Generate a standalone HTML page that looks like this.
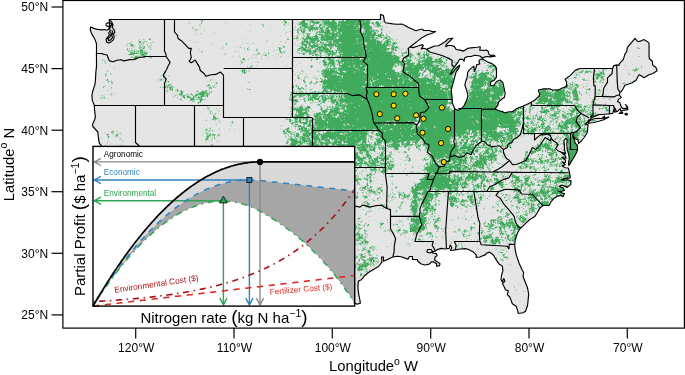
<!DOCTYPE html><html><head><meta charset="utf-8"><style>html,body{margin:0;padding:0;background:#fff}svg{display:block}text{font-family:"Liberation Sans",sans-serif}</style></head><body><svg width="685" height="375" viewBox="0 0 685 375">
<defs><clipPath id="us"><path d="M90.5 27.0 L93.9 28.4 L97.4 29.4 L102.0 29.9 L104.7 29.5 L106.7 30.2 L108.7 29.2 L109.6 25.5 L109.2 19.5 L380.5 19.5 L380.5 14.6 L382.0 14.9 L383.5 15.6 L384.4 21.2 L385.4 22.8 L392.8 23.9 L397.2 24.2 L401.7 24.0 L405.1 25.5 L408.0 27.3 L411.5 28.8 L415.9 30.8 L420.8 29.2 L422.8 29.2 L423.3 30.5 L429.7 30.5 L431.6 31.5 L435.6 31.5 L431.6 33.5 L427.4 34.7 L421.8 37.8 L417.9 40.9 L414.2 43.7 L410.0 47.0 L413.0 47.6 L418.9 45.8 L422.3 44.6 L423.3 45.4 L421.3 48.9 L423.8 48.3 L426.5 49.2 L430.7 47.6 L434.6 46.0 L438.5 45.8 L441.5 43.9 L445.4 41.5 L448.4 38.8 L452.8 38.2 L450.3 40.5 L447.4 43.3 L445.9 45.2 L445.9 46.7 L447.9 45.5 L451.3 45.5 L454.3 46.4 L456.2 49.5 L460.2 50.1 L463.6 51.1 L468.0 48.3 L471.0 47.9 L476.9 47.3 L480.3 46.8 L479.8 50.1 L483.8 50.5 L486.2 50.1 L488.2 51.3 L488.7 53.8 L490.6 55.6 L493.6 55.0 L495.1 56.3 L490.6 56.9 L486.2 56.5 L482.6 57.9 L479.8 56.0 L474.9 55.3 L471.0 56.5 L467.5 56.5 L464.6 58.1 L464.1 61.2 L462.6 59.3 L459.7 59.3 L458.2 61.8 L454.3 67.3 L452.8 69.2 L450.3 74.1 L452.3 72.9 L456.2 68.0 L459.7 65.1 L458.7 68.6 L456.2 71.7 L454.7 77.2 L453.3 82.1 L451.3 89.5 L451.5 92.7 L452.3 99.4 L452.3 103.1 L454.3 107.4 L455.2 109.2 L458.2 110.2 L461.1 109.0 L464.1 105.5 L466.5 100.6 L468.0 95.9 L466.7 90.4 L464.9 85.2 L465.6 81.5 L467.2 77.2 L467.7 72.3 L469.5 69.6 L473.9 66.1 L474.4 71.3 L475.9 68.0 L476.9 64.6 L479.8 64.0 L478.8 60.9 L480.3 59.3 L482.5 59.0 L485.0 60.6 L488.7 62.4 L492.1 63.7 L495.3 66.1 L496.5 68.6 L496.5 72.3 L496.5 77.2 L494.1 80.3 L490.6 82.1 L490.6 85.2 L493.6 85.8 L496.5 81.5 L500.0 80.0 L502.9 82.7 L504.4 89.5 L505.2 93.5 L504.4 97.5 L502.4 98.8 L500.8 100.0 L498.5 102.1 L498.0 104.9 L495.1 108.9 L498.5 110.5 L501.9 111.7 L502.2 111.2 L504.4 112.9 L509.3 111.7 L512.3 111.7 L516.2 108.9 L521.1 106.8 L523.9 105.8 L528.2 103.7 L531.3 102.2 L535.6 99.5 L538.3 96.9 L540.0 94.7 L538.3 90.1 L543.7 88.7 L549.6 88.9 L552.6 90.0 L558.5 89.9 L562.4 88.0 L566.5 86.4 L566.5 82.1 L565.1 79.3 L570.3 75.4 L575.2 70.4 L579.1 68.8 L581.1 68.5 L594.4 68.5 L612.6 68.5 L613.5 65.9 L616.7 64.9 L618.9 65.5 L619.4 63.7 L623.4 59.3 L624.8 54.4 L626.8 51.3 L627.3 47.6 L635.0 38.3 L636.6 40.3 L638.1 41.7 L641.1 40.9 L643.7 39.6 L647.5 41.7 L649.0 43.1 L649.1 57.0 L649.4 58.7 L652.4 61.2 L652.6 64.9 L654.0 66.2 L655.8 67.3 L656.8 69.8 L657.1 70.8 L652.9 73.5 L648.9 74.7 L646.5 76.2 L644.0 77.8 L641.6 76.0 L639.1 74.7 L637.6 77.2 L636.1 80.3 L632.2 82.7 L628.8 84.0 L624.8 85.2 L623.4 88.3 L621.4 91.4 L620.2 92.3 L619.2 95.1 L621.4 97.4 L618.5 99.4 L617.5 101.5 L619.9 102.8 L620.9 106.1 L622.4 108.4 L627.3 108.2 L626.3 105.2 L625.3 104.7 L627.6 106.8 L627.8 109.6 L624.4 110.1 L620.9 111.3 L620.2 108.6 L617.5 111.4 L616.3 111.7 L614.5 112.1 L614.0 108.6 L613.3 111.7 L612.6 113.4 L609.0 114.0 L606.7 114.0 L602.7 114.5 L598.8 114.6 L595.8 115.9 L591.4 117.8 L589.9 119.7 L588.5 120.3 L588.0 121.5 L585.5 124.2 L588.0 124.6 L587.5 130.2 L587.0 133.2 L583.8 138.0 L581.1 141.2 L578.6 143.3 L578.1 140.0 L575.2 138.8 L572.7 135.1 L573.2 133.6 L572.7 136.9 L574.2 139.4 L575.2 143.1 L577.2 144.9 L577.6 149.2 L576.7 152.3 L574.7 156.0 L571.7 160.9 L568.8 165.6 L568.5 162.8 L569.3 159.1 L568.8 154.8 L567.3 149.9 L566.8 144.9 L567.1 140.0 L565.9 138.2 L563.9 140.6 L564.4 144.9 L564.6 149.9 L565.6 153.6 L560.9 152.1 L565.2 155.4 L566.1 158.2 L561.9 157.5 L565.7 160.3 L565.2 162.7 L561.9 161.9 L565.2 164.6 L562.2 165.9 L565.4 167.7 L568.3 168.0 L568.6 169.0 L569.6 172.7 L570.3 177.9 L563.9 178.6 L561.4 180.0 L567.8 179.8 L571.1 180.7 L570.8 184.4 L567.3 187.4 L562.4 185.3 L559.0 186.2 L563.4 188.0 L564.4 190.5 L560.4 191.7 L558.3 191.1 L562.4 193.0 L564.4 193.6 L563.1 196.7 L561.4 195.4 L557.5 196.1 L554.5 197.9 L551.1 201.6 L549.1 205.5 L543.2 205.5 L540.0 207.9 L537.3 212.7 L534.9 216.4 L529.7 219.5 L524.6 224.4 L522.1 226.8 L520.4 228.3 L517.7 232.4 L516.2 236.7 L515.2 239.8 L514.7 244.5 L515.2 249.6 L516.2 254.6 L519.1 263.2 L521.6 268.7 L523.6 272.4 L523.1 276.7 L525.3 282.3 L527.5 287.8 L528.7 294.0 L528.0 301.4 L527.5 305.7 L525.5 311.2 L523.1 312.7 L520.1 313.2 L518.2 313.3 L517.7 310.6 L516.2 306.3 L512.3 303.8 L511.3 300.9 L509.8 297.0 L507.3 294.6 L508.3 290.9 L505.4 289.7 L503.9 286.2 L502.4 283.5 L504.9 281.0 L503.9 278.6 L502.2 281.6 L501.0 279.8 L501.5 275.5 L502.9 270.6 L502.4 266.3 L499.0 264.0 L495.6 258.9 L493.6 255.2 L489.7 252.1 L486.2 253.3 L485.7 254.6 L479.8 257.0 L476.1 257.4 L476.4 255.2 L472.9 251.7 L468.0 249.3 L465.1 248.6 L458.2 249.3 L455.2 249.9 L452.8 250.2 L450.3 250.5 L451.8 247.8 L450.3 244.9 L449.3 248.4 L446.4 248.8 L444.9 249.0 L441.5 248.4 L437.1 249.6 L435.4 251.1 L433.6 251.5 L432.1 252.7 L434.1 253.3 L436.6 253.9 L437.1 255.8 L435.1 257.0 L434.6 260.1 L437.5 261.9 L440.0 263.8 L439.5 265.6 L436.6 266.3 L436.6 263.8 L433.6 261.9 L431.2 261.9 L430.2 263.2 L428.7 264.4 L424.3 265.0 L420.8 263.8 L417.9 261.3 L417.4 259.5 L412.5 259.5 L412.5 256.5 L409.5 256.5 L408.0 259.1 L401.2 256.8 L397.7 256.2 L392.8 257.0 L387.4 259.5 L383.5 261.3 L383.5 257.0 L381.5 257.0 L382.0 261.9 L378.6 266.5 L371.7 270.6 L367.7 273.0 L363.8 276.7 L361.3 279.8 L358.4 281.0 L357.9 286.6 L358.4 292.7 L359.9 300.1 L360.4 303.1 L356.9 304.2 L353.5 302.0 L350.0 301.7 L345.1 299.5 L341.2 297.4 L340.2 294.0 L337.7 289.7 L337.3 284.1 L333.8 280.7 L331.4 276.1 L328.9 273.0 L325.9 264.4 L323.0 261.2 L318.6 256.2 L313.2 255.8 L309.7 254.8 L306.3 256.5 L304.3 261.3 L301.4 265.9 L297.9 264.2 L295.3 262.4 L291.0 260.1 L287.6 256.4 L286.1 250.9 L283.7 245.9 L279.2 242.5 L273.8 236.7 L268.4 231.8 L268.1 231.5 L251.5 231.5 L251.5 236.5 L223.5 236.5 L186.7 222.7 L187.6 219.8 L164.0 222.2 L162.7 220.1 L162.4 218.2 L161.3 213.9 L158.3 210.7 L154.4 207.5 L151.4 207.3 L150.4 204.1 L147.5 204.1 L143.1 202.2 L138.6 199.1 L131.1 198.5 L129.3 196.9 L129.5 191.7 L127.1 187.2 L122.9 183.5 L120.0 179.4 L117.0 175.7 L116.5 172.0 L118.0 169.6 L115.7 167.6 L112.1 164.6 L111.1 160.9 L110.9 157.5 L112.6 157.3 L115.1 160.9 L113.1 156.0 L111.1 156.6 L106.7 154.8 L105.7 151.1 L99.3 143.1 L98.3 136.9 L97.8 132.0 L92.9 126.5 L92.4 124.7 L94.4 120.3 L95.4 117.1 L94.4 108.6 L94.4 105.5 L92.4 100.6 L91.9 95.2 L92.9 90.7 L94.9 84.6 L95.4 80.9 L95.8 73.1 L96.5 66.1 L96.5 60.0 L96.4 53.2 L96.5 50.1 L96.5 43.9 L95.1 39.8 L91.5 33.4 L90.3 29.8Z M587.7 122.5 L590.4 120.3 L593.9 118.8 L598.8 118.2 L601.7 118.5 L604.7 116.0 L603.7 118.5 L606.7 117.6 L609.0 117.0 L603.7 119.7 L598.8 121.3 L593.9 122.5 L588.5 123.3Z M619.1 113.5 L621.4 112.1 L622.9 112.9 L622.4 113.5Z M624.8 114.1 L626.8 113.2 L627.6 114.8 L625.8 114.9Z"/></clipPath></defs>
<rect width="685" height="375" fill="#fff"/>
<path d="M90.5 27.0 L93.9 28.4 L97.4 29.4 L102.0 29.9 L104.7 29.5 L106.7 30.2 L108.7 29.2 L109.6 25.5 L109.2 19.5 L380.5 19.5 L380.5 14.6 L382.0 14.9 L383.5 15.6 L384.4 21.2 L385.4 22.8 L392.8 23.9 L397.2 24.2 L401.7 24.0 L405.1 25.5 L408.0 27.3 L411.5 28.8 L415.9 30.8 L420.8 29.2 L422.8 29.2 L423.3 30.5 L429.7 30.5 L431.6 31.5 L435.6 31.5 L431.6 33.5 L427.4 34.7 L421.8 37.8 L417.9 40.9 L414.2 43.7 L410.0 47.0 L413.0 47.6 L418.9 45.8 L422.3 44.6 L423.3 45.4 L421.3 48.9 L423.8 48.3 L426.5 49.2 L430.7 47.6 L434.6 46.0 L438.5 45.8 L441.5 43.9 L445.4 41.5 L448.4 38.8 L452.8 38.2 L450.3 40.5 L447.4 43.3 L445.9 45.2 L445.9 46.7 L447.9 45.5 L451.3 45.5 L454.3 46.4 L456.2 49.5 L460.2 50.1 L463.6 51.1 L468.0 48.3 L471.0 47.9 L476.9 47.3 L480.3 46.8 L479.8 50.1 L483.8 50.5 L486.2 50.1 L488.2 51.3 L488.7 53.8 L490.6 55.6 L493.6 55.0 L495.1 56.3 L490.6 56.9 L486.2 56.5 L482.6 57.9 L479.8 56.0 L474.9 55.3 L471.0 56.5 L467.5 56.5 L464.6 58.1 L464.1 61.2 L462.6 59.3 L459.7 59.3 L458.2 61.8 L454.3 67.3 L452.8 69.2 L450.3 74.1 L452.3 72.9 L456.2 68.0 L459.7 65.1 L458.7 68.6 L456.2 71.7 L454.7 77.2 L453.3 82.1 L451.3 89.5 L451.5 92.7 L452.3 99.4 L452.3 103.1 L454.3 107.4 L455.2 109.2 L458.2 110.2 L461.1 109.0 L464.1 105.5 L466.5 100.6 L468.0 95.9 L466.7 90.4 L464.9 85.2 L465.6 81.5 L467.2 77.2 L467.7 72.3 L469.5 69.6 L473.9 66.1 L474.4 71.3 L475.9 68.0 L476.9 64.6 L479.8 64.0 L478.8 60.9 L480.3 59.3 L482.5 59.0 L485.0 60.6 L488.7 62.4 L492.1 63.7 L495.3 66.1 L496.5 68.6 L496.5 72.3 L496.5 77.2 L494.1 80.3 L490.6 82.1 L490.6 85.2 L493.6 85.8 L496.5 81.5 L500.0 80.0 L502.9 82.7 L504.4 89.5 L505.2 93.5 L504.4 97.5 L502.4 98.8 L500.8 100.0 L498.5 102.1 L498.0 104.9 L495.1 108.9 L498.5 110.5 L501.9 111.7 L502.2 111.2 L504.4 112.9 L509.3 111.7 L512.3 111.7 L516.2 108.9 L521.1 106.8 L523.9 105.8 L528.2 103.7 L531.3 102.2 L535.6 99.5 L538.3 96.9 L540.0 94.7 L538.3 90.1 L543.7 88.7 L549.6 88.9 L552.6 90.0 L558.5 89.9 L562.4 88.0 L566.5 86.4 L566.5 82.1 L565.1 79.3 L570.3 75.4 L575.2 70.4 L579.1 68.8 L581.1 68.5 L594.4 68.5 L612.6 68.5 L613.5 65.9 L616.7 64.9 L618.9 65.5 L619.4 63.7 L623.4 59.3 L624.8 54.4 L626.8 51.3 L627.3 47.6 L635.0 38.3 L636.6 40.3 L638.1 41.7 L641.1 40.9 L643.7 39.6 L647.5 41.7 L649.0 43.1 L649.1 57.0 L649.4 58.7 L652.4 61.2 L652.6 64.9 L654.0 66.2 L655.8 67.3 L656.8 69.8 L657.1 70.8 L652.9 73.5 L648.9 74.7 L646.5 76.2 L644.0 77.8 L641.6 76.0 L639.1 74.7 L637.6 77.2 L636.1 80.3 L632.2 82.7 L628.8 84.0 L624.8 85.2 L623.4 88.3 L621.4 91.4 L620.2 92.3 L619.2 95.1 L621.4 97.4 L618.5 99.4 L617.5 101.5 L619.9 102.8 L620.9 106.1 L622.4 108.4 L627.3 108.2 L626.3 105.2 L625.3 104.7 L627.6 106.8 L627.8 109.6 L624.4 110.1 L620.9 111.3 L620.2 108.6 L617.5 111.4 L616.3 111.7 L614.5 112.1 L614.0 108.6 L613.3 111.7 L612.6 113.4 L609.0 114.0 L606.7 114.0 L602.7 114.5 L598.8 114.6 L595.8 115.9 L591.4 117.8 L589.9 119.7 L588.5 120.3 L588.0 121.5 L585.5 124.2 L588.0 124.6 L587.5 130.2 L587.0 133.2 L583.8 138.0 L581.1 141.2 L578.6 143.3 L578.1 140.0 L575.2 138.8 L572.7 135.1 L573.2 133.6 L572.7 136.9 L574.2 139.4 L575.2 143.1 L577.2 144.9 L577.6 149.2 L576.7 152.3 L574.7 156.0 L571.7 160.9 L568.8 165.6 L568.5 162.8 L569.3 159.1 L568.8 154.8 L567.3 149.9 L566.8 144.9 L567.1 140.0 L565.9 138.2 L563.9 140.6 L564.4 144.9 L564.6 149.9 L565.6 153.6 L560.9 152.1 L565.2 155.4 L566.1 158.2 L561.9 157.5 L565.7 160.3 L565.2 162.7 L561.9 161.9 L565.2 164.6 L562.2 165.9 L565.4 167.7 L568.3 168.0 L568.6 169.0 L569.6 172.7 L570.3 177.9 L563.9 178.6 L561.4 180.0 L567.8 179.8 L571.1 180.7 L570.8 184.4 L567.3 187.4 L562.4 185.3 L559.0 186.2 L563.4 188.0 L564.4 190.5 L560.4 191.7 L558.3 191.1 L562.4 193.0 L564.4 193.6 L563.1 196.7 L561.4 195.4 L557.5 196.1 L554.5 197.9 L551.1 201.6 L549.1 205.5 L543.2 205.5 L540.0 207.9 L537.3 212.7 L534.9 216.4 L529.7 219.5 L524.6 224.4 L522.1 226.8 L520.4 228.3 L517.7 232.4 L516.2 236.7 L515.2 239.8 L514.7 244.5 L515.2 249.6 L516.2 254.6 L519.1 263.2 L521.6 268.7 L523.6 272.4 L523.1 276.7 L525.3 282.3 L527.5 287.8 L528.7 294.0 L528.0 301.4 L527.5 305.7 L525.5 311.2 L523.1 312.7 L520.1 313.2 L518.2 313.3 L517.7 310.6 L516.2 306.3 L512.3 303.8 L511.3 300.9 L509.8 297.0 L507.3 294.6 L508.3 290.9 L505.4 289.7 L503.9 286.2 L502.4 283.5 L504.9 281.0 L503.9 278.6 L502.2 281.6 L501.0 279.8 L501.5 275.5 L502.9 270.6 L502.4 266.3 L499.0 264.0 L495.6 258.9 L493.6 255.2 L489.7 252.1 L486.2 253.3 L485.7 254.6 L479.8 257.0 L476.1 257.4 L476.4 255.2 L472.9 251.7 L468.0 249.3 L465.1 248.6 L458.2 249.3 L455.2 249.9 L452.8 250.2 L450.3 250.5 L451.8 247.8 L450.3 244.9 L449.3 248.4 L446.4 248.8 L444.9 249.0 L441.5 248.4 L437.1 249.6 L435.4 251.1 L433.6 251.5 L432.1 252.7 L434.1 253.3 L436.6 253.9 L437.1 255.8 L435.1 257.0 L434.6 260.1 L437.5 261.9 L440.0 263.8 L439.5 265.6 L436.6 266.3 L436.6 263.8 L433.6 261.9 L431.2 261.9 L430.2 263.2 L428.7 264.4 L424.3 265.0 L420.8 263.8 L417.9 261.3 L417.4 259.5 L412.5 259.5 L412.5 256.5 L409.5 256.5 L408.0 259.1 L401.2 256.8 L397.7 256.2 L392.8 257.0 L387.4 259.5 L383.5 261.3 L383.5 257.0 L381.5 257.0 L382.0 261.9 L378.6 266.5 L371.7 270.6 L367.7 273.0 L363.8 276.7 L361.3 279.8 L358.4 281.0 L357.9 286.6 L358.4 292.7 L359.9 300.1 L360.4 303.1 L356.9 304.2 L353.5 302.0 L350.0 301.7 L345.1 299.5 L341.2 297.4 L340.2 294.0 L337.7 289.7 L337.3 284.1 L333.8 280.7 L331.4 276.1 L328.9 273.0 L325.9 264.4 L323.0 261.2 L318.6 256.2 L313.2 255.8 L309.7 254.8 L306.3 256.5 L304.3 261.3 L301.4 265.9 L297.9 264.2 L295.3 262.4 L291.0 260.1 L287.6 256.4 L286.1 250.9 L283.7 245.9 L279.2 242.5 L273.8 236.7 L268.4 231.8 L268.1 231.5 L251.5 231.5 L251.5 236.5 L223.5 236.5 L186.7 222.7 L187.6 219.8 L164.0 222.2 L162.7 220.1 L162.4 218.2 L161.3 213.9 L158.3 210.7 L154.4 207.5 L151.4 207.3 L150.4 204.1 L147.5 204.1 L143.1 202.2 L138.6 199.1 L131.1 198.5 L129.3 196.9 L129.5 191.7 L127.1 187.2 L122.9 183.5 L120.0 179.4 L117.0 175.7 L116.5 172.0 L118.0 169.6 L115.7 167.6 L112.1 164.6 L111.1 160.9 L110.9 157.5 L112.6 157.3 L115.1 160.9 L113.1 156.0 L111.1 156.6 L106.7 154.8 L105.7 151.1 L99.3 143.1 L98.3 136.9 L97.8 132.0 L92.9 126.5 L92.4 124.7 L94.4 120.3 L95.4 117.1 L94.4 108.6 L94.4 105.5 L92.4 100.6 L91.9 95.2 L92.9 90.7 L94.9 84.6 L95.4 80.9 L95.8 73.1 L96.5 66.1 L96.5 60.0 L96.4 53.2 L96.5 50.1 L96.5 43.9 L95.1 39.8 L91.5 33.4 L90.3 29.8Z M587.7 122.5 L590.4 120.3 L593.9 118.8 L598.8 118.2 L601.7 118.5 L604.7 116.0 L603.7 118.5 L606.7 117.6 L609.0 117.0 L603.7 119.7 L598.8 121.3 L593.9 122.5 L588.5 123.3Z M619.1 113.5 L621.4 112.1 L622.9 112.9 L622.4 113.5Z M624.8 114.1 L626.8 113.2 L627.6 114.8 L625.8 114.9Z" fill="#e5e5e5"/>
<g clip-path="url(#us)" fill="none" stroke="#41ab5d" stroke-width="1" shape-rendering="crispEdges"><path stroke-opacity="0.25" d="M379 18.5h1M191 19.5h1m12 0h1m82 0h2m17 0h1m3 0h3m1 0h2m4 0h2m4 0h1m6 0h1m2 0h1m1 0h1m24 0h1m14 0h1M201 20.5h1m81 0h1m22 0h1m7 0h1m1 0h2m11 0h1m7 0h1m1 0h3M282 21.5h1m3 0h1m23 0h1m4 0h1m4 0h1m9 0h1m5 0h1m33 0h1m6 0h2m3 0h2M190 22.5h1m10 0h1m70 0h1m9 0h1m10 0h1m3 0h1m8 0h1m13 0h1m2 0h1m12 0h1m25 0h1m16 0h2m1 0h1M189 23.5h1m71 0h1m22 0h1m1 0h1m1 0h1m10 0h1m8 0h1m3 0h1m7 0h2m48 0h2M111 24.5h2m75 0h1m10 0h1m1 0h1m38 0h1m9 0h1m10 0h1m1 0h1m19 0h1m3 0h2m3 0h1m17 0h1m1 0h1m3 0h1m5 0h2m45 0h1m4 0h2M111 25.5h1m88 0h1m61 0h1m21 0h2m14 0h2m6 0h2m4 0h1m6 0h1m3 0h1m28 0h1m3 0h1m12 0h1m4 0h1M110 26.5h1m83 0h1m90 0h1m9 0h1m17 0h1m2 0h2m4 0h1m2 0h1m1 0h1m31 0h1m14 0h1m6 0h1M114 27.5h2m84 0h1m98 0h1m1 0h3m13 0h1m5 0h1m1 0h1m13 0h1m19 0h2m12 0h1m7 0h2M270 28.5h1m28 0h1m5 0h1m13 0h1m3 0h1m1 0h1m4 0h1m31 0h1M116 29.5h1m76 0h1m3 0h1m6 0h1m79 0h1m14 0h1m19 0h1m3 0h2m12 0h1m25 0h1m6 0h1m2 0h2M194 30.5h2m35 0h2m16 0h2m19 0h1m11 0h1m10 0h2m1 0h1m1 0h2m2 0h1m10 0h2m2 0h1m12 0h1m6 0h1m40 0h1M196 31.5h1m92 0h1m15 0h1m2 0h1m3 0h1m3 0h1m1 0h1m18 0h1m24 0h1m12 0h1m1 0h1m3 0h1m7 0h1M118 32.5h1m77 0h1m17 0h1m59 0h1m26 0h1m29 0h1m2 0h1m27 0h1m19 0h1m3 0h1m2 0h1M113 33.5h1m83 0h1m2 0h2m12 0h1m76 0h1m5 0h1m1 0h1m2 0h1m1 0h2m4 0h1m6 0h1m23 0h1m19 0h1m15 0h1m2 0h1M116 34.5h1m77 0h1m3 0h1m2 0h1m52 0h1m43 0h3m1 0h2m9 0h1m1 0h1m7 0h2m13 0h1m44 0h1M115 35.5h1m11 0h1m67 0h2m94 0h1m7 0h1m6 0h1m2 0h1m10 0h1m9 0h1m55 0h3M224 36.5h1m69 0h2m8 0h1m13 0h1m1 0h1m56 0h1m5 0h2m4 0h1M129 37.5h1m110 0h1m46 0h1m13 0h2m15 0h3m54 0h1m2 0h3m2 0h1m3 0h1m2 0h1M150 38.5h1m93 0h1m42 0h2m9 0h1m2 0h1m2 0h1m75 0h1m2 0h1m6 0h3M139 39.5h1m4 0h1m149 0h1m7 0h1m73 0h2m6 0h1m1 0h1m4 0h3m2 0h2M138 40.5h2m4 0h1m44 0h2m111 0h2m5 0h1m10 0h1m11 0h1m45 0h2m1 0h1m3 0h1m3 0h2m3 0h1M132 41.5h1m8 0h3m1 0h1m48 0h1m38 0h1m31 0h2m20 0h1m13 0h1m19 0h2m1 0h1m55 0h1m3 0h1m8 0h1m1 0h2m2 0h1M130 42.5h2m6 0h1m3 0h1m1 0h1m6 0h3m88 0h1m62 0h1m9 0h1m11 0h1m12 0h1m23 0h1m18 0h1m5 0h1m1 0h1M127 43.5h3m9 0h4m82 0h1m17 0h1m2 0h3m3 0h3m17 0h1m22 0h1m4 0h1m3 0h1m13 0h1m5 0h1m1 0h1m13 0h1m24 0h2m22 0h1m7 0h1M127 44.5h1m2 0h1m2 0h1m5 0h2m132 0h1m5 0h1m15 0h1m1 0h1m3 0h1m5 0h2m6 0h1m2 0h1m1 0h1m43 0h2m26 0h1M127 45.5h1m6 0h1m4 0h2m1 0h1m4 0h1m78 0h1m13 0h1m56 0h2m1 0h1m2 0h1m3 0h2m11 0h1M130 46.5h3m2 0h1m6 0h2m4 0h1m52 0h1m34 0h2m24 0h1m35 0h1m4 0h1m24 0h1m58 0h3m5 0h1m1 0h2M132 47.5h2m4 0h1m3 0h1m5 0h2m71 0h1m17 0h1m1 0h1m2 0h1m59 0h1m10 0h2m10 0h1m8 0h1m61 0h1m239 0h1M131 48.5h2m17 0h1m70 0h2m25 0h1m7 0h2m20 0h1m27 0h2m13 0h1m10 0h1m32 0h1m28 0h1m3 0h2m2 0h2M128 49.5h1m5 0h3m14 0h1m47 0h1m50 0h1m6 0h1m6 0h1m9 0h1m2 0h1m2 0h1m17 0h1m1 0h1m10 0h1m1 0h1m4 0h1m10 0h1m5 0h1m29 0h1m33 0h3m1 0h1m2 0h1m1 0h1M127 50.5h3m2 0h2m2 0h1m1 0h2m3 0h2m54 0h1m45 0h1m1 0h2m5 0h1m19 0h1m3 0h1m21 0h2m9 0h2m20 0h1m53 0h1m3 0h1m5 0h1m8 0h1M129 51.5h3m1 0h1m1 0h2m2 0h1m62 0h1m35 0h1m43 0h4m11 0h1m4 0h1m1 0h1m7 0h1m4 0h2m19 0h1m25 0h1m22 0h1m1 0h2m2 0h1m13 0h1m2 0h1m7 0h1m9 0h1M129 52.5h1m3 0h1m1 0h1m2 0h2m3 0h1m57 0h1m57 0h1m8 0h1m10 0h1m3 0h1m18 0h1m1 0h1m12 0h2m4 0h1m4 0h1m8 0h1m56 0h1m3 0h1m4 0h1m6 0h1m8 0h1m3 0h1m3 0h2M139 53.5h1m7 0h1m5 0h1m109 0h1m1 0h1m9 0h1m8 0h1m2 0h1m10 0h1m1 0h2m3 0h1m1 0h1m6 0h1m1 0h2m1 0h1m1 0h1m2 0h1m1 0h1m14 0h2m49 0h1m2 0h1m20 0h1m7 0h1M224 54.5h2m27 0h4m2 0h1m1 0h2m1 0h1m1 0h1m1 0h1m7 0h1m35 0h1m8 0h1m2 0h1m11 0h1m2 0h1m54 0h1m6 0h1m14 0h1m5 0h1m7 0h2m1 0h1M130 55.5h1m2 0h1m2 0h3m7 0h1m3 0h1m74 0h1m13 0h1m12 0h1m3 0h1m6 0h1m8 0h1m31 0h1m14 0h1m2 0h1m1 0h3m7 0h3m4 0h1m59 0h1m1 0h2m1 0h1m15 0h1m6 0h1m21 0h1M132 56.5h1m1 0h1m3 0h1m92 0h2m5 0h1m22 0h1m14 0h1m12 0h1m19 0h1m1 0h1m4 0h1m2 0h1m1 0h1m5 0h1m2 0h1m69 0h3m17 0h3m7 0h1m2 0h1m3 0h1m5 0h2m5 0h1m187 0h1M112 57.5h1m17 0h1m1 0h1m16 0h1m88 0h1m1 0h1m11 0h1m2 0h2m16 0h1m36 0h1m7 0h1m5 0h1m1 0h1m7 0h1m2 0h1m2 0h2m10 0h1m58 0h3m1 0h1m2 0h1m13 0h1m1 0h1m9 0h1m2 0h1M242 58.5h1m5 0h1m3 0h1m8 0h1m5 0h1m43 0h2m5 0h1m8 0h1m3 0h1m5 0h3m21 0h2m39 0h1m1 0h1m2 0h2m7 0h4m2 0h1m25 0h1M103 59.5h1m12 0h1m11 0h1m7 0h1m55 0h1m1 0h2m52 0h1m61 0h1m1 0h1m27 0h1m19 0h1m38 0h1m3 0h1m10 0h1m1 0h1m3 0h1m11 0h1m1 0h1m12 0h2m32 0h1M104 60.5h1m10 0h2m18 0h1m3 0h1m48 0h1m6 0h1m73 0h1m5 0h1m17 0h1m31 0h1m8 0h2m3 0h1m61 0h1m3 0h1m13 0h2m13 0h1m12 0h1m4 0h1m26 0h1m1 0h1M105 61.5h1m39 0h1m49 0h1m46 0h1m11 0h1m39 0h1m15 0h1m9 0h1m1 0h1m3 0h1m1 0h1m8 0h1m79 0h1m26 0h3m4 0h1m3 0h1m23 0h2m1 0h1M104 62.5h2m89 0h2m95 0h1m6 0h1m16 0h1m2 0h2m1 0h1m5 0h1m14 0h1m21 0h1m37 0h3m4 0h1m2 0h1m3 0h1m5 0h1m22 0h1m4 0h1m1 0h1m3 0h1m31 0h1M102 63.5h1m2 0h1m87 0h1m57 0h1m47 0h1m19 0h1m7 0h1m7 0h1m1 0h1m2 0h1m75 0h1m3 0h1m13 0h1m6 0h1m1 0h1m2 0h1m7 0h1m1 0h1m28 0h1m3 0h2M237 64.5h1m2 0h1m32 0h1m22 0h1m23 0h1m14 0h1m2 0h1m1 0h1m54 0h1m3 0h1m14 0h1m18 0h2m1 0h2m4 0h1m9 0h1m35 0h1m1 0h1m141 0h1M109 65.5h1m87 0h1m58 0h2m29 0h1m24 0h1m10 0h1m13 0h2m15 0h1m5 0h1m35 0h1m2 0h2m4 0h1m29 0h1m4 0h1m3 0h1m9 0h1m33 0h1m136 0h1m8 0h1M247 66.5h1m4 0h1m30 0h1m26 0h1m14 0h1m2 0h2m1 0h3m5 0h1m26 0h1m27 0h1m18 0h1m9 0h1m2 0h1m11 0h1m2 0h1m6 0h1m9 0h1m27 0h1m8 0h1m129 0h1M248 67.5h2m1 0h1m2 0h1m34 0h1m5 0h1m14 0h1m1 0h1m7 0h1m4 0h1m2 0h1m6 0h2m28 0h2m26 0h2m1 0h1m3 0h1m38 0h1m2 0h2m1 0h3m4 0h1m20 0h4m12 0h1m2 0h2M247 68.5h1m28 0h1m79 0h1m8 0h1m26 0h1m8 0h1m29 0h1m13 0h1m4 0h1m1 0h1m34 0h2m90 0h1m2 0h1m2 0h1m15 0h2m32 0h1M321 69.5h2m6 0h1m64 0h1m47 0h1m9 0h1m20 0h1m4 0h1m8 0h1m101 0h1m11 0h1m2 0h3m16 0h1m8 0h1M107 70.5h2m131 0h2m6 0h2m41 0h1m9 0h1m33 0h1m1 0h1m27 0h1m57 0h1m2 0h1m13 0h1m35 0h2m3 0h1m6 0h1m6 0h1m79 0h4m1 0h2m6 0h1m2 0h1m5 0h1m1 0h1m2 0h1m25 0h1m5 0h1m2 0h1M106 71.5h1m56 0h1m77 0h1m4 0h1m1 0h2m42 0h1m8 0h1m1 0h1m15 0h1m17 0h1m57 0h1m1 0h1m8 0h1m46 0h1m24 0h1m3 0h2m3 0h1m1 0h1m1 0h1m88 0h1m2 0h1m10 0h1m5 0h2m33 0h1M246 72.5h1m52 0h1m2 0h1m15 0h1m2 0h1m17 0h1m5 0h1m20 0h1m33 0h2m17 0h2m1 0h1m1 0h1m4 0h1m20 0h2m3 0h1m22 0h1m4 0h2m5 0h1m81 0h1m2 0h4m9 0h1m5 0h1m4 0h1m27 0h1M111 73.5h1m52 0h2m76 0h1m2 0h1m57 0h1m2 0h1m2 0h1m111 0h1m1 0h1m5 0h1m2 0h1m18 0h1m20 0h1m1 0h1m14 0h1m5 0h1m79 0h1m2 0h1m2 0h1m2 0h2m9 0h1m3 0h1m28 0h2M106 74.5h1m3 0h2m188 0h1m5 0h1m14 0h1m15 0h2m84 0h1m5 0h1m25 0h1m30 0h1m2 0h1m2 0h1m3 0h1m78 0h1m2 0h2m4 0h1m9 0h1m6 0h2m25 0h1M160 75.5h1m5 0h1m1 0h1m72 0h1m55 0h1m6 0h1m8 0h1m5 0h1m2 0h1m85 0h1m2 0h1m11 0h1m1 0h1m3 0h1m24 0h1m13 0h1m4 0h1m13 0h1m7 0h1m78 0h1m2 0h1m17 0h1m6 0h3M105 76.5h2m61 0h2m128 0h1m7 0h1m7 0h1m26 0h1m68 0h1m11 0h1m3 0h2m3 0h1m13 0h1m8 0h1m13 0h1m8 0h2m12 0h1m83 0h1m19 0h1m4 0h1M164 77.5h1m47 0h1m86 0h1m5 0h2m6 0h2m83 0h1m24 0h1m2 0h1m1 0h1m24 0h1m24 0h1m11 0h1m1 0h1m110 0h1M159 78.5h1m1 0h1m135 0h1m7 0h1m2 0h1m5 0h4m3 0h1m66 0h1m1 0h1m62 0h1m14 0h3m1 0h1m19 0h1m1 0h1m72 0h2m2 0h1m1 0h1m8 0h1m1 0h1m3 0h1m6 0h1M157 79.5h1m1 0h1m3 0h2m45 0h1m3 0h1m84 0h1m1 0h1m1 0h1m12 0h1m6 0h1m2 0h1m63 0h1m21 0h1m24 0h1m29 0h1m25 0h1m74 0h1m24 0h1m2 0h1m3 0h3m1 0h1m30 0h1M105 80.5h2m1 0h1m2 0h1m45 0h1m1 0h1m7 0h1m43 0h1m2 0h1m32 0h1m47 0h1m189 0h1m100 0h1m2 0h1m4 0h1m7 0h1m30 0h2M107 81.5h1m49 0h2m3 0h1m4 0h1m39 0h2m86 0h1m9 0h1m60 0h1m3 0h1m32 0h1m31 0h1m1 0h1m48 0h2m3 0h2m3 0h2m1 0h3m73 0h1m17 0h1m36 0h1M108 82.5h1m102 0h1m3 0h1m1 0h1m31 0h1m55 0h1m6 0h1m52 0h2m3 0h2m26 0h1m28 0h1m68 0h1m72 0h1m3 0h1m20 0h1m1 0h1M108 83.5h1m56 0h1m49 0h1m88 0h1m6 0h1m1 0h1m2 0h1m5 0h1m112 0h1m4 0h1m11 0h1m50 0h1m70 0h2m46 0h1m7 0h1M169 84.5h1m1 0h1m44 0h1m88 0h1m3 0h2m4 0h1m5 0h2m48 0h1m46 0h1m16 0h1m34 0h1m15 0h1m9 0h1m1 0h1m4 0h1m64 0h1M164 85.5h1m2 0h1m2 0h1m35 0h1m3 0h1m85 0h3m20 0h1m5 0h1m45 0h1m20 0h1m24 0h1m24 0h1m1 0h1m41 0h1m10 0h1m71 0h1m5 0h1m10 0h1m4 0h1m9 0h1M109 86.5h1m50 0h1m3 0h1m3 0h3m34 0h1m2 0h5m101 0h1m64 0h1m3 0h1m58 0h1m1 0h1m22 0h1m18 0h2m9 0h1m71 0h1m1 0h1m2 0h3m4 0h1m3 0h1m15 0h1m18 0h1M163 87.5h2m1 0h1m1 0h1m4 0h2m33 0h1m5 0h2m75 0h1m4 0h1m13 0h1m131 0h1m4 0h1m33 0h1m4 0h1m76 0h1m4 0h1m3 0h1m5 0h1m41 0h1M111 88.5h1m59 0h1m5 0h1m30 0h1m88 0h1m8 0h1m4 0h2m52 0h1m104 0h2m9 0h1m1 0h2m1 0h1m75 0h1m3 0h2m13 0h1m3 0h1m2 0h1m17 0h1M110 89.5h1m55 0h1m9 0h1m4 0h1m65 0h2m1 0h1m43 0h1m2 0h1m8 0h1m4 0h1m16 0h1m13 0h1m98 0h1m6 0h1m21 0h1m91 0h1m7 0h1m15 0h1M109 90.5h1m60 0h2m8 0h1m16 0h1m4 0h2m3 0h1m1 0h1m90 0h1m9 0h1m10 0h1m149 0h1m11 0h1m56 0h1m7 0h1m4 0h2m12 0h1m2 0h1m6 0h1m10 0h1m12 0h1m5 0h1M165 91.5h1m1 0h2m3 0h1m6 0h2m2 0h1m14 0h1m2 0h1m5 0h2m1 0h1m82 0h2m2 0h2m2 0h1m3 0h2m2 0h1m2 0h2m2 0h1m2 0h1m1 0h1m147 0h1m78 0h4m17 0h2m6 0h2m11 0h1m5 0h2m3 0h1M111 92.5h2m54 0h1m11 0h1m17 0h1m9 0h2m2 0h1m38 0h1m56 0h1m1 0h1m6 0h1m8 0h1m4 0h1m1 0h2m2 0h1m2 0h1m37 0h1m90 0h1m21 0h1m61 0h2m11 0h2m10 0h1m2 0h1m17 0h2M111 93.5h1m2 0h1m57 0h1m5 0h1m8 0h1m9 0h1m10 0h1m84 0h1m1 0h1m1 0h1m10 0h2m2 0h1m7 0h2m2 0h1m11 0h1m131 0h1m23 0h1m75 0h1m2 0h1m8 0h1m13 0h1m1 0h1m1 0h2M104 94.5h1m9 0h1m60 0h4m7 0h1m1 0h1m3 0h1m12 0h1m104 0h2m10 0h1m8 0h1m3 0h1m2 0h1m128 0h1m98 0h1m2 0h1m2 0h1m6 0h1m7 0h1m7 0h2m7 0h1M101 95.5h1m9 0h1m59 0h1m2 0h1m1 0h1m5 0h1m3 0h1m3 0h1m3 0h1m3 0h2m5 0h1m2 0h1m82 0h1m6 0h1m6 0h1m12 0h3m19 0h1m127 0h1m101 0h1m7 0h1m16 0h2m1 0h1m7 0h1m1 0h1M102 96.5h1m1 0h1m70 0h1m5 0h1m4 0h1m9 0h1m2 0h1m4 0h1m86 0h1m6 0h1m4 0h1m14 0h1m7 0h2m1 0h1m12 0h1m126 0h1m31 0h1m63 0h1m3 0h1m31 0h1m3 0h1M101 97.5h1m71 0h1m7 0h1m3 0h1m6 0h1m4 0h1m9 0h1m83 0h1m3 0h1m1 0h1m1 0h1m3 0h2m16 0h1m4 0h1m8 0h1m1 0h2m113 0h1m37 0h1m9 0h1m36 0h1m11 0h1m16 0h2m1 0h1m1 0h1m1 0h1m4 0h1m7 0h1m7 0h1m8 0h1m2 0h1m5 0h1M101 98.5h1m75 0h1m2 0h2m7 0h1m6 0h1m92 0h1m13 0h1m1 0h1m1 0h1m12 0h1m14 0h2m7 0h1m123 0h1m67 0h1m1 0h1m13 0h1m13 0h2m1 0h1m9 0h1m10 0h1m13 0h1m5 0h1M102 99.5h1m92 0h1m2 0h1m4 0h2m92 0h1m1 0h3m3 0h1m1 0h1m12 0h1m6 0h1m34 0h1m85 0h1m42 0h1m45 0h1m31 0h1m23 0h1m2 0h3m9 0h1M179 100.5h1m1 0h2m9 0h1m11 0h1m101 0h1m2 0h1m1 0h1m5 0h2m17 0h2m152 0h1m5 0h1m1 0h1m36 0h2m17 0h1m18 0h2m3 0h2m17 0h1m11 0h1M189 101.5h1m4 0h1m6 0h1m89 0h1m18 0h1m2 0h1m1 0h1m2 0h1m2 0h1m3 0h1m3 0h1m8 0h1m111 0h1m47 0h1m35 0h1m29 0h1m11 0h2m8 0h1m4 0h1M197 102.5h1m3 0h1m89 0h2m3 0h2m13 0h1m1 0h1m5 0h1m1 0h1m3 0h1m4 0h1m4 0h1m8 0h1m190 0h1m7 0h1m31 0h1m18 0h2m9 0h1M296 103.5h1m8 0h1m5 0h2m5 0h1m2 0h1m20 0h1m202 0h1m20 0h4m2 0h3m3 0h1m15 0h1m10 0h1M204 104.5h1m88 0h1m7 0h1m1 0h1m17 0h1m12 0h1m93 0h1m18 0h1m1 0h1m75 0h1m3 0h1m1 0h2m1 0h1m2 0h1m5 0h1m2 0h1m6 0h1m21 0h1m5 0h1m8 0h5m1 0h1m6 0h1M207 105.5h1m84 0h1m1 0h1m1 0h1m6 0h1m3 0h1m12 0h1m6 0h1m2 0h1m196 0h1m2 0h1m1 0h1m2 0h1m6 0h2m9 0h1m7 0h2m11 0h2m8 0h1m1 0h2m3 0h2m13 0h1M192 106.5h1m96 0h1m4 0h1m2 0h1m4 0h1m1 0h1m11 0h1m4 0h1m6 0h1m2 0h1m2 0h1m2 0h1m109 0h1m5 0h1m70 0h1m20 0h1m24 0h1m2 0h1m1 0h1m11 0h1m2 0h1m1 0h1m5 0h1m1 0h1m3 0h2M206 107.5h1m1 0h2m79 0h3m4 0h2m5 0h1m1 0h1m18 0h1m3 0h1m4 0h1m5 0h2m113 0h1m41 0h1m35 0h1m10 0h2m5 0h1m4 0h1m10 0h1m5 0h1m1 0h1m12 0h1m2 0h1m8 0h1m4 0h1M219 108.5h1m78 0h1m4 0h1m16 0h1m1 0h1m3 0h1m2 0h2m187 0h2m8 0h1m4 0h1m3 0h1m5 0h1m5 0h1m5 0h1m7 0h1m5 0h1m11 0h2m2 0h1m1 0h1m1 0h1m8 0h1m2 0h1m5 0h2M204 109.5h1m3 0h1m8 0h1m72 0h1m20 0h1m12 0h1m127 0h1m67 0h1m3 0h3m4 0h2m12 0h1m1 0h2m6 0h1m3 0h1m3 0h1m6 0h1m8 0h1m5 0h1m1 0h1m1 0h2m2 0h1m10 0h2M208 110.5h3m7 0h1m72 0h1m1 0h1m1 0h1m46 0h1m107 0h1m67 0h1m3 0h2m1 0h2m13 0h1m1 0h2m6 0h1m7 0h1m3 0h1m6 0h1m16 0h2m4 0h2m15 0h1M292 111.5h1m9 0h2m3 0h1m1 0h1m2 0h2m7 0h1m197 0h1m4 0h1m13 0h2m13 0h1m10 0h1m3 0h1m1 0h1m4 0h1m8 0h1m20 0h4M297 112.5h1m13 0h1m4 0h3m9 0h1m195 0h1m5 0h1m9 0h1m6 0h3m8 0h1m1 0h1m4 0h1m2 0h1m5 0h1m6 0h1m1 0h1m2 0h2m6 0h1m6 0h1M209 113.5h1m1 0h1m4 0h1m1 0h1m71 0h1m1 0h1m2 0h2m16 0h1m7 0h1m203 0h1m3 0h1m6 0h1m10 0h2m4 0h1m5 0h1m2 0h5m14 0h1m4 0h2m6 0h1m1 0h2M213 114.5h2m73 0h1m5 0h1m10 0h1m3 0h2m2 0h1m17 0h1m5 0h2m185 0h2m11 0h1m11 0h1m9 0h1m4 0h2m8 0h1m3 0h2m3 0h2m1 0h1m6 0h1m14 0h1M213 115.5h1m76 0h1m15 0h1m1 0h1m4 0h1m7 0h2m15 0h1m178 0h1m3 0h2m1 0h1m2 0h3m4 0h1m4 0h1m9 0h1m9 0h1m8 0h2m2 0h1m2 0h1m4 0h1m2 0h1m1 0h1m2 0h1m6 0h1M215 116.5h1m74 0h1m22 0h1m21 0h1m1 0h1m143 0h1m33 0h1m2 0h1m5 0h1m1 0h1m1 0h1m3 0h1m2 0h1m2 0h1m4 0h1m6 0h2m5 0h1m1 0h1m6 0h1m7 0h1m5 0h1m1 0h1m7 0h1M217 117.5h2m72 0h2m6 0h1m8 0h1m5 0h1m200 0h1m1 0h1m3 0h1m21 0h1m1 0h1m5 0h1m1 0h1m1 0h1m3 0h1m1 0h3m4 0h2m10 0h1m2 0h3m3 0h2m17 0h1M210 118.5h1m7 0h1m67 0h2m1 0h1m8 0h1m9 0h1m2 0h2m1 0h1m7 0h1m93 0h1m1 0h1m1 0h1m93 0h1m5 0h1m25 0h1m4 0h1m1 0h1m9 0h1m1 0h1m2 0h1m8 0h1m5 0h1m4 0h1M207 119.5h1m8 0h3m75 0h1m6 0h1m2 0h1m5 0h1m1 0h1m106 0h1m104 0h1m1 0h1m4 0h2m2 0h1m8 0h1m1 0h1m10 0h1m7 0h1m11 0h1m5 0h1m1 0h1m3 0h1m2 0h2m2 0h1M205 120.5h1m8 0h2m2 0h1m1 0h1m62 0h1m10 0h1m2 0h2m4 0h1m10 0h1m105 0h1m55 0h1m42 0h2m8 0h1m2 0h1m2 0h1m10 0h1m4 0h1m3 0h3m20 0h2m1 0h3m2 0h1m2 0h3M212 121.5h1m5 0h2m11 0h1m51 0h1m8 0h3m7 0h1m11 0h1m72 0h1m89 0h1m43 0h1m5 0h1m1 0h1m7 0h1m5 0h1m8 0h2m9 0h2m21 0h2m1 0h2m2 0h2M231 122.5h1m57 0h1m1 0h1m5 0h2m12 0h1m1 0h1m90 0h1m13 0h1m58 0h1m42 0h1m1 0h1m3 0h1m3 0h1m2 0h1m8 0h1m4 0h1m3 0h1m2 0h1m4 0h1m31 0h1m3 0h1M215 123.5h1m16 0h1m57 0h1m5 0h1m5 0h1m9 0h1m1 0h1m70 0h2m6 0h1m1 0h1m24 0h1m114 0h3m11 0h1m3 0h1m4 0h1m1 0h1m27 0h1m1 0h1M231 124.5h1m59 0h1m6 0h1m8 0h1m4 0h1m1 0h1m29 0h1m2 0h1m37 0h1m21 0h1m7 0h1m83 0h1m17 0h1m8 0h3m1 0h2m1 0h3m2 0h1m1 0h1m3 0h1m3 0h3m5 0h1m3 0h3m6 0h2m10 0h1M279 125.5h1m1 0h2m5 0h1m5 0h2m1 0h1m5 0h2m44 0h1m65 0h3m102 0h1m8 0h1m10 0h1m3 0h1m2 0h1m1 0h1m20 0h1m15 0h2M280 126.5h1m12 0h1m22 0h1m117 0h1m13 0h1m68 0h1m1 0h1m3 0h1m4 0h2m15 0h2m10 0h1m10 0h1m1 0h1m1 0h1m8 0h2M210 127.5h1m80 0h1m3 0h1m2 0h1m1 0h1m11 0h1m100 0h1m3 0h1m16 0h1m62 0h1m2 0h1m20 0h2m5 0h3m7 0h1m1 0h2m12 0h1m1 0h1m2 0h1m14 0h1m5 0h1m4 0h1M206 128.5h1m2 0h1m8 0h2m9 0h1m50 0h1m4 0h2m4 0h1m3 0h1m2 0h1m10 0h2m16 0h1m63 0h1m20 0h1m84 0h1m3 0h1m5 0h1m17 0h1m5 0h1m5 0h1m12 0h2m2 0h1m4 0h1m11 0h2m2 0h3m5 0h1m3 0h1M210 129.5h1m8 0h1m9 0h1m4 0h1m45 0h1m2 0h1m11 0h1m1 0h1m62 0h1m13 0h1m36 0h1m94 0h1m1 0h1m17 0h1m2 0h1m6 0h1m7 0h1m7 0h2m3 0h1m1 0h1m7 0h1m2 0h1m6 0h1m4 0h1m2 0h2M112 130.5h2m3 0h1m86 0h6m4 0h1m4 0h1m14 0h1m50 0h2m2 0h1m7 0h1m2 0h1m20 0h1m9 0h1m10 0h1m3 0h1m2 0h2m9 0h1m13 0h1m92 0h1m10 0h1m21 0h2m5 0h1m8 0h1m3 0h1m8 0h1m8 0h1m1 0h1m18 0h1m4 0h1m3 0h1m1 0h2m5 0h1m2 0h1M116 131.5h2m90 0h1m3 0h2m68 0h1m2 0h2m4 0h1m2 0h2m13 0h1m12 0h1m3 0h1m4 0h3m15 0h1m19 0h1m97 0h2m7 0h1m22 0h1m2 0h1m5 0h1m11 0h2m17 0h1m3 0h1m2 0h1m1 0h1m2 0h1m2 0h1m4 0h1m22 0h1M105 132.5h1m7 0h2m4 0h2m84 0h1m79 0h1m1 0h1m3 0h1m2 0h2m2 0h1m1 0h1m2 0h2m14 0h1m50 0h1m2 0h2m129 0h1m17 0h1m24 0h1m34 0h1m3 0h1M105 133.5h1m5 0h1m5 0h3m82 0h1m17 0h1m62 0h1m10 0h2m6 0h1m17 0h1m1 0h1m17 0h2m26 0h1m4 0h1m1 0h1m94 0h1m1 0h1m11 0h1m32 0h2m6 0h1m1 0h1m8 0h1m13 0h1m2 0h2m14 0h1m10 0h2m1 0h3M106 134.5h1m6 0h1m88 0h1m3 0h1m1 0h1m6 0h1m1 0h1m66 0h1m3 0h1m1 0h1m1 0h1m47 0h2m31 0h1m82 0h1m20 0h1m25 0h1m5 0h1m3 0h1m7 0h1m1 0h1m1 0h3m2 0h1m2 0h1m7 0h2m1 0h1m13 0h1M121 135.5h1m84 0h1m8 0h1m74 0h1m2 0h1m1 0h1m3 0h1m2 0h1m17 0h1m46 0h1m2 0h1m4 0h1m95 0h1m12 0h1m4 0h1m14 0h3m6 0h2m1 0h1m1 0h1m24 0h1m3 0h1m2 0h4m15 0h1m11 0h1m2 0h1M109 136.5h1m3 0h1m2 0h1m93 0h1m5 0h1m2 0h1m66 0h1m1 0h1m1 0h1m2 0h1m1 0h1m3 0h1m9 0h2m9 0h1m47 0h1m3 0h2m37 0h1m45 0h1m4 0h1m17 0h1m22 0h1m10 0h1m1 0h1m4 0h2m18 0h1m11 0h1m3 0h2m3 0h2m6 0h1m7 0h1m4 0h1M116 137.5h1m2 0h1m97 0h1m67 0h2m7 0h1m1 0h1m13 0h1m8 0h1m46 0h1m2 0h1m2 0h2m2 0h1m74 0h1m2 0h2m5 0h2m5 0h1m6 0h1m1 0h1m4 0h1m5 0h1m25 0h1m24 0h1m7 0h1m11 0h2m1 0h2m5 0h1M108 138.5h1m10 0h3m86 0h1m6 0h1m71 0h1m1 0h1m7 0h1m13 0h1m8 0h1m34 0h1m10 0h1m1 0h1m1 0h1m1 0h1m1 0h1m1 0h2m3 0h1m74 0h1m1 0h1m1 0h1m1 0h2m3 0h1m16 0h1m5 0h1m9 0h1m1 0h1m3 0h1m7 0h1m26 0h1m15 0h1M120 139.5h2m86 0h1m2 0h1m2 0h1m86 0h1m9 0h1m18 0h1m15 0h1m23 0h1m4 0h1m5 0h1m17 0h1m54 0h1m1 0h2m41 0h1m13 0h1m1 0h1m2 0h1m25 0h1m2 0h2m2 0h1m4 0h1m2 0h1M108 140.5h1m10 0h1m2 0h1m82 0h2m5 0h1m5 0h2m78 0h1m2 0h1m15 0h1m6 0h1m8 0h1m4 0h1m27 0h1m16 0h1m66 0h1m3 0h1m5 0h1m8 0h2m41 0h1m27 0h2m7 0h1m1 0h1m2 0h2m3 0h4M208 141.5h1m7 0h1m1 0h1m69 0h1m1 0h1m10 0h1m19 0h2m7 0h1m1 0h2m33 0h1m6 0h2m15 0h1m13 0h2m4 0h1m8 0h4m31 0h1m3 0h1m1 0h2m17 0h1m1 0h1m1 0h1m2 0h2m4 0h1m2 0h1m48 0h1m12 0h1M205 142.5h2m2 0h1m95 0h4m9 0h1m24 0h1m14 0h1m7 0h1m4 0h1m4 0h1m6 0h1m5 0h1m2 0h1m7 0h1m5 0h1m51 0h1m3 0h2m3 0h1m4 0h1m2 0h1m2 0h1m12 0h1m1 0h1m4 0h1m4 0h2m2 0h1m5 0h1m1 0h2m28 0h2m12 0h1M107 143.5h1m2 0h1m174 0h1m18 0h2m10 0h1m20 0h1m5 0h1m2 0h1m19 0h1m2 0h2m5 0h1m6 0h1m3 0h5m7 0h1m17 0h2m1 0h1m30 0h1m2 0h1m3 0h1m9 0h3m8 0h3m6 0h2m1 0h1m1 0h1m2 0h1m7 0h1m1 0h1m30 0h2m3 0h2m3 0h1m6 0h1m1 0h3m1 0h2m5 0h1m10 0h1M109 144.5h1m9 0h1m1 0h1m90 0h1m72 0h1m11 0h1m9 0h1m11 0h1m3 0h1m21 0h1m38 0h1m2 0h2m25 0h1m3 0h1m2 0h1m35 0h1m18 0h1m2 0h1m2 0h1m2 0h2m1 0h1m9 0h1m4 0h1m2 0h2m3 0h1m27 0h1m11 0h1m2 0h1m2 0h1m2 0h1m1 0h1M104 145.5h1m105 0h1m76 0h1m2 0h1m15 0h2m12 0h1m2 0h1m5 0h2m15 0h1m24 0h1m1 0h1m3 0h1m8 0h1m3 0h1m12 0h1m5 0h1m4 0h1m10 0h1m34 0h2m5 0h1m8 0h1m2 0h1m2 0h1m2 0h2m6 0h2m5 0h1m2 0h2m26 0h2m17 0h1m4 0h1m7 0h2M104 146.5h2m12 0h1m2 0h1m84 0h1m6 0h1m94 0h1m14 0h1m3 0h1m8 0h1m1 0h1m8 0h1m3 0h1m4 0h1m1 0h1m14 0h1m1 0h2m1 0h2m1 0h1m1 0h3m2 0h1m13 0h2m3 0h1m2 0h2m7 0h2m2 0h1m36 0h1m15 0h1m4 0h1m3 0h2m1 0h1m7 0h1m9 0h1m27 0h1m2 0h1m1 0h1m9 0h1m1 0h2m10 0h1M115 147.5h1m90 0h1m5 0h1m78 0h1m7 0h1m7 0h3m8 0h1m8 0h1m23 0h1m37 0h2m1 0h1m11 0h1m1 0h1m1 0h1m9 0h1m6 0h1m48 0h1m6 0h1m11 0h2m2 0h1m2 0h1m2 0h1m5 0h1m27 0h1m4 0h1m9 0h2M291 148.5h1m4 0h1m2 0h1m7 0h1m5 0h2m7 0h1m10 0h1m2 0h1m16 0h2m12 0h1m3 0h2m4 0h2m2 0h1m8 0h1m2 0h1m4 0h1m17 0h2m1 0h1m5 0h1m2 0h1m29 0h1m14 0h1m2 0h1m8 0h2m6 0h1m3 0h1m1 0h1m10 0h2m19 0h1m4 0h1m6 0h1m20 0h1M303 149.5h1m2 0h1m3 0h1m5 0h1m4 0h2m6 0h1m2 0h2m14 0h1m7 0h1m10 0h2m6 0h1m5 0h1m11 0h2m12 0h1m18 0h1m46 0h1m1 0h1m3 0h1m13 0h2m2 0h2m33 0h1m3 0h2m3 0h1m3 0h1m9 0h1m1 0h1m12 0h1M293 150.5h1m41 0h1m1 0h1m18 0h3m23 0h1m4 0h1m7 0h1m1 0h2m10 0h1m14 0h2m45 0h1m2 0h1m3 0h1m11 0h1m2 0h1m7 0h1m39 0h1m1 0h1m2 0h1m1 0h1m1 0h1m13 0h1M353 151.5h1m4 0h1m3 0h1m12 0h1m5 0h1m2 0h2m1 0h1m1 0h1m5 0h1m2 0h1m61 0h1m29 0h1m3 0h1m2 0h1m27 0h1m10 0h1m1 0h1m4 0h1m2 0h2m1 0h1m1 0h1m13 0h1M351 152.5h1m2 0h2m2 0h1m10 0h1m4 0h1m4 0h1m19 0h1m2 0h1m24 0h2m31 0h1m18 0h1m1 0h2m8 0h1m4 0h1m2 0h1m3 0h1m25 0h1m12 0h1m22 0h1M358 153.5h1m6 0h1m12 0h2m12 0h1m10 0h1m78 0h1m11 0h2m2 0h1m6 0h1m21 0h1m2 0h1m16 0h1m7 0h1m1 0h1m4 0h2M353 154.5h1m11 0h1m4 0h1m4 0h1m2 0h1m4 0h1m7 0h1m2 0h1m50 0h1m11 0h2m3 0h2m6 0h1m13 0h1m2 0h1m8 0h1m35 0h1m4 0h1m2 0h2m1 0h1m13 0h1m4 0h1M353 155.5h1m9 0h3m8 0h1m3 0h2m7 0h1m21 0h1m11 0h1m35 0h1m6 0h1m2 0h1m16 0h1m2 0h1m10 0h1m9 0h1m19 0h1m12 0h1M355 156.5h1m8 0h1m7 0h1m3 0h1m1 0h1m6 0h1m5 0h1m13 0h1m21 0h1m1 0h1m20 0h1m45 0h1m7 0h1m32 0h1m7 0h1m9 0h1m5 0h1M352 157.5h3m7 0h1m3 0h1m15 0h1m8 0h1m13 0h1m3 0h1m14 0h1m4 0h1m14 0h1m23 0h1m9 0h1m7 0h1m15 0h1m1 0h1m19 0h1m5 0h1m8 0h2m8 0h2m5 0h2m5 0h1M366 158.5h1m5 0h2m4 0h1m12 0h1m1 0h1m4 0h1m9 0h1m1 0h1m11 0h1m2 0h1m2 0h1m1 0h1m9 0h1m1 0h1m1 0h1m17 0h2m3 0h1m6 0h1m2 0h2m17 0h1m6 0h2m1 0h1m16 0h1m7 0h1m2 0h2m2 0h1m4 0h2m5 0h1m1 0h1m1 0h1M356 159.5h1m6 0h3m2 0h1m1 0h1m9 0h1m11 0h2m6 0h1m4 0h1m1 0h1m15 0h1m6 0h1m5 0h1m7 0h2m1 0h1m29 0h2m10 0h1m3 0h1m29 0h1m12 0h1m8 0h1m11 0h1m6 0h1M364 160.5h2m2 0h1m1 0h1m7 0h1m1 0h1m3 0h1m1 0h1m1 0h1m1 0h2m1 0h1m1 0h1m8 0h1m2 0h1m18 0h1m9 0h1m6 0h1m13 0h1m15 0h1m14 0h1m4 0h1m29 0h1m10 0h1m1 0h2m5 0h1m8 0h1m4 0h1M355 161.5h1m2 0h1m4 0h1m16 0h3m3 0h1m2 0h1m14 0h1m4 0h1m17 0h1m3 0h1m2 0h1m16 0h1m20 0h1m1 0h1m17 0h1m1 0h1m42 0h1m5 0h1m5 0h1m15 0h1M351 162.5h1m2 0h2m11 0h1m11 0h1m1 0h1m1 0h1m2 0h1m2 0h1m1 0h3m39 0h2m2 0h2m1 0h1m2 0h2m2 0h1m1 0h1m1 0h1m15 0h1m19 0h1m5 0h1m3 0h1m18 0h1m3 0h1m1 0h1m4 0h1m3 0h1m7 0h1m3 0h1m4 0h1m5 0h1m9 0h1M368 163.5h1m7 0h3m11 0h2m1 0h1m12 0h1m31 0h3m3 0h2m4 0h1m4 0h1m13 0h2m1 0h1m17 0h1m6 0h2m15 0h1m5 0h1m4 0h1m2 0h1m4 0h1m4 0h1m7 0h1m1 0h1m1 0h1m1 0h1m3 0h1m5 0h2M351 164.5h1m10 0h2m1 0h1m4 0h1m6 0h1m16 0h1m11 0h1m18 0h1m14 0h1m24 0h1m4 0h1m16 0h1m1 0h1m1 0h1m6 0h1m24 0h1m4 0h1m4 0h1m4 0h1m1 0h1m3 0h1m3 0h1m3 0h1m5 0h1m1 0h2M358 165.5h1m5 0h1m15 0h1m1 0h2m9 0h1m4 0h1m25 0h1m17 0h2m27 0h1m13 0h1m1 0h2m1 0h1m29 0h1m1 0h1m5 0h1m14 0h2m8 0h3m5 0h2M356 166.5h1m1 0h1m6 0h1m11 0h2m1 0h1m9 0h1m27 0h1m4 0h1m2 0h1m31 0h1m4 0h1m20 0h1m3 0h1m3 0h1m29 0h2m16 0h1m5 0h1m1 0h1m2 0h4m3 0h1m2 0h1M356 167.5h2m1 0h1m2 0h1m3 0h2m11 0h2m32 0h1m10 0h1m49 0h1m2 0h1m7 0h2m6 0h1m24 0h1m5 0h1m2 0h1m4 0h1m5 0h1m1 0h1m5 0h1m9 0h1M353 168.5h1m2 0h1m1 0h1m7 0h1m4 0h1m8 0h1m4 0h1m7 0h1m25 0h1m33 0h1m7 0h1m5 0h1m12 0h1m6 0h1m30 0h2m2 0h1m1 0h1m1 0h1m5 0h1m2 0h3m7 0h1m10 0h1m1 0h1m4 0h1M353 169.5h1m2 0h1m9 0h1m2 0h1m8 0h1m7 0h1m10 0h1m7 0h1m16 0h2m30 0h1m6 0h1m4 0h1m4 0h1m2 0h1m7 0h1m3 0h1m2 0h1m31 0h1m7 0h1m3 0h1m11 0h2m7 0h1m2 0h1m4 0h1m5 0h1M363 170.5h1m2 0h1m10 0h2m12 0h1m1 0h1m28 0h1m2 0h1m44 0h3m4 0h1m4 0h1m5 0h1m1 0h1m6 0h1m17 0h1m18 0h1m8 0h1m10 0h1m2 0h1M356 171.5h1m4 0h2m15 0h1m7 0h2m5 0h1m5 0h1m10 0h1m1 0h1m8 0h1m2 0h1m23 0h1m9 0h2m2 0h1m2 0h1m1 0h2m9 0h2m2 0h1m11 0h2m20 0h1m13 0h1m3 0h1m8 0h2m1 0h2m1 0h1m7 0h1m1 0h1M359 172.5h1m5 0h1m3 0h2m1 0h1m5 0h1m1 0h1m4 0h1m7 0h1m13 0h1m3 0h2m2 0h1m4 0h1m5 0h1m26 0h1m5 0h2m5 0h2m5 0h1m6 0h1m2 0h1m10 0h1m17 0h1m18 0h2m25 0h1m2 0h1m2 0h1M369 173.5h1m1 0h1m1 0h1m10 0h1m30 0h2m6 0h2m22 0h1m5 0h1m4 0h1m1 0h1m3 0h1m3 0h1m5 0h1m3 0h1m8 0h2m2 0h1m3 0h1m1 0h2m8 0h1m1 0h1m3 0h1m7 0h1m2 0h1m19 0h1m1 0h1m3 0h1m10 0h1m2 0h2m3 0h1M362 174.5h1m3 0h1m1 0h1m14 0h1m6 0h1m10 0h1m4 0h1m16 0h1m1 0h1m4 0h1m3 0h1m12 0h2m4 0h1m1 0h1m1 0h2m5 0h1m6 0h1m6 0h1m1 0h1m4 0h2m8 0h3m4 0h1m4 0h1m3 0h1m21 0h1m2 0h1m23 0h2m2 0h1m2 0h1M358 175.5h1m3 0h1m6 0h1m2 0h1m33 0h1m37 0h1m11 0h1m5 0h3m2 0h1m3 0h1m10 0h1m8 0h1m14 0h1m1 0h1m12 0h1m5 0h4m2 0h1m1 0h1m12 0h1m5 0h1m2 0h1m1 0h1m1 0h1m8 0h1M356 176.5h3m3 0h1m3 0h1m4 0h1m11 0h1m5 0h1m3 0h1m15 0h1m14 0h1m22 0h1m2 0h4m6 0h1m5 0h1m17 0h1m7 0h1m2 0h1m8 0h1m1 0h1m15 0h2m6 0h1m19 0h1m6 0h2m11 0h1M353 177.5h1m3 0h1m8 0h3m4 0h1m18 0h1m24 0h1m37 0h1m8 0h1m14 0h1m6 0h1m1 0h2m4 0h1m2 0h1m2 0h2m17 0h1m2 0h1m1 0h1m4 0h2m6 0h2m5 0h2m1 0h1m2 0h1m1 0h1m9 0h1m5 0h2M359 178.5h1m1 0h1m6 0h2m1 0h1m79 0h1m4 0h1m23 0h1m4 0h3m2 0h1m2 0h1m4 0h1m15 0h1m4 0h1m10 0h1m3 0h1m11 0h1m2 0h2m14 0h1M361 179.5h1m2 0h1m4 0h1m3 0h1m3 0h1m86 0h1m6 0h1m8 0h2m3 0h2m13 0h1m11 0h1m7 0h2m2 0h1m11 0h1m2 0h1m1 0h2M352 180.5h2m4 0h1m1 0h2m6 0h2m4 0h1m7 0h1m80 0h2m11 0h1m8 0h1m2 0h2m2 0h1m2 0h1m15 0h1m1 0h2m7 0h1m12 0h1m1 0h1m4 0h1m9 0h1m1 0h1m12 0h1M358 181.5h1m10 0h1m2 0h1m19 0h1m27 0h1m39 0h4m2 0h1m6 0h1m6 0h1m2 0h1m10 0h1m6 0h2m2 0h1m14 0h3m5 0h1m4 0h1m6 0h1m8 0h1m1 0h1m2 0h1m12 0h1M359 182.5h1m3 0h1m50 0h1m44 0h1m9 0h1m1 0h1m1 0h1m6 0h1m5 0h2m1 0h1m3 0h1m9 0h1m5 0h1m2 0h1m3 0h1m5 0h2m3 0h1m4 0h1m4 0h1m2 0h1m5 0h1m2 0h1m15 0h1m1 0h1M359 183.5h1m6 0h1m2 0h2m2 0h1m17 0h1m24 0h1m32 0h3m16 0h2m1 0h2m4 0h2m4 0h2m3 0h1m4 0h1m9 0h1m5 0h1m1 0h1m4 0h3m2 0h1m8 0h1m12 0h2m1 0h1m3 0h1m6 0h1m1 0h1m4 0h2m1 0h1M356 184.5h1m23 0h3m97 0h1m8 0h1m8 0h1m5 0h2m7 0h1m2 0h1m3 0h1m2 0h2m6 0h1m5 0h1m2 0h1m1 0h1m6 0h3m1 0h1m3 0h1m3 0h3m5 0h1M361 185.5h1m4 0h1m15 0h1m25 0h1m7 0h1m41 0h1m3 0h2m2 0h1m1 0h2m4 0h1m14 0h1m1 0h3m9 0h1m8 0h1m6 0h1m4 0h3m4 0h2m3 0h1m3 0h1m8 0h1m9 0h1m9 0h1M364 186.5h1m7 0h1m14 0h1m8 0h1m78 0h1m10 0h2m8 0h1m2 0h2m3 0h1m9 0h2m4 0h1m1 0h4m4 0h1m10 0h1m2 0h1m7 0h2m2 0h3M361 187.5h1m5 0h2m28 0h1m33 0h1m2 0h1m32 0h3m2 0h1m1 0h1m9 0h1m18 0h2m7 0h1m5 0h1m5 0h1m4 0h1m2 0h1M360 188.5h2m8 0h2m4 0h2m17 0h2m12 0h1m36 0h1m24 0h1m1 0h1m2 0h2m7 0h1m16 0h2m16 0h1m3 0h1m4 0h2m16 0h1m2 0h1M359 189.5h1m6 0h1m1 0h1m3 0h1m8 0h2m8 0h1m19 0h1m16 0h1m4 0h1m11 0h1m1 0h2m2 0h1m6 0h1m3 0h2m5 0h1m5 0h1m5 0h1m18 0h1m3 0h1m26 0h4m10 0h1m1 0h1m1 0h1M361 190.5h1m1 0h2m7 0h3m1 0h3m12 0h1m18 0h2m10 0h1m4 0h3m1 0h2m15 0h1m9 0h1m3 0h1m4 0h2m11 0h1m1 0h1m9 0h1m5 0h6m10 0h1m1 0h1m5 0h1m2 0h1m5 0h1m6 0h2m5 0h1m3 0h2M367 191.5h2m6 0h1m1 0h1m4 0h1m14 0h1m1 0h1m10 0h1m11 0h1m9 0h3m4 0h1m6 0h2m23 0h2m10 0h2m12 0h1m2 0h2m11 0h1m1 0h1m4 0h1m7 0h1m9 0h1M363 192.5h1m1 0h2m5 0h1m13 0h1m13 0h1m1 0h1m8 0h1m9 0h1m8 0h1m1 0h1m1 0h1m7 0h1m1 0h2m1 0h2m4 0h2m1 0h1m3 0h1m7 0h1m1 0h1m1 0h1m2 0h1m2 0h1m3 0h2m29 0h2m1 0h1m3 0h1m1 0h1m3 0h1m1 0h1m6 0h1m15 0h1M355 193.5h1m6 0h2m7 0h3m1 0h1m2 0h1m3 0h2m6 0h1m1 0h1m1 0h1m3 0h1m2 0h2m5 0h3m1 0h1m32 0h1m12 0h2m2 0h1m3 0h2m2 0h1m5 0h1m3 0h2m8 0h1m7 0h1m1 0h1m1 0h1m15 0h1m1 0h1m10 0h1m6 0h1m9 0h1M366 194.5h1m3 0h1m6 0h1m1 0h1m13 0h1m1 0h1m2 0h1m7 0h1m1 0h1m9 0h2m18 0h3m4 0h1m2 0h1m5 0h2m4 0h1m3 0h1m2 0h1m1 0h1m10 0h3m15 0h1m10 0h1m5 0h1m3 0h1m2 0h1m1 0h1m24 0h1m4 0h1M357 195.5h1m6 0h4m1 0h1m7 0h1m5 0h1m6 0h1m2 0h1m7 0h1m1 0h1m13 0h1m3 0h1m16 0h1m5 0h1m3 0h1m11 0h4m3 0h1m14 0h1m5 0h3m15 0h1m2 0h2m7 0h1m5 0h1m15 0h1m6 0h1m9 0h2M356 196.5h1m6 0h1m3 0h1m1 0h1m9 0h2m7 0h1m4 0h1m8 0h1m16 0h1m1 0h1m13 0h1m18 0h1m1 0h1m5 0h1m15 0h1m6 0h1m4 0h1m11 0h1m5 0h3m9 0h2m6 0h1m34 0h1M380 197.5h1m7 0h2m3 0h1m1 0h1m2 0h1m3 0h2m8 0h1m9 0h1m10 0h1m14 0h1m24 0h1m4 0h1m29 0h1m15 0h1m2 0h1m8 0h1m17 0h1M355 198.5h1m1 0h1m7 0h2m14 0h1m13 0h1m8 0h1m2 0h2m8 0h1m17 0h1m31 0h1m4 0h1m1 0h1m7 0h1m2 0h2m17 0h1m3 0h2m9 0h2m2 0h1m12 0h1m12 0h1M368 199.5h1m4 0h1m12 0h1m4 0h1m10 0h1m4 0h2m2 0h1m4 0h1m19 0h1m20 0h1m1 0h1m1 0h1m3 0h2m1 0h1m5 0h1m2 0h1m11 0h1m9 0h2m5 0h1m2 0h1m2 0h1m3 0h2m10 0h1m17 0h1m3 0h1M367 200.5h1m4 0h1m1 0h2m1 0h3m5 0h1m2 0h1m1 0h3m24 0h1m2 0h2m13 0h2m11 0h1m10 0h1m7 0h2m7 0h1m3 0h1m19 0h1m6 0h1m7 0h2m7 0h1m4 0h1m9 0h1m1 0h2m1 0h2m1 0h2M364 201.5h1m9 0h1m35 0h2m6 0h1m1 0h1m12 0h1m1 0h1m2 0h2m19 0h1m17 0h2m17 0h2m1 0h1m1 0h1m4 0h1m21 0h1m6 0h2m4 0h1M353 202.5h1m8 0h1m37 0h1m9 0h1m8 0h2m14 0h1m2 0h1m8 0h1m5 0h1m3 0h1m4 0h1m1 0h1m12 0h2m1 0h1m14 0h2m3 0h1m16 0h1m4 0h2m1 0h1m7 0h1m5 0h2M353 203.5h1m7 0h1m3 0h2m13 0h2m30 0h1m6 0h1m16 0h1m1 0h1m9 0h2m9 0h1m2 0h1m5 0h1m1 0h1m2 0h3m4 0h1m15 0h1m9 0h2m9 0h1m4 0h1m1 0h3m3 0h1m5 0h1M364 204.5h3m6 0h1m6 0h1m20 0h1m8 0h1m2 0h2m4 0h1m14 0h1m19 0h1m5 0h1m17 0h1m17 0h1m1 0h1m11 0h1m19 0h1m4 0h1m12 0h1M366 205.5h1m2 0h1m10 0h1m3 0h2m15 0h1m8 0h1m10 0h1m3 0h1m5 0h1m22 0h1m3 0h1m9 0h1m1 0h1m2 0h1m3 0h1m17 0h1m1 0h1m9 0h1m9 0h1m2 0h1m2 0h1m6 0h1m1 0h1m6 0h2m5 0h2m1 0h1M366 206.5h1m5 0h1m2 0h2m2 0h1m1 0h1m3 0h3m11 0h1m1 0h1m7 0h1m20 0h1m4 0h1m14 0h1m2 0h1m1 0h1m2 0h1m4 0h2m2 0h1m1 0h1m1 0h2m11 0h1m8 0h2m9 0h1m6 0h2m2 0h1m1 0h2m3 0h1m7 0h1m2 0h3M368 207.5h1m1 0h1m11 0h1m2 0h1m4 0h1m9 0h1m18 0h2m2 0h1m6 0h1m21 0h1m5 0h1m6 0h1m1 0h1m2 0h1m4 0h1m19 0h1m1 0h1m6 0h1m6 0h1m6 0h1m3 0h1m2 0h1m2 0h3M369 208.5h1m9 0h1m3 0h1m50 0h2m10 0h1m7 0h1m1 0h1m4 0h1m9 0h1m4 0h2m5 0h1m18 0h3m6 0h1m4 0h2m10 0h1M363 209.5h1m5 0h2m7 0h1m38 0h1m49 0h1m1 0h1m5 0h1m1 0h1m6 0h1m12 0h1m5 0h3m6 0h2m3 0h2m4 0h1m3 0h1m10 0h1M364 210.5h1m5 0h2m25 0h1m12 0h1m6 0h1m3 0h2m5 0h1m14 0h1m22 0h1m61 0h1M354 211.5h1m11 0h1m44 0h1m5 0h1m7 0h1m3 0h1m1 0h1m33 0h3m3 0h1m31 0h1m12 0h1m1 0h1m3 0h1m1 0h1m3 0h1m2 0h1m2 0h2M369 212.5h1m26 0h1m15 0h1m4 0h1m6 0h1m5 0h1m1 0h1m1 0h1m30 0h1m27 0h1m5 0h1m1 0h1m3 0h1m3 0h1m4 0h1m4 0h1m7 0h1m6 0h1M375 213.5h1m40 0h1m1 0h1m9 0h1m2 0h1m2 0h1m57 0h1m9 0h1m2 0h1m3 0h2m4 0h3m5 0h1m4 0h1m2 0h1M365 214.5h2m35 0h1m6 0h1m2 0h1m5 0h1m1 0h1m6 0h1m5 0h1m69 0h1m23 0h1M360 215.5h1m4 0h2m52 0h1m10 0h1m1 0h1m1 0h1m3 0h2m6 0h1m17 0h1m40 0h1m11 0h1m4 0h1m1 0h2M409 216.5h1m4 0h1m4 0h1m12 0h1m2 0h1m21 0h1m6 0h1m6 0h1m10 0h1m20 0h2m11 0h1m2 0h1m7 0h1M358 217.5h2m48 0h3m1 0h1m13 0h1m1 0h1m1 0h3m1 0h1m5 0h1m18 0h1m3 0h1m2 0h1m30 0h1m2 0h1m2 0h1m1 0h1m11 0h1m8 0h1M354 218.5h1m11 0h1m41 0h1m1 0h1m19 0h1m2 0h1m2 0h1m20 0h2m2 0h2m2 0h2m33 0h1m8 0h2m16 0h1M354 219.5h1m3 0h2m14 0h1m12 0h1m11 0h1m7 0h1m2 0h1m25 0h1m15 0h1m13 0h1m2 0h1m8 0h1m17 0h3m8 0h2m4 0h1m4 0h1m2 0h2M358 220.5h1m3 0h2m4 0h1m13 0h1m5 0h1m10 0h1m1 0h2m7 0h1m18 0h1m9 0h2m27 0h1m8 0h1m22 0h2m5 0h2m5 0h1m4 0h1m1 0h1m4 0h1M352 221.5h1m7 0h1m35 0h1m2 0h1m1 0h1m8 0h1m15 0h2m10 0h2m37 0h1m6 0h2m4 0h1m1 0h1m2 0h1m10 0h1m6 0h4m1 0h2m5 0h1M357 222.5h1m2 0h2m16 0h1m1 0h2m1 0h1m3 0h2m10 0h1m2 0h1m6 0h1m1 0h1m14 0h1m6 0h1m40 0h1m9 0h1m7 0h1m12 0h1m9 0h1m9 0h1M354 223.5h1m4 0h1m6 0h1m27 0h1m1 0h1m28 0h1m2 0h2m5 0h1m2 0h1m48 0h1m1 0h2m1 0h1m1 0h1m9 0h1m17 0h1M355 224.5h2m6 0h2m2 0h1m26 0h2m5 0h1m7 0h1m9 0h1m4 0h1m1 0h1m2 0h1m5 0h1m48 0h1m2 0h1m2 0h1m3 0h1m14 0h1m7 0h2M353 225.5h2m3 0h2m2 0h1m18 0h1m20 0h2m5 0h1m16 0h1m6 0h1m54 0h1m5 0h2m2 0h1m1 0h1M354 226.5h1m3 0h1m4 0h1m3 0h1m29 0h1m20 0h1m19 0h1m16 0h1m14 0h1m13 0h1m10 0h1m1 0h2m1 0h1M357 227.5h1m22 0h2m1 0h1m14 0h2m9 0h1m16 0h1m7 0h1m4 0h1m5 0h1m1 0h1m25 0h1m7 0h1m5 0h2m2 0h1m2 0h1m2 0h2m6 0h2m1 0h1m1 0h1m9 0h1M353 228.5h2m2 0h1m4 0h1m17 0h2m11 0h1m6 0h1m8 0h1m26 0h1m5 0h1m5 0h1m21 0h1m1 0h3m7 0h1m5 0h1m5 0h1m2 0h1m21 0h1M352 229.5h1m1 0h1m2 0h1m6 0h2m19 0h1m2 0h3m5 0h1m44 0h2m21 0h2m15 0h1m1 0h1m7 0h1m1 0h3m13 0h1m1 0h2M358 230.5h2m6 0h1m17 0h1m2 0h1m8 0h1m25 0h1m3 0h1m10 0h1m25 0h1m3 0h1m2 0h1m9 0h1m2 0h1m5 0h1m8 0h1m5 0h1m5 0h1m1 0h1m2 0h1M359 231.5h1m4 0h2m17 0h2m2 0h1m1 0h1m6 0h2m1 0h1m27 0h1m8 0h1m5 0h1m2 0h1m7 0h1m3 0h2m1 0h1m1 0h2m2 0h1m2 0h1m11 0h1m8 0h1m11 0h3m5 0h1m4 0h1M364 232.5h2m31 0h3m13 0h1m3 0h1m8 0h2m25 0h4m8 0h1m3 0h1m5 0h1m3 0h2m3 0h2m7 0h1m5 0h2m1 0h2m7 0h1m3 0h1M353 233.5h1m1 0h1m4 0h1m5 0h1m24 0h1m8 0h2m4 0h1m6 0h1m3 0h1m1 0h1m12 0h1m29 0h2m5 0h2m9 0h1m1 0h1m2 0h1m1 0h2m1 0h1m2 0h1m10 0h1m1 0h1m4 0h1M353 234.5h1m1 0h1m4 0h2m2 0h1m18 0h1m16 0h1m2 0h2m9 0h4m13 0h1m3 0h1m8 0h1m23 0h1m8 0h1m10 0h1m2 0h1m9 0h1m3 0h1m2 0h1m1 0h1m2 0h1m2 0h1M357 235.5h1m5 0h1m1 0h2m34 0h1m14 0h1m9 0h1m4 0h1m10 0h1m23 0h2m3 0h1m10 0h1m2 0h1m2 0h1m10 0h3m4 0h1m2 0h1m3 0h1M354 236.5h2m7 0h1m3 0h1m37 0h1m8 0h1m5 0h3m8 0h1m3 0h2m5 0h1m14 0h1m4 0h1m2 0h1m15 0h2m14 0h2m3 0h1m3 0h1m5 0h1M357 237.5h1m5 0h2m1 0h1m38 0h1m22 0h1m1 0h1m1 0h1m4 0h1m3 0h2m23 0h1m9 0h1m5 0h1m28 0h1M363 238.5h2m43 0h1m4 0h1m4 0h1m1 0h1m23 0h2m6 0h1m13 0h3m10 0h1m2 0h1m6 0h3m1 0h2m2 0h1m6 0h1m4 0h1m3 0h1M355 239.5h1m4 0h1m1 0h2m52 0h2m3 0h3m8 0h1m12 0h1m6 0h1m21 0h1m2 0h2m2 0h1m4 0h4m4 0h1m11 0h2m3 0h1M359 240.5h1m6 0h2m44 0h1m6 0h1m1 0h2m10 0h1m40 0h1m2 0h1m1 0h1m3 0h1m3 0h1m23 0h1M351 241.5h1m5 0h1m10 0h1m24 0h1m38 0h1m16 0h3m6 0h2m46 0h2m4 0h3M355 242.5h1m3 0h2m2 0h2m62 0h1m1 0h1m28 0h2m22 0h2m2 0h2m1 0h2m9 0h1m2 0h1m10 0h1M356 243.5h1m4 0h1m4 0h1m24 0h1m18 0h1m16 0h1m31 0h1m2 0h1m22 0h1m3 0h1m8 0h1m1 0h1m5 0h2M357 244.5h1m1 0h1m1 0h1m1 0h5m40 0h1m1 0h1m47 0h1m24 0h3m8 0h1m4 0h1m8 0h1M356 245.5h1m3 0h2m4 0h1m5 0h1m36 0h1m45 0h1m1 0h1m6 0h1m21 0h1m1 0h1m1 0h1m1 0h1m14 0h1M354 246.5h1m7 0h1m10 0h3m33 0h1m52 0h1m23 0h1m19 0h3M353 247.5h1m8 0h3m8 0h1m2 0h1m79 0h1m4 0h1m43 0h1M357 248.5h1m8 0h1m5 0h4m118 0h1m3 0h1m1 0h1M369 249.5h1m1 0h2m1 0h1m1 0h1m101 0h1m16 0h1m5 0h2m1 0h1M361 250.5h1m1 0h1m1 0h1m4 0h1m1 0h1m122 0h1m4 0h1m1 0h2M356 251.5h1m5 0h1m4 0h1m129 0h1m2 0h1m6 0h1M492 252.5h1m5 0h1M360 253.5h1m130 0h1m8 0h1m3 0h1M363 254.5h1m4 0h1m1 0h1m1 0h1m125 0h1M357 255.5h1m5 0h1m4 0h1m8 0h1m124 0h1m1 0h1M371 256.5h2m132 0h1m1 0h1M353 257.5h1m6 0h1m4 0h1m4 0h1m3 0h1m1 0h2m117 0h1m7 0h1m3 0h1M353 258.5h1m2 0h1m2 0h1m7 0h1m127 0h1m4 0h1m2 0h1m4 0h1M358 259.5h1m1 0h2m4 0h1m7 0h2m1 0h1m129 0h1M358 260.5h1m3 0h1m3 0h2m4 0h1m3 0h3m122 0h1M363 261.5h1m2 0h1m2 0h1M358 262.5h1m12 0h1m4 0h3m120 0h1M359 263.5h1m1 0h1m7 0h1m1 0h1m3 0h2M354 264.5h1m1 0h1m152 0h2M353 265.5h1m2 0h1m1 0h1m9 0h2m3 0h2M356 267.5h1m6 0h2m1 0h1M353 268.5h1m12 0h1M353 269.5h1m11 0h1m1 0h1m4 0h2M353 270.5h1m8 0h1m1 0h1m1 0h2M357 271.5h1m1 0h1m4 0h2m2 0h2M358 272.5h1m2 0h1m4 0h2M362 273.5h1M363 274.5h3M363 275.5h1M360 276.5h1M356 277.5h1m2 0h1M358 282.5h1M356 283.5h2M356 284.5h1m161 0h1M355 285.5h1M514 286.5h1M527 287.5h1M514 288.5h1m11 0h2M516 290.5h1m6 0h1M517 293.5h1M514 294.5h1M511 302.5h1M523 304.5h1M525 305.5h1M526 306.5h1"/><path stroke-opacity="0.50" d="M303 19.5h1m18 0h1m1 0h2m23 0h1m5 0h1m10 0h1m1 0h2m9 0h1M189 20.5h1m112 0h1m4 0h1m5 0h1m1 0h1m4 0h3m1 0h2m1 0h1m37 0h1m4 0h1M201 21.5h2m81 0h1m24 0h1m4 0h1m1 0h1m1 0h2m2 0h1m12 0h1M225 22.5h1m58 0h1m20 0h1m3 0h1m1 0h1m44 0h1m14 0h2M188 23.5h1m96 0h1m11 0h1m9 0h1m2 0h1m2 0h1m8 0h2m51 0h1m3 0h2M113 24.5h1m184 0h1m10 0h1m4 0h1m4 0h1m17 0h1m9 0h1m28 0h1M199 25.5h1m63 0h1m42 0h1m8 0h1m6 0h3m12 0h1m36 0h1M301 26.5h1m7 0h2m9 0h1m39 0h1m14 0h2m2 0h2m1 0h1M295 27.5h1m11 0h1m10 0h1m5 0h1m13 0h1m18 0h1m5 0h1m14 0h1m7 0h1M193 28.5h1m104 0h1m1 0h3m3 0h1m1 0h1m9 0h1m5 0h1m3 0h1m32 0h1m19 0h1M195 29.5h2m97 0h1m8 0h1m1 0h1m7 0h1m15 0h1m3 0h1m22 0h1m15 0h1M197 30.5h1m6 0h1m100 0h1m2 0h1m6 0h1m3 0h2m43 0h1m6 0h1m2 0h2M290 31.5h1m7 0h1m10 0h2m6 0h1m2 0h1m3 0h2m4 0h1m4 0h2m24 0h1m1 0h2m11 0h1M286 32.5h1m31 0h1m11 0h1m9 0h2m22 0h1m12 0h1M112 33.5h1m1 0h1m170 0h1m12 0h1m9 0h1m6 0h1m6 0h1m34 0h1m18 0h1M308 34.5h2m27 0h1m44 0h1M116 35.5h1m163 0h1m22 0h2m12 0h1m1 0h1m62 0h1M296 36.5h2m12 0h1m1 0h1m24 0h1m32 0h1m3 0h1m6 0h1m3 0h3M296 37.5h1m1 0h1m14 0h2m21 0h1m1 0h1m37 0h2m6 0h1m3 0h1M295 38.5h1m1 0h1m4 0h1m17 0h1m13 0h1m1 0h1m33 0h1m3 0h2m2 0h1m8 0h1m1 0h1M143 39.5h1m6 0h1m146 0h1m2 0h1m2 0h1m4 0h2m10 0h1m35 0h1M267 40.5h1m29 0h1m8 0h1m9 0h1m4 0h1m1 0h1m5 0h1m46 0h1m5 0h1m9 0h1M144 41.5h1m1 0h1m6 0h1m126 0h1m27 0h2m5 0h1m3 0h2m5 0h1m5 0h1M143 42.5h1m2 0h1m50 0h1m103 0h1m1 0h2m3 0h1m8 0h1m4 0h1m5 0h1m2 0h1m7 0h1m21 0h1m28 0h1m4 0h2M211 43.5h1m94 0h1m3 0h1m1 0h1m3 0h2m2 0h2m10 0h1m1 0h1m23 0h1m4 0h1m12 0h1m4 0h1m1 0h1m1 0h1m4 0h1m4 0h1M138 44.5h1m171 0h1m5 0h1m4 0h2m14 0h1m28 0h1m19 0h1m2 0h2m3 0h2M126 45.5h1m3 0h1m2 0h1m9 0h1m6 0h2m130 0h1m35 0h1m15 0h1m1 0h1m51 0h3M133 46.5h1m5 0h2m8 0h1m73 0h1m59 0h1m16 0h1m1 0h1m5 0h2m13 0h1m8 0h2m28 0h1m31 0h1M139 47.5h1m1 0h1m1 0h1m6 0h1m89 0h1m7 0h1m30 0h2m3 0h1m15 0h1m6 0h1m1 0h1m7 0h1m8 0h1m2 0h1m2 0h1m4 0h1m26 0h1M127 48.5h1m1 0h1m10 0h1m1 0h1m1 0h1m99 0h1m36 0h1m26 0h2m1 0h1m4 0h1m11 0h1m61 0h1m246 0h2M142 49.5h1m7 0h1m96 0h2m7 0h1m40 0h1m1 0h1m66 0h1m15 0h1m24 0h1m1 0h1M130 50.5h1m6 0h1m130 0h1m10 0h1m22 0h1m14 0h1m6 0h1m5 0h2m3 0h1m1 0h1m31 0h1m22 0h1M132 51.5h1m4 0h1m5 0h3m89 0h1m37 0h1m5 0h1m25 0h1m14 0h1m2 0h2m8 0h1m5 0h1m52 0h1m8 0h1m4 0h1m2 0h1m14 0h1M130 52.5h1m14 0h3m110 0h1m6 0h1m16 0h1m20 0h1m1 0h2m1 0h1m2 0h2m6 0h1m1 0h1m2 0h1m13 0h1m53 0h2m8 0h1m6 0h1m8 0h1m1 0h1M140 53.5h2m83 0h1m32 0h2m21 0h1m20 0h1m10 0h1m17 0h1m4 0h1m29 0h1m26 0h1m7 0h1m2 0h1m1 0h1m2 0h1m10 0h1m2 0h1M128 54.5h1m5 0h1m9 0h2m112 0h1m6 0h1m12 0h1m23 0h1m6 0h1m3 0h1m5 0h2m5 0h2m7 0h1m20 0h1m34 0h1m1 0h1m8 0h1m4 0h1m4 0h1m7 0h1m8 0h1M140 55.5h1m4 0h1m118 0h1m52 0h1m2 0h2m9 0h1m5 0h3m56 0h1m11 0h1m4 0h1m7 0h1m1 0h1m1 0h1M131 56.5h1m7 0h1m2 0h2m6 0h2m128 0h1m36 0h1m8 0h1m1 0h2m1 0h1m3 0h2m4 0h1m10 0h1m61 0h1m3 0h2m3 0h1m2 0h2m1 0h1m1 0h1m207 0h1M131 57.5h1m19 0h1m115 0h1m41 0h1m1 0h1m8 0h1m6 0h1m8 0h1m2 0h1m2 0h1m10 0h1m8 0h2m1 0h1m38 0h1m2 0h1m11 0h1m20 0h1m1 0h2m4 0h2M136 58.5h1m14 0h1m92 0h1m63 0h1m7 0h2m1 0h1m4 0h2m6 0h1m66 0h1m10 0h1m3 0h1m21 0h1m1 0h1m2 0h1m1 0h1m3 0h1M242 59.5h1m18 0h1m49 0h1m14 0h2m6 0h1m3 0h2m71 0h1m5 0h2m3 0h3m16 0h1m40 0h1M241 60.5h1m2 0h1m77 0h1m5 0h1m4 0h1m6 0h1m61 0h1m8 0h1m4 0h1m4 0h1m10 0h1m4 0h2m3 0h1m39 0h1M104 61.5h1m135 0h1m16 0h1m71 0h1m6 0h1m3 0h1m23 0h1m42 0h1m13 0h1m32 0h1M241 62.5h1m16 0h1m93 0h1m11 0h1m49 0h1m3 0h1m1 0h1m13 0h1m2 0h2m3 0h2m10 0h2m28 0h1M106 63.5h1m134 0h1m81 0h1m2 0h1m16 0h1m20 0h2m29 0h2m2 0h1m2 0h1m19 0h1m12 0h1m19 0h1m28 0h1m6 0h1M198 64.5h1m128 0h1m2 0h2m2 0h1m59 0h1m2 0h1m8 0h1m9 0h1m18 0h1m2 0h1m2 0h1m1 0h2m47 0h1M251 65.5h2m32 0h1m137 0h1m10 0h1m4 0h1m6 0h1m4 0h1m1 0h1m4 0h1m30 0h1M250 66.5h2m72 0h1m2 0h1m7 0h1m13 0h1m51 0h1m3 0h2m33 0h1m1 0h4m1 0h1m3 0h3m22 0h1M247 67.5h1m2 0h1m76 0h1m2 0h1m7 0h1m1 0h1m26 0h1m34 0h1m2 0h1m20 0h1m2 0h1m1 0h1m6 0h1m1 0h1m3 0h1m8 0h1m34 0h1m1 0h2m4 0h1m139 0h1m4 0h1M114 68.5h1m133 0h1m82 0h2m4 0h1m64 0h1m26 0h1m17 0h2m41 0h1m2 0h2m86 0h1m54 0h1m1 0h1M242 69.5h1m1 0h1m78 0h2m2 0h1m6 0h3m28 0h1m27 0h1m25 0h1m2 0h2m25 0h3m6 0h1m13 0h1m2 0h1m16 0h1m83 0h1m1 0h1m23 0h1m30 0h2m2 0h2M243 70.5h1m2 0h1m55 0h1m14 0h1m11 0h1m36 0h1m34 0h1m26 0h1m23 0h1m2 0h2m25 0h1m2 0h2m7 0h1m88 0h1m11 0h1m9 0h1m26 0h2M107 71.5h1m185 0h1m8 0h1m15 0h1m2 0h1m17 0h1m5 0h1m17 0h1m1 0h1m34 0h2m5 0h1m15 0h1m14 0h1m6 0h1m5 0h1m41 0h1m85 0h1m1 0h1m3 0h1m9 0h1m3 0h1M165 72.5h1m76 0h2m78 0h1m31 0h1m41 0h1m9 0h1m74 0h1m100 0h1m7 0h2m1 0h1M106 73.5h1m3 0h1m189 0h1m34 0h1m30 0h2m17 0h1m14 0h1m5 0h1m11 0h1m27 0h1m6 0h1m19 0h1m5 0h1m10 0h1m5 0h1m97 0h1m2 0h1M295 74.5h1m28 0h1m7 0h3m1 0h1m40 0h1m8 0h1m13 0h1m8 0h1m10 0h1m6 0h1m5 0h1m39 0h2m3 0h1m9 0h1m88 0h1m26 0h1m24 0h1M323 75.5h1m15 0h1m2 0h1m56 0h1m9 0h1m17 0h1m2 0h1m1 0h1m19 0h1m18 0h1m4 0h2m12 0h3m83 0h1m17 0h1m1 0h1M163 76.5h3m126 0h1m4 0h1m9 0h1m14 0h2m40 0h1m54 0h1m1 0h1m2 0h1m16 0h2m26 0h2m1 0h1m14 0h1m6 0h1m84 0h1m18 0h1m4 0h2m28 0h1M163 77.5h1m152 0h1m6 0h1m18 0h1m75 0h1m3 0h1m9 0h1m2 0h1m5 0h2m26 0h1m6 0h1m12 0h1m1 0h1m1 0h1m82 0h1m22 0h1M299 78.5h1m24 0h1m47 0h1m26 0h1m9 0h2m18 0h1m5 0h2m34 0h1m19 0h1m74 0h1m8 0h1m27 0h1M211 79.5h1m92 0h1m12 0h1m3 0h1m2 0h1m47 0h1m4 0h1m25 0h1m28 0h2m2 0h1m1 0h2m154 0h1M160 80.5h2m48 0h1m93 0h1m17 0h1m44 0h1m5 0h3m34 0h2m23 0h1m3 0h1m143 0h3m1 0h1m13 0h1m1 0h1M109 81.5h1m1 0h1m191 0h1m13 0h1m1 0h1m20 0h1m24 0h1m44 0h1m21 0h2m5 0h1m31 0h1m18 0h1m76 0h1m26 0h1m4 0h2m33 0h1M111 82.5h2m53 0h1m1 0h1m79 0h1m153 0h2m22 0h1m2 0h1m9 0h1m13 0h1m30 0h1m2 0h1m2 0h1m6 0h1m97 0h1m3 0h2m2 0h1m20 0h1M111 83.5h2m103 0h2m91 0h2m60 0h1m25 0h1m36 0h1m18 0h1m17 0h1m14 0h1m9 0h3m2 0h2m67 0h1m1 0h1m14 0h1m36 0h1M166 84.5h1m41 0h2m86 0h1m143 0h1m4 0h1m25 0h1m5 0h1m6 0h1m10 0h1m6 0h1m67 0h1m3 0h1m7 0h1M105 85.5h1m60 0h1m4 0h1m35 0h1m85 0h1m1 0h1m9 0h2m13 0h1m1 0h2m46 0h1m3 0h1m18 0h1m4 0h1m19 0h1m21 0h1m4 0h1m1 0h1m26 0h1m10 0h1m1 0h1m8 0h1m1 0h1m3 0h1m65 0h1m1 0h1m3 0h1M103 86.5h2m67 0h1m34 0h1m5 0h1m83 0h2m6 0h2m28 0h1m26 0h1m1 0h1m7 0h1m7 0h1m36 0h1m22 0h1m2 0h1m2 0h2m4 0h1m17 0h1m13 0h1m87 0h1m5 0h1m4 0h1m2 0h1M160 87.5h1m1 0h1m8 0h1m37 0h1m1 0h1m90 0h1m96 0h1m52 0h1m37 0h2m77 0h2m3 0h1m2 0h1m5 0h1M167 88.5h1m1 0h1m39 0h2m36 0h1m53 0h2m20 0h1m76 0h1m39 0h2m40 0h1m61 0h1m15 0h1m2 0h1m1 0h1m4 0h2m1 0h2M169 89.5h1m7 0h1m31 0h1m88 0h1m1 0h1m2 0h2m21 0h2m64 0h1m36 0h1m39 0h1m3 0h1m9 0h2m76 0h1m2 0h1m11 0h1m10 0h1m2 0h1m5 0h1m1 0h2M107 90.5h1m58 0h2m7 0h2m1 0h1m2 0h1m23 0h2m87 0h1m6 0h1m28 0h1m1 0h1m110 0h1m1 0h1m22 0h1m23 0h1m54 0h1m1 0h1m5 0h1m30 0h1m6 0h1m4 0h1m1 0h1M166 91.5h1m29 0h1m9 0h1m89 0h1m2 0h2m1 0h1m15 0h1m9 0h1m13 0h1m103 0h2m3 0h1m16 0h1m1 0h2m32 0h1m41 0h1m6 0h1m10 0h2m2 0h1m10 0h1M180 92.5h1m18 0h1m5 0h1m3 0h2m79 0h1m4 0h1m5 0h1m1 0h1m1 0h2m3 0h1m3 0h2m1 0h1m6 0h1m4 0h1m1 0h1m6 0h1m5 0h1m148 0h1m9 0h1m47 0h1m2 0h1m9 0h1m2 0h1m2 0h1m24 0h2m3 0h1M180 93.5h1m110 0h2m6 0h1m1 0h1m2 0h1m5 0h2m5 0h1m13 0h2m4 0h1m1 0h1m1 0h1m105 0h1m38 0h1m4 0h1m1 0h1m9 0h1m40 0h1m6 0h1m13 0h1m1 0h1m2 0h1m8 0h1m6 0h1M110 94.5h2m78 0h1m15 0h1m1 0h2m85 0h1m1 0h1m6 0h2m6 0h1m11 0h1m7 0h1m1 0h1m8 0h1m125 0h1m32 0h1m50 0h1m11 0h1M102 95.5h1m72 0h1m4 0h1m7 0h1m8 0h1m2 0h1m3 0h1m85 0h1m10 0h1m5 0h1m15 0h2m1 0h1m4 0h1m1 0h4m1 0h1m3 0h1m83 0h1m9 0h1m10 0h1m92 0h1m12 0h1m14 0h1m12 0h1m7 0h1m13 0h1m1 0h1M173 96.5h1m8 0h1m17 0h1m4 0h2m83 0h1m5 0h1m9 0h1m2 0h3m8 0h1m13 0h1m3 0h1m4 0h1m78 0h1m25 0h1m3 0h1m15 0h1m8 0h1m21 0h1m48 0h1m17 0h1m3 0h1m7 0h1m16 0h2m5 0h2M100 97.5h1m76 0h1m16 0h1m1 0h1m92 0h2m9 0h1m6 0h2m7 0h1m2 0h1m3 0h1m3 0h1m2 0h1m2 0h2m7 0h2m124 0h1m22 0h1m58 0h1m19 0h1m3 0h2M100 98.5h1m3 0h1m85 0h1m8 0h2m107 0h1m4 0h1m5 0h1m1 0h1m2 0h1m8 0h1m4 0h2m3 0h1m104 0h1m40 0h1m10 0h1m47 0h2m20 0h1m2 0h1m20 0h2m7 0h1m5 0h1M179 99.5h3m14 0h2m7 0h1m87 0h1m10 0h1m10 0h1m12 0h1m4 0h1m3 0h1m1 0h1m194 0h1m20 0h1m12 0h1m10 0h1m12 0h1m17 0h1M190 100.5h1m3 0h1m95 0h1m1 0h1m12 0h1m7 0h1m8 0h1m3 0h1m11 0h1m155 0h2m3 0h2m36 0h1m14 0h2m10 0h1m3 0h2m5 0h1m16 0h1M192 101.5h2m5 0h1m92 0h1m1 0h1m3 0h1m6 0h1m6 0h1m7 0h1m1 0h1m5 0h1m1 0h1m8 0h1m41 0h1m104 0h1m10 0h1m1 0h1m68 0h1m2 0h2M199 102.5h1m93 0h1m1 0h1m18 0h1m2 0h1m6 0h1m6 0h1m7 0h1m3 0h1m104 0h1m87 0h1m9 0h1m8 0h1m5 0h2m2 0h1m3 0h1m2 0h1m18 0h2M293 103.5h1m1 0h1m14 0h1m13 0h1m9 0h1m4 0h1m4 0h2m189 0h1m3 0h1m7 0h1m13 0h2m12 0h1m1 0h1M292 104.5h1m2 0h1m21 0h1m14 0h1m2 0h1m3 0h1m1 0h1m2 0h1m1 0h2m102 0h1m45 0h1m31 0h1m7 0h1m7 0h1m7 0h1m20 0h2m4 0h1m8 0h1M300 105.5h2m16 0h2m4 0h1m10 0h1m10 0h1m12 0h1m42 0h1m43 0h1m97 0h1m6 0h1m2 0h1m5 0h1m12 0h1m5 0h3m3 0h1m4 0h1m9 0h1m6 0h1M207 106.5h1m85 0h1m26 0h1m6 0h1m1 0h2m2 0h1m5 0h1m108 0h2m4 0h1m66 0h1m1 0h1m7 0h1m9 0h1m6 0h1m1 0h1m2 0h1m12 0h1m4 0h1m9 0h1m7 0h1m1 0h1m15 0h1M293 107.5h1m1 0h1m2 0h1m11 0h1m9 0h1m6 0h1m1 0h2m3 0h1m6 0h1m3 0h1m8 0h1m55 0h1m111 0h1m1 0h1m5 0h2m1 0h2m35 0h2m5 0h1m3 0h1m1 0h2m4 0h1m2 0h1m10 0h1M207 108.5h1m8 0h1m75 0h1m3 0h1m7 0h1m3 0h3m22 0h1m13 0h1m101 0h2m78 0h2m1 0h1m11 0h1m9 0h1m3 0h1m31 0h1m9 0h1M291 109.5h1m12 0h1m3 0h1m11 0h1m1 0h1m2 0h1m1 0h1m1 0h1m2 0h1m8 0h2m107 0h2m23 0h1m38 0h2m1 0h1m11 0h1m11 0h1m2 0h1m5 0h1m17 0h1m11 0h2m24 0h1m1 0h1M294 110.5h1m8 0h1m1 0h1m1 0h1m19 0h1m15 0h1m185 0h1m22 0h2m3 0h1m1 0h1m15 0h1m2 0h1m6 0h1m2 0h1m1 0h1M210 111.5h2m6 0h1m71 0h2m35 0h1m1 0h1m9 0h2m1 0h1m92 0h1m80 0h2m2 0h1m2 0h1m6 0h1m24 0h3m4 0h1m4 0h1m8 0h1m3 0h1m4 0h1m1 0h1m1 0h1m1 0h1M307 112.5h1m18 0h1m14 0h1m2 0h1m192 0h1m16 0h2m1 0h1m1 0h1m16 0h1m1 0h2m2 0h1m6 0h1m5 0h1M210 113.5h1m1 0h1m2 0h1m98 0h1m7 0h2m7 0h3m13 0h1m134 0h1m32 0h1m6 0h1m17 0h2m3 0h1m4 0h1m21 0h1m5 0h1m10 0h2m17 0h1M215 114.5h1m75 0h1m5 0h2m5 0h1m9 0h1m8 0h1m188 0h1m1 0h1m8 0h1m6 0h1m5 0h1m8 0h2m3 0h2m4 0h1m6 0h1m2 0h1m1 0h2m7 0h1m16 0h1m12 0h1M214 115.5h1m76 0h2m11 0h1m4 0h1m10 0h1m3 0h1m188 0h1m9 0h1m6 0h1m2 0h1m3 0h1m6 0h1m2 0h1m8 0h1m17 0h1m7 0h1m4 0h1M291 116.5h1m3 0h1m22 0h1m2 0h1m16 0h1m5 0h1m127 0h1m43 0h1m2 0h1m10 0h1m5 0h2m1 0h1m8 0h1m3 0h3m3 0h1m9 0h1m1 0h3m6 0h1m3 0h1m10 0h1M293 117.5h1m4 0h1m1 0h1m2 0h1m5 0h1m8 0h1m3 0h1m12 0h1m3 0h1m78 0h1m62 0h1m32 0h1m5 0h1m3 0h1m7 0h2m1 0h1m1 0h1m14 0h1m14 0h1m4 0h1m4 0h1m14 0h1M217 118.5h1m67 0h1m4 0h1m19 0h1m12 0h2m157 0h2m1 0h1m27 0h1m4 0h1m14 0h1m1 0h1m5 0h1m2 0h1m5 0h1m1 0h1m1 0h1m21 0h1m1 0h1m11 0h1M214 119.5h1m71 0h1m1 0h1m19 0h1m2 0h1m10 0h1m34 0h1m58 0h1m1 0h1m79 0h1m15 0h2m6 0h2m4 0h3m2 0h1m9 0h1m8 0h1m1 0h2m2 0h1m7 0h1m11 0h1m5 0h1m3 0h1m1 0h2M206 120.5h1m84 0h2m8 0h1m3 0h1m7 0h1m27 0h1m75 0h1m104 0h1m8 0h1m1 0h1m4 0h3m9 0h1m1 0h2m7 0h1m3 0h1m11 0h1m16 0h1M308 121.5h1m18 0h1m58 0h1m1 0h1m3 0h1m1 0h1m13 0h2m6 0h1m59 0h1m43 0h1m10 0h2m1 0h1m6 0h1m4 0h1m3 0h1m6 0h1m15 0h1m6 0h1m1 0h1M219 122.5h1m12 0h1m57 0h1m2 0h1m5 0h1m14 0h1m72 0h1m5 0h1m8 0h2m9 0h1m5 0h1m108 0h1m15 0h1m4 0h2m4 0h3m2 0h1m2 0h1m16 0h1m2 0h1m1 0h4m3 0h1M233 123.5h1m59 0h1m1 0h1m1 0h1m2 0h2m5 0h1m96 0h1m113 0h1m3 0h1m2 0h1m2 0h1m1 0h1m1 0h1m8 0h1m14 0h1m4 0h3M216 124.5h1m88 0h2m6 0h1m29 0h1m49 0h1m104 0h1m9 0h1m7 0h1m1 0h2m5 0h1m6 0h1m4 0h1m14 0h2m4 0h1m4 0h1m3 0h2m13 0h2M230 125.5h1m62 0h1m2 0h1m1 0h1m8 0h1m3 0h2m1 0h1m30 0h1m7 0h1m40 0h1m24 0h1m79 0h2m16 0h1m1 0h1m3 0h1m12 0h1m1 0h1m2 0h1m1 0h1m13 0h1m13 0h1m1 0h1m7 0h1m1 0h2M294 126.5h1m1 0h2m4 0h1m7 0h3m1 0h2m29 0h1m70 0h1m1 0h2m98 0h1m12 0h1m4 0h1m4 0h1m1 0h1m20 0h1m10 0h1m4 0h1m3 0h1M299 127.5h1m10 0h2m3 0h1m8 0h1m190 0h1m7 0h1m2 0h1m5 0h1m1 0h2m7 0h1m6 0h1m21 0h1m2 0h1m1 0h1m6 0h1M289 128.5h1m13 0h1m4 0h1m19 0h1m14 0h1m6 0h1m6 0h1m7 0h1m15 0h1m18 0h1m10 0h1m1 0h1m12 0h1m75 0h1m2 0h1m16 0h1m5 0h1m1 0h1m2 0h1m2 0h1m5 0h1m5 0h1m4 0h1m3 0h1m2 0h1m21 0h1M205 129.5h1m1 0h1m77 0h1m2 0h1m11 0h1m8 0h2m16 0h1m5 0h1m15 0h1m25 0h1m15 0h1m75 0h1m49 0h1m5 0h1m15 0h2m1 0h1m7 0h1m4 0h1m9 0h1m12 0h1m2 0h1m5 0h1M210 130.5h1m73 0h1m14 0h1m10 0h1m16 0h1m2 0h1m1 0h1m1 0h1m26 0h1m15 0h1m7 0h1m80 0h1m3 0h2m10 0h1m12 0h2m6 0h1m1 0h1m2 0h1m15 0h3m3 0h1m5 0h2m1 0h1m8 0h2m16 0h2m7 0h1m2 0h1m2 0h1m3 0h2M111 131.5h2m93 0h1m94 0h1m1 0h1m13 0h2m4 0h1m18 0h1m22 0h1m2 0h1m5 0h1m9 0h1m93 0h1m1 0h2m18 0h1m17 0h1m28 0h1m22 0h1m1 0h1m2 0h1m1 0h1M111 132.5h2m93 0h1m79 0h1m3 0h1m2 0h1m7 0h1m21 0h1m1 0h1m20 0h1m20 0h2m3 0h1m98 0h1m9 0h1m1 0h2m12 0h2m13 0h1m16 0h1m4 0h1m7 0h1m7 0h1m4 0h1m1 0h2m1 0h1m5 0h1m2 0h2m2 0h1M120 133.5h1m86 0h2m1 0h1m96 0h1m16 0h1m17 0h1m1 0h2m54 0h1m64 0h1m2 0h1m2 0h1m1 0h1m3 0h4m1 0h1m22 0h1m5 0h1m9 0h1m4 0h1m21 0h1m2 0h1m3 0h1m12 0h1m1 0h1m3 0h1M116 134.5h1m90 0h1m1 0h1m1 0h2m5 0h2m67 0h1m14 0h1m16 0h1m2 0h1m19 0h1m24 0h2m6 0h1m38 0h1m50 0h2m18 0h1m28 0h1m1 0h2m25 0h1m6 0h1m30 0h4M115 135.5h1m91 0h2m3 0h1m4 0h3m65 0h1m2 0h1m5 0h1m15 0h1m7 0h1m47 0h1m1 0h2m1 0h1m30 0h1m7 0h1m50 0h1m5 0h1m9 0h3m32 0h1m4 0h1m5 0h1m17 0h1m23 0h1m5 0h1m7 0h1m2 0h1M115 136.5h1m1 0h1m91 0h1m4 0h1m70 0h1m3 0h1m1 0h1m2 0h1m5 0h2m1 0h1m62 0h1m3 0h1m6 0h1m80 0h1m2 0h1m7 0h1m6 0h1m1 0h1m9 0h1m17 0h1m35 0h1m6 0h1m6 0h1m8 0h1m5 0h1M107 137.5h1m98 0h1m5 0h1m1 0h1m75 0h1m7 0h1m1 0h1m5 0h1m1 0h1m11 0h1m56 0h2m79 0h1m11 0h1m7 0h1m1 0h1m8 0h3m9 0h1m3 0h2m2 0h1m32 0h1m8 0h1m5 0h1m8 0h1m3 0h1m7 0h1M206 138.5h1m5 0h1m75 0h1m5 0h2m10 0h1m20 0h1m2 0h1m44 0h1m2 0h1m1 0h1m70 0h2m6 0h1m5 0h2m2 0h1m4 0h1m2 0h2m9 0h2m2 0h1m19 0h1m3 0h1m30 0h2m1 0h1m14 0h1m12 0h1M288 139.5h2m7 0h1m1 0h1m6 0h1m1 0h2m2 0h1m7 0h1m8 0h1m1 0h1m1 0h1m32 0h1m1 0h1m2 0h2m27 0h1m19 0h1m2 0h2m25 0h1m10 0h1m1 0h3m10 0h1m5 0h3m16 0h1m8 0h1m3 0h1m39 0h1m5 0h1M211 140.5h1m76 0h1m8 0h1m9 0h1m3 0h1m6 0h1m1 0h2m10 0h1m1 0h1m2 0h1m7 0h1m15 0h1m6 0h1m7 0h1m36 0h1m60 0h1m2 0h2m1 0h2m11 0h2m11 0h1m1 0h1m68 0h1M122 141.5h1m163 0h2m15 0h1m9 0h1m3 0h2m4 0h1m17 0h1m24 0h1m16 0h1m28 0h1m1 0h1m3 0h1m41 0h1m4 0h1m19 0h2m2 0h1m1 0h1m3 0h1m9 0h1m1 0h1m1 0h1m30 0h1m5 0h1m1 0h1m10 0h1m4 0h1M107 142.5h1m178 0h1m1 0h1m2 0h1m32 0h1m6 0h2m26 0h2m29 0h2m18 0h1m1 0h1m1 0h1m5 0h1m29 0h2m3 0h1m1 0h1m16 0h1m4 0h1m6 0h1m9 0h2m1 0h1m2 0h1m2 0h1m2 0h1m3 0h1m36 0h1m1 0h1m6 0h1M286 143.5h1m3 0h1m8 0h1m6 0h1m10 0h1m5 0h1m6 0h1m10 0h1m2 0h1m2 0h1m8 0h1m1 0h1m1 0h2m2 0h1m6 0h1m9 0h1m4 0h1m17 0h1m7 0h1m11 0h1m25 0h1m21 0h1m1 0h1m1 0h3m3 0h1m2 0h1m4 0h1m10 0h1m38 0h1m10 0h1m10 0h1m3 0h1M211 144.5h1m77 0h1m6 0h1m1 0h1m1 0h1m1 0h1m5 0h1m11 0h1m3 0h1m10 0h1m21 0h1m1 0h1m4 0h1m3 0h1m2 0h1m1 0h1m5 0h2m9 0h1m10 0h1m11 0h1m1 0h3m2 0h1m38 0h2m6 0h1m1 0h1m5 0h1m2 0h1m18 0h1m3 0h1m2 0h1m33 0h1m2 0h1m1 0h1m5 0h1m14 0h1M213 145.5h1m86 0h1m2 0h1m1 0h1m2 0h1m1 0h1m7 0h2m5 0h2m6 0h1m3 0h1m17 0h1m20 0h1m3 0h1m2 0h1m18 0h1m13 0h2m8 0h1m32 0h1m6 0h1m1 0h1m6 0h1m5 0h1m7 0h1m2 0h1m5 0h1m6 0h1m4 0h1m28 0h1m1 0h1m12 0h1m1 0h1m11 0h1M205 146.5h1m90 0h1m9 0h1m6 0h1m1 0h1m2 0h1m2 0h2m8 0h1m5 0h1m4 0h1m9 0h1m2 0h1m1 0h1m8 0h1m1 0h1m3 0h1m35 0h1m8 0h1m10 0h1m42 0h1m3 0h1m3 0h2m1 0h3m6 0h1m1 0h2m6 0h1m2 0h1m2 0h1m1 0h1m26 0h1m31 0h1M293 147.5h1m7 0h2m8 0h5m4 0h1m2 0h1m2 0h1m1 0h1m1 0h1m2 0h1m18 0h1m13 0h1m1 0h1m1 0h1m4 0h1m2 0h1m1 0h1m3 0h1m6 0h1m17 0h1m9 0h1m7 0h2m28 0h1m2 0h1m22 0h2m3 0h2m5 0h2m8 0h1m5 0h1m26 0h1m2 0h1m1 0h2m6 0h1m12 0h1m2 0h1M297 148.5h1m5 0h1m1 0h1m4 0h2m5 0h1m1 0h3m4 0h1m7 0h1m26 0h1m7 0h1m5 0h1m8 0h1m1 0h1m7 0h1m13 0h2m8 0h1m38 0h1m17 0h1m4 0h1m13 0h1m46 0h2m8 0h2m1 0h2m5 0h1M317 149.5h1m16 0h1m44 0h2m17 0h1m10 0h1m8 0h1m1 0h1m3 0h1m3 0h1m30 0h1m2 0h4m19 0h1m3 0h2m40 0h1m21 0h1m2 0h1m7 0h1M309 150.5h1m59 0h1m13 0h1m1 0h1m22 0h1m19 0h1m32 0h1m3 0h2m18 0h1m5 0h1m5 0h1m1 0h1M359 151.5h1m3 0h1m1 0h1m2 0h2m12 0h2m7 0h1m36 0h1m29 0h2m2 0h1m2 0h1m1 0h1m6 0h1m3 0h1m19 0h2m30 0h1m23 0h1M356 152.5h1m2 0h1m4 0h1m3 0h1m1 0h1m12 0h1m5 0h3m6 0h1m5 0h1m1 0h1m23 0h1m28 0h1m1 0h1m5 0h1m7 0h3m11 0h1m5 0h1m4 0h2m2 0h1m20 0h1m24 0h1m1 0h1m11 0h1M351 153.5h4m4 0h1m2 0h1m8 0h1m5 0h1m12 0h2m64 0h1m1 0h1m3 0h1m6 0h2m8 0h1m46 0h1m6 0h1M351 154.5h1m2 0h1m35 0h1m16 0h1m18 0h2m18 0h1m9 0h1m7 0h2m12 0h1m1 0h1m4 0h1m2 0h2m2 0h1m4 0h1m6 0h1m21 0h1m4 0h1m16 0h1m3 0h1m10 0h2M366 155.5h1m16 0h1m1 0h2m21 0h1m19 0h3m15 0h1m11 0h1m26 0h2m15 0h1m24 0h1m10 0h1m3 0h1m9 0h1m4 0h1m5 0h1M363 156.5h1m7 0h1m10 0h2m3 0h2m17 0h2m55 0h4m4 0h2m29 0h2m22 0h3m1 0h1m8 0h1m14 0h1m9 0h1M360 157.5h2m5 0h1m8 0h1m3 0h1m2 0h1m2 0h1m19 0h2m18 0h1m9 0h1m8 0h1m5 0h1m6 0h1m10 0h1m5 0h1m3 0h1m2 0h1m12 0h2m28 0h1m15 0h2m3 0h1m11 0h2M354 158.5h1m13 0h1m23 0h1m50 0h1m3 0h1m16 0h1m4 0h2m15 0h3m4 0h1m39 0h1m22 0h2m1 0h1m2 0h1M354 159.5h1m2 0h1m13 0h1m13 0h1m24 0h1m11 0h1m3 0h1m1 0h1m6 0h1m2 0h3m7 0h1m17 0h1m3 0h1m1 0h4m55 0h3m4 0h1m2 0h1m6 0h3m3 0h1m1 0h1M363 160.5h1m9 0h1m31 0h1m2 0h1m14 0h1m6 0h2m15 0h1m3 0h1m24 0h1m19 0h1m32 0h1m14 0h1m11 0h1M356 161.5h1m2 0h2m4 0h1m2 0h1m1 0h1m5 0h1m6 0h1m4 0h1m19 0h1m27 0h1m4 0h1m4 0h2m9 0h2m11 0h1m11 0h1m8 0h1m1 0h1m35 0h1m1 0h1m2 0h1m3 0h2m11 0h1m3 0h1m1 0h1M352 162.5h1m27 0h1m4 0h1m4 0h1m38 0h1m1 0h1m7 0h1m5 0h1m20 0h1m2 0h2m1 0h3m7 0h1m3 0h1m5 0h1m3 0h1m26 0h1m20 0h1m1 0h2m12 0h1M351 163.5h2m10 0h1m5 0h1m61 0h1m2 0h1m2 0h1m8 0h1m2 0h1m1 0h2m4 0h1m6 0h1m2 0h1m6 0h1m11 0h1m1 0h2m1 0h2m6 0h1m26 0h1m13 0h5m2 0h1m3 0h1m5 0h2M358 164.5h2m4 0h1m4 0h1m6 0h1m3 0h1m9 0h1m9 0h1m4 0h1m23 0h1m6 0h1m1 0h1m6 0h1m6 0h3m7 0h2m2 0h3m3 0h1m11 0h1m17 0h1m22 0h1m3 0h2m1 0h1m16 0h1m7 0h1m1 0h1m2 0h1m1 0h1M352 165.5h1m4 0h1m2 0h1m4 0h1m8 0h1m1 0h1m4 0h1m3 0h1m42 0h2m15 0h2m1 0h1m3 0h2m8 0h1m2 0h1m3 0h1m9 0h1m1 0h1m4 0h1m34 0h1m2 0h1m5 0h1m19 0h1m6 0h1m2 0h1m2 0h1M352 166.5h1m2 0h1m11 0h1m3 0h2m3 0h1m8 0h1m1 0h2m23 0h1m14 0h1m12 0h1m1 0h1m4 0h1m19 0h1m5 0h1m4 0h1m2 0h1m5 0h1m30 0h1m2 0h1m7 0h1m2 0h3m8 0h2m4 0h2m9 0h1M358 167.5h1m1 0h2m6 0h1m2 0h1m1 0h1m7 0h1m1 0h1m2 0h2m5 0h1m18 0h1m28 0h1m28 0h2m16 0h1m3 0h1m26 0h1m13 0h2m7 0h1M365 168.5h1m7 0h1m5 0h1m2 0h1m1 0h1m1 0h2m17 0h1m18 0h1m20 0h1m1 0h1m4 0h1m9 0h1m16 0h1m1 0h1m6 0h1m36 0h1m3 0h1m1 0h1m1 0h2m7 0h1m5 0h1m19 0h1M376 169.5h1m64 0h2m8 0h1m4 0h1m8 0h1m1 0h1m7 0h2m4 0h1m1 0h1m4 0h1m1 0h1m39 0h1m5 0h1m18 0h1M362 170.5h1m7 0h1m4 0h1m3 0h1m1 0h1m5 0h1m35 0h2m24 0h1m16 0h1m9 0h1m12 0h1m26 0h1m3 0h1m18 0h1m6 0h1m13 0h1M371 171.5h1m2 0h1m5 0h1m22 0h1m7 0h1m15 0h1m19 0h1m12 0h2m1 0h1m2 0h1m3 0h1m1 0h1m1 0h4m5 0h1m13 0h1m34 0h1M361 172.5h1m48 0h1m5 0h1m1 0h1m5 0h2m6 0h1m14 0h1m1 0h2m10 0h4m3 0h2m1 0h1m4 0h1m1 0h1m2 0h1m8 0h1m4 0h1m2 0h1M357 173.5h1m1 0h1m15 0h1m30 0h1m4 0h1m32 0h2m2 0h2m13 0h1m8 0h2m8 0h1m9 0h1m8 0h1m6 0h1m54 0h1M361 174.5h1m11 0h2m16 0h2m12 0h1m1 0h1m23 0h1m17 0h1m11 0h3m17 0h1m1 0h1m17 0h1m2 0h1m5 0h1m2 0h1m51 0h2m1 0h1M356 175.5h2m8 0h1m3 0h2m20 0h1m14 0h1m17 0h1m4 0h1m3 0h1m12 0h1m3 0h1m1 0h1m29 0h1m9 0h1m8 0h2m7 0h1m13 0h2m5 0h1m1 0h1m9 0h1m2 0h1m2 0h1M369 176.5h1m20 0h1m55 0h1m11 0h1m4 0h2m9 0h1m16 0h1m19 0h1m5 0h1m1 0h1m5 0h1m1 0h2m20 0h1m13 0h1m2 0h1M355 177.5h1m2 0h1m5 0h1m9 0h1m48 0h1m23 0h1m2 0h1m2 0h1m2 0h2m7 0h1m12 0h1m3 0h1m22 0h1m7 0h1m12 0h1m6 0h1m17 0h1m3 0h1m9 0h1M353 178.5h2m2 0h1m2 0h1m2 0h1m1 0h1m1 0h1m2 0h1m50 0h2m30 0h1m1 0h1m6 0h1m15 0h1m22 0h1m10 0h1m2 0h1m13 0h1m3 0h1m1 0h1m1 0h1m6 0h2m10 0h1m3 0h1M365 179.5h1m53 0h1m31 0h1m1 0h1m8 0h2m1 0h1m16 0h1m5 0h2m1 0h1m14 0h1m8 0h1m18 0h2m14 0h1m4 0h1M366 180.5h1m53 0h1m2 0h1m32 0h2m2 0h1m1 0h1m3 0h2m1 0h1m2 0h2m7 0h1m8 0h2m7 0h1m5 0h1m18 0h1m3 0h1m11 0h2m7 0h1m6 0h1m8 0h1M455 181.5h2m7 0h1m3 0h1m2 0h1m3 0h1m10 0h1m16 0h1m9 0h1m1 0h1m15 0h2m6 0h1m7 0h1m16 0h1m1 0h1m2 0h1M357 182.5h2m60 0h1m29 0h1m24 0h1m7 0h1m11 0h1m2 0h1m12 0h1m2 0h1m6 0h1m5 0h1m2 0h2m10 0h1m3 0h1m14 0h2m2 0h1M358 183.5h1m33 0h1m21 0h1m2 0h1m25 0h1m17 0h1m5 0h1m11 0h1m9 0h1m4 0h1m2 0h1m14 0h1m9 0h3m3 0h1m4 0h1M357 184.5h1m34 0h1m23 0h1m42 0h1m1 0h1m6 0h1m7 0h1m7 0h1m8 0h2m1 0h1m15 0h1m16 0h1m4 0h1m4 0h1m3 0h1m2 0h1m13 0h1m4 0h2M368 185.5h1m50 0h1m33 0h1m5 0h1m7 0h1m11 0h1m5 0h1m13 0h1m11 0h1m3 0h3m2 0h1m2 0h1m3 0h1m9 0h1m3 0h1m2 0h2m4 0h1m2 0h1m2 0h2m2 0h1m3 0h2m1 0h2M363 186.5h1m3 0h1m3 0h1m40 0h2m15 0h1m21 0h2m2 0h2m1 0h1m7 0h1m6 0h1m15 0h1m13 0h1m8 0h1m4 0h1m10 0h1m17 0h1m1 0h1m1 0h2m8 0h1M378 187.5h1m1 0h1m32 0h1m21 0h1m17 0h1m4 0h1m2 0h1m4 0h1m6 0h1m2 0h1m2 0h1m10 0h1m28 0h2m6 0h1m2 0h1m13 0h2m2 0h1M359 188.5h1m2 0h2m4 0h1m44 0h2m15 0h1m3 0h1m2 0h1m7 0h1m16 0h1m12 0h1m2 0h1m1 0h2m1 0h2m36 0h1m3 0h1m22 0h1m2 0h1M361 189.5h2m1 0h1m14 0h1m12 0h1m29 0h1m4 0h1m4 0h1m3 0h1m7 0h1m7 0h1m23 0h1m1 0h1m4 0h1m1 0h1m7 0h2m7 0h1m2 0h1m12 0h1m5 0h1m5 0h1m11 0h2M360 190.5h1m6 0h1m12 0h1m38 0h1m15 0h1m4 0h1m13 0h1m14 0h2m1 0h1m8 0h1m1 0h3m4 0h2m29 0h1m1 0h1m5 0h1m2 0h1m2 0h1m10 0h1m12 0h1M370 191.5h1m5 0h1m40 0h1m19 0h1m6 0h1m3 0h1m9 0h1m8 0h3m5 0h1m2 0h1m20 0h1m17 0h1m11 0h2m3 0h1m2 0h1m1 0h1m10 0h3M370 192.5h2m3 0h1m1 0h1m2 0h1m11 0h1m5 0h2m18 0h1m10 0h1m7 0h2m35 0h1m23 0h1m19 0h1m2 0h1m7 0h1m4 0h1m27 0h1M354 193.5h1m11 0h1m1 0h1m7 0h1m22 0h2m2 0h2m26 0h2m1 0h1m5 0h1m15 0h1m4 0h1m6 0h1m8 0h1m23 0h1m15 0h1m11 0h1m10 0h1m10 0h1M369 194.5h1m6 0h1m13 0h1m3 0h1m6 0h2m2 0h1m3 0h1m3 0h1m19 0h1m17 0h1m6 0h1m3 0h2m7 0h1m7 0h1m17 0h1m7 0h1m1 0h1m22 0h1m7 0h1m2 0h2m2 0h1m1 0h2m2 0h1m5 0h1m4 0h2M356 195.5h1m6 0h1m4 0h1m31 0h1m4 0h2m15 0h2m11 0h1m1 0h1m12 0h1m1 0h3m1 0h1m1 0h2m8 0h3m7 0h1m1 0h1m21 0h1m2 0h1m1 0h1m14 0h1m18 0h2m7 0h1m11 0h1M362 196.5h1m43 0h1m2 0h1m2 0h1m5 0h1m3 0h1m10 0h1m12 0h1m5 0h1m36 0h1m24 0h1m9 0h2m9 0h1m2 0h2m10 0h1m4 0h1m6 0h1M364 197.5h1m14 0h1m14 0h1m11 0h3m9 0h1m8 0h1m6 0h3m12 0h1m6 0h1m10 0h1m1 0h1m2 0h1m9 0h1m22 0h1m6 0h2m5 0h1m6 0h1m8 0h1m5 0h1m2 0h1m5 0h3m2 0h1M364 198.5h1m21 0h1m14 0h2m10 0h1m7 0h2m7 0h1m2 0h1m14 0h1m7 0h1m11 0h2m5 0h2m4 0h1m31 0h1m2 0h1m10 0h1m12 0h1m9 0h1M372 199.5h1m4 0h1m15 0h1m16 0h1m1 0h1m17 0h1m1 0h1m15 0h1m4 0h1m4 0h1m4 0h1m9 0h1m1 0h2m31 0h1m15 0h1m4 0h1m1 0h1m4 0h1m8 0h1m7 0h1M439 200.5h1m9 0h2m7 0h1m2 0h1m10 0h3m2 0h1m1 0h1m19 0h1m5 0h1m5 0h1m16 0h1m23 0h1M366 201.5h1m19 0h1m2 0h1m13 0h1m15 0h1m29 0h1m2 0h1m7 0h1m4 0h2m3 0h1m8 0h1m18 0h1m11 0h2m2 0h1m2 0h1m3 0h1m2 0h3m3 0h1m2 0h1m9 0h1m2 0h1m1 0h1M363 202.5h1m1 0h1m23 0h1m11 0h1m3 0h1m11 0h1m11 0h1m25 0h1m19 0h1m34 0h1m10 0h1m2 0h1m1 0h1m1 0h1m2 0h1m16 0h1M401 203.5h2m8 0h1m6 0h1m11 0h1m4 0h1m11 0h1m6 0h1m9 0h1m53 0h1m4 0h1m3 0h1m1 0h1m9 0h1m1 0h1M381 204.5h3m16 0h1m11 0h1m8 0h1m2 0h1m5 0h1m5 0h1m1 0h2m23 0h1m3 0h1m5 0h1m53 0h1m1 0h1m4 0h1M368 205.5h1m14 0h1m16 0h1m11 0h2m4 0h1m13 0h1m2 0h2m24 0h1m5 0h1m6 0h1m3 0h1m19 0h1m12 0h1m1 0h1m12 0h2m1 0h1m4 0h1m7 0h1M373 206.5h1m14 0h1m9 0h1m1 0h1m16 0h1m11 0h1m3 0h1m23 0h1m19 0h2m13 0h1m5 0h1m26 0h1M366 207.5h1m31 0h2m11 0h1m12 0h1m8 0h1m58 0h2m22 0h1m2 0h1m1 0h1m12 0h1m3 0h1m1 0h1M382 208.5h1m16 0h2m16 0h1m2 0h1m12 0h1m41 0h1m8 0h1M428 209.5h4m69 0h1m28 0h1m3 0h1M353 210.5h1m42 0h1m14 0h1m17 0h1m2 0h1m2 0h1m60 0h1m29 0h1m3 0h2m2 0h1M367 211.5h3m1 0h1m23 0h1m27 0h1m2 0h1m70 0h1m21 0h1m6 0h1M413 212.5h1m2 0h1m8 0h1m2 0h1m78 0h1m17 0h2m3 0h3m2 0h1M365 213.5h1m46 0h1m4 0h1m2 0h1m6 0h1m7 0h1m70 0h1m1 0h1m17 0h2m1 0h1M417 214.5h1m13 0h2m73 0h1m16 0h2M425 215.5h1m47 0h1m44 0h1m2 0h1m5 0h1M369 216.5h1m43 0h1m3 0h1m13 0h1m66 0h1m1 0h2m4 0h2m9 0h1m3 0h3M411 217.5h1m1 0h1m1 0h1m2 0h1m20 0h1m18 0h1m12 0h1m26 0h1m2 0h1m5 0h2m10 0h1m4 0h1M360 218.5h1m46 0h1m6 0h2m10 0h1m1 0h1m10 0h1m72 0h1m13 0h1M357 219.5h1m50 0h1m16 0h2m2 0h1m5 0h1m2 0h1m1 0h1m49 0h5m4 0h1m26 0h1M387 220.5h1m38 0h1m1 0h1m6 0h1m14 0h1m43 0h1m1 0h1m2 0h1m10 0h1m5 0h1M358 221.5h1m62 0h1m12 0h1m2 0h1m56 0h1m2 0h1m1 0h1m2 0h1m5 0h1m1 0h1m9 0h1m3 0h1M428 222.5h1m1 0h1m3 0h1m1 0h1m53 0h1m12 0h1m17 0h1m2 0h1M357 223.5h1m22 0h1m31 0h2m12 0h2m45 0h1m9 0h3m9 0h1m1 0h2m6 0h1M354 224.5h1m5 0h1m19 0h1m29 0h1m4 0h1m17 0h2m39 0h1m8 0h1m32 0h1m4 0h1M356 225.5h1m23 0h1m12 0h1m23 0h1m1 0h1m17 0h1m3 0h1m42 0h3m14 0h1m4 0h1m1 0h1M355 226.5h2m7 0h1m33 0h1m26 0h2m10 0h1m33 0h1m13 0h1m2 0h1m7 0h1m2 0h1m2 0h2m1 0h2m1 0h1m3 0h1m3 0h1m3 0h1M359 227.5h1m65 0h1m11 0h1m64 0h1m9 0h1m3 0h1M355 228.5h2m1 0h2m65 0h1m9 0h1m23 0h1m21 0h1m7 0h3m1 0h1m1 0h1m5 0h1m1 0h1m4 0h2m3 0h1M360 229.5h1m37 0h1m4 0h1m85 0h2m1 0h1m6 0h1m1 0h1m11 0h1m2 0h1M385 230.5h1m2 0h2m10 0h1m2 0h1m1 0h1m11 0h3m23 0h1m14 0h3m5 0h1m4 0h1m9 0h1m8 0h1m10 0h1M385 231.5h1m4 0h1m13 0h2m1 0h1m1 0h1m11 0h1m21 0h1m10 0h2m9 0h1m1 0h1m15 0h1m3 0h1m11 0h2m5 0h1M354 232.5h1m2 0h1m45 0h4m12 0h1m9 0h3m12 0h2m16 0h1m14 0h2m13 0h1m12 0h1m6 0h1M354 233.5h1m4 0h1m4 0h1m37 0h1m1 0h2m9 0h1m10 0h1m50 0h1m1 0h1m11 0h1m7 0h1m5 0h1m8 0h1M362 234.5h1m38 0h1m23 0h2m35 0h1m7 0h1m10 0h1m18 0h1m2 0h1m2 0h2m4 0h1M353 235.5h1m1 0h1m44 0h1m18 0h4m7 0h1m32 0h1m5 0h1m14 0h1m2 0h1M361 236.5h2m2 0h1m53 0h1m9 0h1m15 0h1m20 0h1m2 0h1m13 0h1m1 0h1M365 237.5h1m70 0h1m55 0h1m2 0h1m2 0h1m2 0h2M358 238.5h1m6 0h1m53 0h1m63 0h1m4 0h1m6 0h1m2 0h1m9 0h1m1 0h1M357 239.5h1m7 0h1m46 0h1m7 0h1m10 0h1m39 0h1m7 0h2m4 0h1m7 0h1m6 0h3m7 0h1m4 0h1M355 240.5h1m4 0h1m2 0h2m53 0h1m1 0h1m45 0h1m17 0h1m5 0h1m12 0h1m2 0h1m7 0h1M361 241.5h1m1 0h1m3 0h1m54 0h1m67 0h1m3 0h1m3 0h1m1 0h1m9 0h1M351 242.5h1m70 0h1m61 0h2m11 0h1m15 0h1M351 243.5h1m1 0h1m4 0h2m3 0h3m1 0h1m39 0h2m26 0h1m15 0h1m9 0h1M355 244.5h1m2 0h1m102 0h1m28 0h1m1 0h2m1 0h1M352 245.5h3m9 0h1m93 0h1m3 0h1m26 0h1M351 246.5h1m1 0h1m17 0h2m14 0h1m69 0h1M369 247.5h1m1 0h2m1 0h1M362 248.5h1m1 0h1m4 0h3m133 0h1M358 249.5h1m144 0h1M358 250.5h1m7 0h2m5 0h1M370 251.5h1M499 252.5h2M361 253.5h1m2 0h2m2 0h3M359 254.5h2m141 0h1M362 255.5h1m2 0h1m3 0h1m1 0h1m4 0h1M357 256.5h1m2 0h1m4 0h1m137 0h2m1 0h1M352 257.5h1m4 0h1m4 0h1m8 0h1m122 0h1m1 0h1M360 258.5h1m13 0h2m1 0h1M362 259.5h1m1 0h1m4 0h1m130 0h2M368 260.5h1m5 0h1m127 0h2M358 261.5h2m15 0h4M366 262.5h3m1 0h1m2 0h1M356 263.5h1m3 0h1m1 0h2m8 0h2M355 264.5h1m2 0h1m1 0h1m8 0h3m2 0h1M372 265.5h1M354 266.5h2m1 0h1m9 0h1M355 267.5h1m6 0h1M354 268.5h1m2 0h1m2 0h1m3 0h1M363 269.5h1m5 0h1M357 270.5h1m5 0h1M367 271.5h1M360 273.5h2M364 276.5h1M362 278.5h1M353 285.5h1M514 287.5h1M515 290.5h1M523 291.5h1"/><path stroke-opacity="0.75" d="M304 19.5h2m1 0h2m31 0h6m8 0h1m1 0h1m5 0h1m9 0h1M305 20.5h1m2 0h1m1 0h1m1 0h1m15 0h1m13 0h1m21 0h1m4 0h1M301 21.5h1m9 0h1m5 0h1m7 0h1m1 0h1m3 0h1m2 0h1m3 0h1m1 0h2m2 0h1m4 0h1m6 0h1m5 0h1m1 0h3m2 0h1M299 22.5h2m14 0h1m3 0h1m2 0h1m15 0h2m20 0h1m12 0h1m1 0h1M201 23.5h1m112 0h2m1 0h1m20 0h3m14 0h1m13 0h1M262 24.5h1m21 0h1m15 0h2m5 0h1m5 0h1m7 0h1m4 0h2m7 0h2m2 0h2m32 0h1M307 25.5h1m3 0h3m5 0h1m6 0h1m1 0h2m25 0h1m3 0h1m2 0h1m6 0h1m8 0h1m1 0h1M263 26.5h1m36 0h1m1 0h2m3 0h2m14 0h2m4 0h1m7 0h1m1 0h2m22 0h1m5 0h3m6 0h1M192 27.5h1m111 0h1m3 0h2m4 0h2m4 0h3m3 0h1m2 0h1m6 0h2m18 0h1m1 0h1m3 0h1m8 0h1M303 28.5h2m2 0h1m1 0h1m3 0h1m1 0h1m6 0h1m3 0h1m30 0h1m2 0h1m2 0h1M297 29.5h2m1 0h2m2 0h1m3 0h1m3 0h1m1 0h1m1 0h1m3 0h2m14 0h1m18 0h1m1 0h1m3 0h1m2 0h1m17 0h1M297 30.5h1m2 0h1m3 0h1m7 0h1m18 0h1m4 0h1m24 0h1m8 0h1m1 0h1m3 0h2m3 0h1M297 31.5h1m4 0h1m29 0h1m1 0h1m3 0h1m33 0h3m3 0h1M297 32.5h2m3 0h1m1 0h1m11 0h2m1 0h2m1 0h1m13 0h2m22 0h1m2 0h1m9 0h1M303 33.5h1m2 0h2m1 0h1m6 0h1m2 0h2m3 0h1m4 0h1m5 0h1m2 0h1m1 0h1m15 0h1m5 0h1m8 0h3M316 34.5h1m4 0h1m3 0h1m2 0h4m8 0h2m18 0h1m13 0h1m4 0h1m1 0h1M297 35.5h1m24 0h2m5 0h1m1 0h1m3 0h1m2 0h1m26 0h2m8 0h3M306 36.5h1m2 0h1m3 0h1m10 0h2m12 0h2m23 0h1m1 0h1m5 0h1m16 0h1M297 37.5h1m5 0h1m2 0h1m4 0h2m12 0h1m37 0h2m9 0h1m7 0h1m2 0h1m3 0h1M149 38.5h1m143 0h2m29 0h2m9 0h1m2 0h1m24 0h1m7 0h1m1 0h1m2 0h2m6 0h2M287 39.5h2m17 0h2m9 0h2m15 0h1m35 0h2m11 0h1m3 0h1m1 0h2M305 40.5h1m1 0h1m2 0h1m2 0h1m5 0h1m4 0h1m3 0h1m1 0h2m25 0h1m30 0h1M140 41.5h1m162 0h1m6 0h1m2 0h1m4 0h1m8 0h3m1 0h1m1 0h1m5 0h1m17 0h1m4 0h3m16 0h1m3 0h2M139 42.5h1m145 0h1m25 0h1m2 0h1m1 0h1m6 0h1m2 0h1m7 0h1m3 0h1m17 0h1m3 0h1m2 0h1m2 0h1m9 0h1m8 0h1m7 0h1M143 43.5h1m6 0h1m75 0h1m74 0h1m3 0h1m1 0h1m5 0h3m6 0h2m1 0h1m2 0h2m3 0h1m1 0h1m5 0h1m14 0h2m9 0h1m20 0h1m7 0h1M131 44.5h2m8 0h1m5 0h1m78 0h1m76 0h1m1 0h2m12 0h1m3 0h1m12 0h1m16 0h1m6 0h1m2 0h1m17 0h1m3 0h1m7 0h1M311 45.5h1m1 0h1m7 0h2m4 0h1m9 0h1m24 0h2m27 0h1M144 46.5h1m139 0h1m16 0h1m3 0h1m4 0h1m5 0h2m1 0h3m2 0h1m1 0h1m3 0h2m31 0h1m22 0h1m5 0h1M140 47.5h1m3 0h1m133 0h1m4 0h1m19 0h1m4 0h1m4 0h2m6 0h1m8 0h2m53 0h2m4 0h1m1 0h1m243 0h1M139 48.5h1m107 0h1m32 0h1m17 0h1m1 0h3m7 0h1m1 0h1m5 0h1m3 0h1m7 0h2m8 0h1m23 0h1m1 0h1m3 0h2m14 0h1m2 0h1m1 0h1m3 0h2m10 0h2m230 0h1M140 49.5h2m159 0h2m3 0h5m4 0h2m4 0h2m5 0h1m1 0h1m6 0h3m46 0h1m4 0h1m2 0h2M131 50.5h1m2 0h1m121 0h2m39 0h3m3 0h1m2 0h1m2 0h1m4 0h1m1 0h1m1 0h1m4 0h1m8 0h1m30 0h1m8 0h1m13 0h1m6 0h1m2 0h1M128 51.5h1m13 0h1m58 0h1m78 0h1m20 0h1m9 0h1m4 0h1m2 0h1m2 0h1m17 0h1m25 0h1m1 0h1m17 0h1m1 0h1m37 0h1M132 52.5h1m1 0h1m1 0h1m4 0h1m2 0h1m135 0h2m2 0h1m12 0h1m11 0h2m4 0h1m4 0h1m4 0h1m1 0h1m1 0h3m2 0h3m3 0h3m21 0h1m39 0h1m19 0h1m1 0h1M130 53.5h1m4 0h1m1 0h2m4 0h1m113 0h1m45 0h2m5 0h1m4 0h1m11 0h1m1 0h1m3 0h3m3 0h1m16 0h2m4 0h1m31 0h1m7 0h2m1 0h1m4 0h2m14 0h3M132 54.5h2m6 0h1m5 0h1m157 0h1m5 0h1m6 0h1m12 0h2m14 0h1m19 0h1m17 0h1m23 0h2m1 0h1m5 0h1m6 0h2m2 0h1M141 55.5h2m1 0h1m120 0h2m46 0h1m1 0h2m1 0h1m23 0h1m20 0h1m28 0h1m2 0h1m11 0h1m1 0h4m5 0h2M135 56.5h1m1 0h1m7 0h2m185 0h1m20 0h1m5 0h1m3 0h1m19 0h1m10 0h1m2 0h2m6 0h1m3 0h1m1 0h1M133 57.5h1m3 0h1m12 0h1m168 0h1m9 0h1m2 0h1m5 0h1m20 0h3m31 0h1m5 0h1m9 0h1m10 0h3m5 0h1m2 0h1M333 58.5h1m7 0h1m13 0h1m8 0h1m3 0h2m35 0h1m9 0h1m4 0h2m1 0h1m1 0h2m5 0h1m16 0h1M135 59.5h1m108 0h1m79 0h1m6 0h1m1 0h1m18 0h1m6 0h1m1 0h1m6 0h2m36 0h5m14 0h1m3 0h1m7 0h1M102 60.5h1m208 0h1m12 0h1m12 0h2m54 0h1m5 0h1m3 0h2m1 0h1m11 0h1m4 0h1m22 0h1M334 61.5h1m13 0h1m16 0h1m3 0h1m40 0h1M323 62.5h1m2 0h1m7 0h1m3 0h1m2 0h2m5 0h1m51 0h1m5 0h1m5 0h1m8 0h2m1 0h1m10 0h1m4 0h1m15 0h1M331 63.5h1m2 0h1m3 0h1m2 0h2m51 0h1m3 0h1m4 0h3m4 0h1m2 0h2m2 0h1m14 0h1m4 0h4m3 0h2M323 64.5h1m4 0h2m7 0h1m15 0h1m1 0h1m44 0h1m4 0h1m7 0h1m7 0h1m10 0h1m7 0h1m14 0h2m19 0h1M311 65.5h1m12 0h5m2 0h2m8 0h1m7 0h1m3 0h1m40 0h2m2 0h1m2 0h1m2 0h1m10 0h1m25 0h1m1 0h1m8 0h1m2 0h1m31 0h1m2 0h1m1 0h1M312 66.5h1m21 0h1m13 0h1m1 0h1m2 0h2m5 0h1m4 0h1m1 0h1m17 0h1m9 0h2m5 0h1m4 0h1m16 0h1m4 0h2m3 0h2m18 0h1m4 0h1m28 0h1m3 0h1m148 0h1M311 67.5h1m14 0h1m6 0h2m4 0h1m1 0h1m7 0h1m3 0h2m9 0h1m38 0h1m8 0h2m10 0h2m4 0h1m1 0h1m21 0h1m3 0h1m35 0h1M326 68.5h4m6 0h1m18 0h1m2 0h1m5 0h1m1 0h1m55 0h1m2 0h1m10 0h1m9 0h1m11 0h1m15 0h1m21 0h1M243 69.5h1m89 0h1m4 0h1m17 0h1m1 0h1m33 0h1m32 0h3m2 0h2m8 0h1m52 0h2m108 0h1M245 70.5h1m76 0h1m1 0h1m11 0h1m1 0h2m2 0h3m13 0h2m7 0h1m26 0h1m11 0h1m1 0h1m10 0h1m2 0h1m1 0h1m6 0h1m6 0h1m2 0h1m7 0h1m7 0h1m20 0h1m13 0h2m88 0h1m3 0h1m49 0h1M243 71.5h2m77 0h2m18 0h1m3 0h1m7 0h2m10 0h1m27 0h1m13 0h2m4 0h1m10 0h1m3 0h1m7 0h1m1 0h1m4 0h1m4 0h2m24 0h2m15 0h1m94 0h3m12 0h2m30 0h1M245 72.5h1m77 0h1m9 0h1m4 0h1m5 0h1m19 0h1m22 0h1m14 0h1m4 0h1m10 0h1m4 0h1m7 0h1m6 0h1m5 0h1m7 0h1m1 0h1m20 0h2m8 0h3m4 0h1m86 0h3m4 0h1m13 0h1m1 0h2M321 73.5h3m9 0h2m1 0h1m40 0h1m8 0h1m9 0h4m7 0h1m12 0h1m1 0h1m7 0h1m2 0h1m10 0h1m5 0h1m32 0h1m88 0h1m23 0h1m5 0h1m1 0h1M105 74.5h1m225 0h1m46 0h1m6 0h1m10 0h1m22 0h1m10 0h1m13 0h1m1 0h2m5 0h1m18 0h1m3 0h1m10 0h1m2 0h2m103 0h2m3 0h1m2 0h1M105 75.5h1m192 0h1m39 0h1m1 0h2m24 0h1m30 0h1m9 0h1m2 0h1m11 0h1m3 0h1m8 0h1m11 0h1m26 0h1m3 0h3m5 0h1m6 0h1m106 0h2M370 76.5h1m31 0h1m5 0h2m3 0h2m10 0h1m4 0h1m1 0h2m2 0h1m10 0h1m1 0h3m19 0h1m4 0h1m2 0h1m12 0h2m102 0h2m1 0h1m1 0h2M304 77.5h1m19 0h1m1 0h1m1 0h1m38 0h2m1 0h1m1 0h2m27 0h2m6 0h3m12 0h1m2 0h1m9 0h2m4 0h1m1 0h1m5 0h2m34 0h1m7 0h1m102 0h1m1 0h1m1 0h1M327 78.5h1m11 0h3m25 0h1m19 0h1m1 0h1m12 0h1m2 0h1m5 0h2m2 0h2m3 0h2m6 0h1m2 0h3m5 0h1m9 0h3m24 0h2m9 0h2m105 0h1m6 0h1M160 79.5h1m161 0h1m4 0h1m39 0h2m9 0h1m19 0h1m6 0h1m2 0h1m2 0h1m13 0h1m9 0h1m4 0h1m10 0h1m1 0h1m37 0h2m89 0h3m12 0h1M107 80.5h1m213 0h1m1 0h1m44 0h1m1 0h1m6 0h1m25 0h1m5 0h1m27 0h2m8 0h1m24 0h1m15 0h1m3 0h1m107 0h1m34 0h1M108 81.5h1m59 0h1m147 0h1m20 0h2m35 0h1m36 0h1M216 82.5h1m87 0h1m6 0h1m4 0h2m3 0h2m44 0h1m1 0h1m2 0h1m55 0h1m3 0h1m2 0h3m2 0h1m28 0h1m1 0h1m1 0h1m9 0h1m2 0h1m11 0h1m2 0h1M314 83.5h2m24 0h1m28 0h1m4 0h1m23 0h1m3 0h1m4 0h1m11 0h2m7 0h1m1 0h1m11 0h1m4 0h1m121 0h1M168 84.5h1m1 0h1m152 0h1m1 0h2m43 0h1m10 0h1m3 0h1m12 0h1m17 0h2m24 0h1m1 0h1m2 0h1m2 0h3m21 0h2m2 0h1m6 0h1m1 0h1m12 0h1m65 0h1m5 0h1m2 0h1m1 0h1M168 85.5h2m39 0h1m4 0h1m164 0h1m2 0h2m7 0h1m8 0h1m6 0h1m27 0h1m5 0h1m41 0h1m11 0h1m5 0h1m1 0h1m68 0h1m4 0h2M165 86.5h3m3 0h1m121 0h1m2 0h1m25 0h1m46 0h1m12 0h1m22 0h1m3 0h1m2 0h1m1 0h1m3 0h1m71 0h1m1 0h1m77 0h1m2 0h1M103 87.5h1m7 0h1m55 0h1m4 0h1m37 0h1m2 0h1m87 0h1m20 0h1m1 0h1m33 0h1m4 0h2m4 0h1m1 0h2m5 0h1m32 0h1m29 0h1m3 0h2m4 0h1m18 0h1m16 0h3m9 0h1m65 0h1m1 0h1m3 0h1m3 0h2M172 88.5h1m38 0h1m87 0h1m3 0h1m18 0h1m3 0h1m2 0h1m6 0h1m24 0h1m24 0h1m4 0h2m56 0h1m1 0h1m20 0h1m7 0h1m7 0h1m1 0h1m10 0h1m41 0h1m1 0h2m2 0h1m18 0h2m6 0h1M171 89.5h2m137 0h1m12 0h1m5 0h1m35 0h1m64 0h1m9 0h1m3 0h1m27 0h1m12 0h1m56 0h1m1 0h1m1 0h1m5 0h1m5 0h2m9 0h1m1 0h2m15 0h1M172 90.5h1m154 0h1m5 0h1m6 0h1m1 0h1m2 0h1m86 0h1m14 0h3m1 0h1m17 0h1m2 0h1m2 0h1m2 0h2m1 0h2m8 0h1m49 0h1m17 0h1m4 0h1m7 0h2m2 0h1M177 91.5h1m4 0h1m20 0h2m6 0h1m102 0h1m7 0h1m1 0h1m2 0h1m3 0h1m2 0h3m3 0h1m2 0h4m30 0h1m66 0h1m5 0h1m24 0h1m14 0h1m1 0h1m4 0h1m68 0h1M182 92.5h1m17 0h1m5 0h1m84 0h1m1 0h2m1 0h1m2 0h2m1 0h1m8 0h3m5 0h3m4 0h1m1 0h1m6 0h1m1 0h1m7 0h1m100 0h1m2 0h1m25 0h1m16 0h1m46 0h1m6 0h1m1 0h2m22 0h1m1 0h1m4 0h1M182 93.5h1m8 0h1m7 0h1m4 0h3m2 0h1m90 0h1m2 0h1m1 0h1m13 0h1m14 0h1m5 0h1m104 0h1m5 0h1m17 0h1m15 0h1m4 0h1m51 0h1m9 0h2m12 0h1m5 0h1m4 0h1m17 0h1M180 94.5h1m1 0h1m4 0h1m3 0h1m3 0h5m4 0h1m2 0h1m83 0h1m4 0h1m5 0h2m9 0h2m8 0h1m6 0h1m2 0h1m2 0h2m1 0h4m34 0h1m19 0h1m49 0h1m42 0h1m1 0h1m46 0h3m5 0h1m1 0h3m10 0h1m4 0h1m5 0h2m2 0h1m25 0h1M181 95.5h1m1 0h3m6 0h1m8 0h1m90 0h1m1 0h4m4 0h2m6 0h1m6 0h1m4 0h1m2 0h1m3 0h2m8 0h1m3 0h1m63 0h2m14 0h1m24 0h1m18 0h1m1 0h1m1 0h1m10 0h1m3 0h1m3 0h1m9 0h1m1 0h1m38 0h1m10 0h1m9 0h1m2 0h1m1 0h1m5 0h2M184 96.5h1m4 0h1m3 0h3m2 0h1m93 0h1m6 0h4m9 0h1m4 0h1m5 0h3m2 0h1m2 0h1m4 0h2m2 0h1m82 0h1m2 0h1m2 0h1m15 0h1m1 0h1m3 0h1m18 0h1m5 0h1m4 0h1m56 0h1m6 0h2m2 0h1m3 0h1m7 0h2m10 0h1m3 0h1m22 0h1M103 97.5h2m83 0h1m11 0h1m93 0h1m16 0h1m6 0h1m5 0h1m3 0h2m10 0h1m88 0h1m17 0h2m21 0h2m4 0h1m26 0h1m34 0h1m1 0h1m10 0h2m6 0h1m1 0h1m2 0h2M184 98.5h1m13 0h1m92 0h1m1 0h1m15 0h1m1 0h2m10 0h1m3 0h3m10 0h1m59 0h1m46 0h1m19 0h1m23 0h1m4 0h1m53 0h1m26 0h2M194 99.5h1m4 0h1m90 0h3m1 0h1m1 0h1m6 0h1m5 0h1m4 0h1m7 0h1m7 0h1m1 0h1m3 0h1m3 0h1m20 0h1m46 0h2m33 0h1m3 0h1m2 0h1m15 0h3m20 0h2m6 0h1m37 0h1m2 0h1m9 0h1m5 0h1m1 0h1m7 0h1m2 0h1m6 0h1m3 0h1M191 100.5h1m1 0h1m103 0h1m6 0h1m5 0h1m9 0h1m4 0h1m102 0h1m38 0h1m11 0h1m11 0h1m41 0h1m4 0h1M293 101.5h1m10 0h1m31 0h1m18 0h1m71 0h1m66 0h1m1 0h1m41 0h1m3 0h1m10 0h3m4 0h1m1 0h1m2 0h2M200 102.5h1m121 0h2m8 0h1m1 0h1m3 0h1m2 0h1m9 0h1m76 0h1m22 0h1m34 0h2m49 0h1m3 0h2m5 0h1m7 0h1m9 0h1m3 0h1m6 0h1M198 103.5h1m95 0h1m25 0h1m11 0h2m4 0h1m7 0h3m1 0h3m13 0h1m41 0h1m12 0h1m25 0h3m1 0h2m43 0h1m43 0h1m12 0h1m17 0h1m4 0h1M294 104.5h1m24 0h1m18 0h1m3 0h2m1 0h1m81 0h1m1 0h1m9 0h1m13 0h1m38 0h1m5 0h1m34 0h1m27 0h1m16 0h1m1 0h1m14 0h1m9 0h1M337 105.5h1m3 0h1m1 0h1m1 0h1m75 0h1m5 0h1m1 0h1m58 0h1m8 0h1m36 0h1m12 0h1m2 0h1m8 0h1m16 0h1M300 106.5h1m6 0h1m24 0h1m2 0h2m1 0h1m1 0h3m16 0h1m16 0h1m69 0h1m21 0h1m7 0h1m20 0h1m24 0h1m6 0h1m12 0h1m6 0h1m2 0h1m6 0h1m43 0h1M292 107.5h1m9 0h1m18 0h1m13 0h1m2 0h1m3 0h1m1 0h1m1 0h1m8 0h1m64 0h1m26 0h1m1 0h1m29 0h1m10 0h1m54 0h2m6 0h1m2 0h2m20 0h2m5 0h1m2 0h1M208 108.5h1m82 0h1m1 0h2m12 0h1m24 0h1m7 0h2m2 0h1m1 0h1m17 0h1m46 0h1m35 0h1m7 0h1m9 0h1m55 0h1m19 0h2m7 0h1m6 0h1m14 0h3m3 0h1m20 0h1m5 0h1M295 109.5h1m7 0h1m2 0h2m18 0h1m1 0h1m1 0h2m1 0h1m1 0h1m3 0h1m3 0h1m2 0h1m89 0h1m12 0h1m22 0h1m7 0h2m40 0h2m18 0h2m7 0h2m4 0h2m10 0h1m2 0h1m5 0h1m3 0h2m4 0h1m10 0h1M292 110.5h1m13 0h1m1 0h1m12 0h2m15 0h2m9 0h1m96 0h1m2 0h1m1 0h1m3 0h1m24 0h2m34 0h1m13 0h1m10 0h1m6 0h1m2 0h1m19 0h2m3 0h1m2 0h1m2 0h1m1 0h1M296 111.5h2m7 0h1m2 0h1m29 0h1m4 0h1m105 0h2m71 0h1m2 0h1m3 0h1m10 0h1m1 0h1m4 0h1m1 0h1m4 0h1m3 0h1m4 0h1m10 0h1m7 0h2m2 0h1M210 112.5h1m85 0h1m1 0h1m3 0h2m15 0h2m1 0h1m2 0h1m20 0h1m8 0h1m136 0h1m16 0h1m5 0h1m1 0h1m3 0h2m33 0h1m7 0h1m6 0h1m1 0h1m3 0h1m2 0h1m4 0h1M298 113.5h1m17 0h1m3 0h1m4 0h1m8 0h1m10 0h1m137 0h1m25 0h1m2 0h1m1 0h1m2 0h2m4 0h1m22 0h1m8 0h3m10 0h2m18 0h1M295 114.5h2m9 0h1m1 0h1m6 0h1m3 0h1m6 0h1m9 0h1m4 0h1m20 0h1m8 0h1m115 0h1m23 0h1m5 0h3m2 0h1m29 0h1m14 0h1m8 0h1m10 0h3m5 0h1M303 115.5h1m11 0h1m3 0h1m12 0h2m1 0h1m3 0h1m33 0h1m46 0h1m91 0h1m2 0h2m18 0h2m4 0h1m8 0h2m2 0h1m9 0h3m3 0h2m4 0h1m1 0h2m4 0h1m5 0h1m1 0h1m1 0h1M214 116.5h1m88 0h1m2 0h1m2 0h1m16 0h1m5 0h1m9 0h1m46 0h1m27 0h2m36 0h1m14 0h1m39 0h1m1 0h2m6 0h1m6 0h1m5 0h1m7 0h1m3 0h1m10 0h1m5 0h1m1 0h1m26 0h1M213 117.5h1m80 0h1m12 0h1m13 0h1m2 0h1m1 0h2m9 0h1m132 0h1m1 0h1m10 0h1m32 0h1m5 0h1m2 0h1m2 0h1m10 0h1m9 0h2m7 0h1m12 0h1m1 0h1m5 0h1m11 0h1M214 118.5h3m77 0h1m1 0h1m5 0h4m7 0h1m1 0h2m41 0h1m60 0h1m66 0h1m1 0h1m9 0h1m17 0h1m2 0h1m3 0h2m5 0h1m1 0h1m1 0h1m2 0h2m1 0h1m1 0h2m11 0h1m1 0h1m6 0h1m2 0h1m1 0h2m9 0h1m10 0h1M212 119.5h2m1 0h1m71 0h1m9 0h1m1 0h1m5 0h1m1 0h1m8 0h1m7 0h1m3 0h1m11 0h1m3 0h1m140 0h1m2 0h1m38 0h1m9 0h1m2 0h1m12 0h1m13 0h2m1 0h2m7 0h1M295 120.5h2m10 0h1m1 0h1m2 0h1m11 0h1m3 0h1m28 0h1m15 0h1m15 0h2m1 0h2m16 0h1m7 0h2m1 0h1m55 0h1m9 0h1m10 0h1m15 0h2m2 0h1m51 0h2m8 0h1m3 0h2m2 0h1m6 0h1M289 121.5h1m7 0h2m13 0h1m60 0h1m15 0h1m1 0h1m3 0h1m7 0h1m6 0h1m2 0h2m2 0h2m53 0h1m57 0h1m20 0h1m9 0h1m3 0h1m2 0h1m12 0h1m1 0h1m4 0h1M292 122.5h1m1 0h2m5 0h1m5 0h1m1 0h2m15 0h1m56 0h1m2 0h1m9 0h1m2 0h2m4 0h1m14 0h1m57 0h1m42 0h1m9 0h1m5 0h2m25 0h1m6 0h1m12 0h1m4 0h1M303 123.5h1m9 0h1m13 0h1m16 0h1m2 0h2m33 0h2m4 0h1m23 0h2m58 0h2m4 0h1m24 0h1m13 0h1m2 0h1m2 0h1m3 0h1m3 0h1m1 0h1m37 0h1m7 0h1m1 0h1m3 0h2M292 124.5h1m3 0h1m6 0h2m11 0h1m67 0h1m1 0h1m13 0h1m13 0h1m5 0h1m41 0h1m7 0h1m3 0h1m17 0h1m10 0h4m15 0h3m11 0h1m34 0h1m1 0h1m6 0h1m5 0h2M300 125.5h1m15 0h2m26 0h1m7 0h1m35 0h1m6 0h1m24 0h1m52 0h1m24 0h1m16 0h2m5 0h1m2 0h1m1 0h2m4 0h1m14 0h1m12 0h1m1 0h1m3 0h1m4 0h1m7 0h1m1 0h1m2 0h1M301 126.5h1m2 0h1m2 0h1m1 0h1m7 0h1m6 0h1m2 0h1m24 0h1m29 0h2m28 0h1m1 0h1m20 0h1m11 0h1m26 0h1m41 0h1m5 0h1m2 0h1m12 0h3m3 0h1m18 0h1m3 0h1m6 0h1m3 0h2M288 127.5h1m13 0h1m3 0h1m9 0h1m10 0h1m14 0h1m19 0h1m1 0h1m35 0h1m7 0h1m3 0h1m1 0h1m1 0h1m7 0h1m10 0h1m72 0h1m22 0h1m4 0h2m7 0h1m2 0h1m9 0h1m1 0h1m4 0h1M210 128.5h1m89 0h1m12 0h1m2 0h1m4 0h1m1 0h1m2 0h1m2 0h1m3 0h1m10 0h1m1 0h1m13 0h1m3 0h1m9 0h1m17 0h1m12 0h1m8 0h1m3 0h1m6 0h1m8 0h1m61 0h1m26 0h1m5 0h1m11 0h1m1 0h2m1 0h1m9 0h1m1 0h1m2 0h2m4 0h1m10 0h1m2 0h1m2 0h2M298 129.5h1m4 0h2m3 0h1m2 0h1m6 0h1m2 0h2m23 0h1m1 0h1m8 0h1m1 0h1m2 0h1m8 0h3m3 0h1m11 0h1m2 0h1m12 0h1m20 0h1m13 0h1m15 0h1m11 0h1m2 0h1m24 0h1m10 0h1m17 0h1m1 0h1m18 0h1m2 0h1m1 0h1m6 0h1m1 0h3m3 0h1m4 0h2m6 0h1M212 130.5h1m70 0h1m4 0h1m12 0h1m1 0h1m5 0h1m12 0h1m6 0h1m5 0h1m3 0h1m3 0h2m8 0h1m3 0h1m26 0h1m69 0h1m13 0h1m5 0h1m2 0h1m1 0h1m1 0h1m6 0h1m3 0h3m14 0h1m5 0h1m1 0h2m8 0h2m21 0h1m11 0h2m8 0h1m3 0h1m2 0h1m2 0h1m1 0h1M113 131.5h1m95 0h1m79 0h2m9 0h1m1 0h1m2 0h1m2 0h1m6 0h2m3 0h1m8 0h1m4 0h1m1 0h1m4 0h1m1 0h1m17 0h1m5 0h1m4 0h1m4 0h1m7 0h1m6 0h1m67 0h1m4 0h2m25 0h1m3 0h1m4 0h1m2 0h2m23 0h1m4 0h1m7 0h1m7 0h1m1 0h2m8 0h1m1 0h1m2 0h2m7 0h1m2 0h1m1 0h1m5 0h1M283 132.5h2m3 0h1m3 0h1m16 0h2m5 0h1m1 0h1m12 0h1m1 0h1m1 0h1m1 0h1m6 0h2m1 0h1m3 0h1m14 0h1m4 0h1m6 0h2m20 0h1m20 0h1m13 0h1m33 0h1m7 0h3m2 0h1m2 0h1m16 0h1m3 0h2m1 0h1m1 0h1m2 0h1m1 0h1m9 0h2m2 0h1m15 0h1m4 0h1m1 0h2m1 0h1m15 0h1m2 0h1m3 0h1m3 0h1m1 0h1M112 133.5h1m93 0h1m79 0h1m4 0h1m5 0h1m6 0h1m13 0h1m17 0h1m2 0h1m3 0h1m2 0h2m8 0h1m2 0h1m7 0h1m3 0h2m5 0h1m31 0h1m3 0h3m30 0h2m6 0h1m1 0h1m8 0h1m7 0h2m7 0h1m9 0h1m6 0h1m3 0h1m4 0h2m1 0h1m1 0h1m7 0h1m1 0h1m6 0h4m7 0h3m2 0h1m8 0h2m1 0h2m1 0h2m2 0h1m6 0h1m1 0h1m3 0h1M108 134.5h1m101 0h1m3 0h1m78 0h2m1 0h1m1 0h2m8 0h1m2 0h1m4 0h2m3 0h1m21 0h4m6 0h1m59 0h1m1 0h1m45 0h2m6 0h1m1 0h1m1 0h1m5 0h3m18 0h1m1 0h1m1 0h1m7 0h1m11 0h1m7 0h1m12 0h3m9 0h1m11 0h1m8 0h1M107 135.5h1m9 0h1m92 0h1m2 0h2m91 0h1m4 0h1m1 0h1m1 0h2m2 0h1m24 0h1m6 0h1m7 0h2m15 0h1m24 0h1m39 0h1m14 0h1m5 0h5m6 0h1m6 0h1m21 0h1m5 0h1m39 0h1m19 0h1m3 0h1m5 0h1m4 0h1M206 136.5h3m95 0h2m5 0h1m6 0h1m17 0h1m9 0h1m2 0h2m8 0h1m9 0h1m9 0h1m11 0h1m10 0h1m5 0h1m3 0h1m5 0h1m32 0h1m2 0h3m2 0h1m3 0h1m3 0h1m5 0h1m1 0h1m6 0h5m15 0h1m4 0h1m2 0h1m4 0h1m50 0h1m5 0h1m4 0h1M108 137.5h1m99 0h1m82 0h1m3 0h1m5 0h1m3 0h1m1 0h1m1 0h1m8 0h1m2 0h1m6 0h1m7 0h2m8 0h2m8 0h1m13 0h1m50 0h1m2 0h1m23 0h1m1 0h1m1 0h1m11 0h1m2 0h1m3 0h3m7 0h1m1 0h1m12 0h1m3 0h1m7 0h1m3 0h1m2 0h2m41 0h1m18 0h1M214 138.5h1m75 0h1m1 0h1m3 0h1m3 0h2m3 0h1m6 0h2m5 0h1m1 0h1m3 0h2m9 0h2m8 0h1m9 0h1m4 0h1m17 0h1m41 0h5m24 0h1m4 0h1m8 0h1m5 0h1m16 0h1m3 0h1m6 0h2m5 0h1m1 0h1m1 0h1m46 0h1m3 0h1M205 139.5h1m1 0h1m82 0h1m3 0h3m3 0h1m4 0h1m7 0h1m7 0h1m4 0h1m5 0h1m2 0h2m1 0h2m40 0h1m38 0h1m1 0h1m19 0h1m16 0h1m7 0h1m1 0h1m3 0h2m1 0h1m1 0h1m1 0h1m5 0h1m1 0h1m2 0h1m1 0h2m4 0h1m1 0h1m4 0h4m2 0h2m28 0h1m7 0h2m27 0h2M287 140.5h1m2 0h1m11 0h1m5 0h1m5 0h1m1 0h1m5 0h1m4 0h1m11 0h1m16 0h1m3 0h1m1 0h1m27 0h2m19 0h1m2 0h2m3 0h1m29 0h1m5 0h2m14 0h1m1 0h1m2 0h1m5 0h2m1 0h1m2 0h1m1 0h1m1 0h1m8 0h1m5 0h1m5 0h1m32 0h1m17 0h1M291 141.5h1m6 0h1m3 0h1m5 0h3m1 0h1m1 0h1m1 0h1m8 0h3m1 0h1m15 0h1m14 0h1m1 0h1m13 0h1m3 0h3m9 0h1m4 0h1m2 0h1m3 0h1m4 0h1m3 0h1m10 0h1m25 0h2m4 0h1m6 0h1m6 0h1m4 0h1m14 0h1m15 0h1m4 0h1m39 0h1m15 0h1M287 142.5h1m13 0h3m12 0h1m2 0h1m3 0h1m1 0h2m1 0h1m8 0h1m9 0h1m21 0h1m4 0h2m5 0h1m16 0h2m1 0h1m1 0h1m13 0h1m4 0h2m40 0h1m6 0h1m1 0h1m6 0h1m9 0h1m15 0h1m41 0h1m14 0h2m2 0h1M297 143.5h1m4 0h1m4 0h2m9 0h1m1 0h1m8 0h1m1 0h1m6 0h1m18 0h1m5 0h1m14 0h3m3 0h2m6 0h1m3 0h3m2 0h1m1 0h1m1 0h1m10 0h1m6 0h1m3 0h2m28 0h1m13 0h1m1 0h1m9 0h1m21 0h1m2 0h1m2 0h1m32 0h1m3 0h3m13 0h1M290 144.5h1m10 0h1m14 0h1m1 0h1m3 0h1m5 0h1m13 0h1m12 0h1m14 0h1m5 0h1m1 0h1m20 0h1m4 0h2m4 0h2m10 0h1m2 0h1m25 0h1m9 0h1m1 0h1m2 0h1m1 0h1m1 0h1m6 0h1m24 0h1m5 0h1m39 0h1m6 0h1m2 0h1m9 0h1M105 145.5h1m15 0h1m89 0h1m83 0h1m1 0h1m14 0h1m1 0h2m1 0h1m4 0h1m9 0h1m6 0h1m1 0h1m3 0h1m10 0h2m2 0h2m3 0h1m4 0h1m1 0h1m1 0h2m2 0h2m1 0h1m6 0h2m2 0h1m11 0h3m1 0h1m1 0h1m4 0h1m7 0h1m33 0h2m3 0h1m8 0h3m3 0h1m23 0h1m6 0h2m41 0h1m25 0h1M291 146.5h1m3 0h1m13 0h1m1 0h1m7 0h1m9 0h1m11 0h1m2 0h1m4 0h2m3 0h1m4 0h3m7 0h1m12 0h1m4 0h1m3 0h1m6 0h4m4 0h1m9 0h1m8 0h3m30 0h1m2 0h2m4 0h1m1 0h1m2 0h2m4 0h1m11 0h1m11 0h2m1 0h1m2 0h1m26 0h1m5 0h1m4 0h1m3 0h1m26 0h1M292 147.5h1m2 0h1m1 0h2m4 0h1m12 0h2m6 0h1m24 0h1m6 0h1m2 0h1m5 0h1m3 0h1m1 0h2m8 0h2m5 0h1m4 0h2m3 0h1m6 0h1m23 0h1m28 0h1m12 0h1m3 0h4m8 0h1m2 0h1m48 0h2m9 0h1m25 0h1M295 148.5h1m2 0h1m7 0h1m16 0h2m3 0h1m31 0h1m5 0h1m12 0h2m2 0h1m43 0h1m31 0h1m17 0h1m9 0h1m2 0h3m2 0h1m41 0h1m7 0h1m4 0h1m26 0h1M304 149.5h1m18 0h4m31 0h1m7 0h1m2 0h1m1 0h1m11 0h3m11 0h1m10 0h1m10 0h1m7 0h1m21 0h1m8 0h1m2 0h1m14 0h2m8 0h2m4 0h1m3 0h1m3 0h1m37 0h1m8 0h1m1 0h1m1 0h1m11 0h1m3 0h1m6 0h1M359 150.5h1m7 0h2m1 0h1m1 0h1m47 0h1m37 0h2m10 0h1m1 0h1m15 0h1m6 0h1m4 0h1m31 0h1m1 0h2m4 0h1m1 0h1m2 0h1m1 0h1m5 0h1m1 0h1m7 0h1M361 151.5h1m2 0h1m39 0h2m23 0h1m31 0h1m1 0h1m2 0h1m1 0h1m3 0h2m8 0h1m1 0h2m2 0h1m4 0h1m2 0h1m4 0h1m25 0h1m9 0h1m4 0h1m2 0h1m7 0h1m1 0h1m20 0h2M352 152.5h2m3 0h1m2 0h1m1 0h1m18 0h2m54 0h1m14 0h2m3 0h1m7 0h1m2 0h1m11 0h1m3 0h1m8 0h1m40 0h2m11 0h1m3 0h1m3 0h2M355 153.5h1m4 0h1m5 0h1m16 0h2m75 0h1m10 0h2m1 0h1m5 0h1m3 0h3m1 0h3m13 0h1m20 0h1m6 0h1m16 0h1m6 0h1m8 0h1M357 154.5h1m4 0h1m6 0h1m10 0h1m8 0h1m41 0h2m28 0h1m11 0h1m7 0h1m9 0h1m2 0h2m29 0h1m25 0h1m1 0h1m1 0h1m12 0h1M354 155.5h1m3 0h1m11 0h1m10 0h1m6 0h3m16 0h1m24 0h1m10 0h1m3 0h1m15 0h1m10 0h1m4 0h1m2 0h2m41 0h2m22 0h1m14 0h1M354 156.5h1m4 0h1m6 0h1m2 0h1m7 0h1m2 0h2m2 0h1m1 0h1m2 0h2m40 0h1m11 0h2m6 0h1m5 0h1m1 0h3m13 0h1m3 0h1m2 0h1m12 0h1m45 0h1m4 0h1m4 0h2m3 0h1M355 157.5h1m7 0h1m4 0h2m1 0h1m6 0h1m2 0h1m5 0h2m1 0h1m17 0h1m31 0h1m2 0h1m8 0h1m4 0h1m1 0h1m2 0h1m4 0h1m2 0h1m5 0h2m9 0h1m4 0h2m32 0h1m24 0h2M356 158.5h2m7 0h1m5 0h1m8 0h1m4 0h1m2 0h1m42 0h1m7 0h1m1 0h1m14 0h1m1 0h2m6 0h1m5 0h2m2 0h1m12 0h2m3 0h1m31 0h1m3 0h1m9 0h2m11 0h1m4 0h1m2 0h1M355 159.5h1m2 0h1m10 0h1m2 0h1m8 0h1m2 0h1m1 0h1m1 0h1m36 0h1m1 0h1m3 0h1m17 0h1m5 0h1m7 0h1m7 0h1m4 0h1m2 0h1m5 0h1m1 0h1m4 0h1m1 0h1m1 0h1m32 0h2m20 0h2m8 0h1M357 160.5h1m2 0h1m13 0h1m35 0h1m14 0h1m8 0h1m4 0h3m6 0h1m3 0h1m1 0h1m1 0h1m13 0h2m6 0h2m6 0h1m3 0h1m3 0h2m31 0h2m3 0h2m1 0h1m4 0h1m1 0h1m3 0h2m5 0h2M362 161.5h1m1 0h1m9 0h2m2 0h2m7 0h1m3 0h1m40 0h1m4 0h2m1 0h1m2 0h1m4 0h1m1 0h1m2 0h1m8 0h1m1 0h1m1 0h1m4 0h1m14 0h1m35 0h1m1 0h1m8 0h1m10 0h5M359 162.5h1m2 0h1m1 0h1m3 0h2m1 0h1m3 0h2m1 0h1m5 0h1m2 0h2m46 0h2m4 0h1m10 0h1m2 0h4m4 0h2m56 0h1m2 0h1m7 0h1m5 0h1m10 0h1m1 0h1m1 0h1M361 163.5h2m4 0h1m7 0h1m10 0h3m39 0h1m4 0h1m2 0h1m4 0h2m4 0h1m13 0h2m2 0h2m6 0h1m1 0h1m7 0h1m16 0h1m20 0h1m8 0h3m4 0h1m22 0h1m3 0h1m3 0h1M353 164.5h1m7 0h1m4 0h1m1 0h1m2 0h2m8 0h3m1 0h1m5 0h1m1 0h1m32 0h1m4 0h2m2 0h1m5 0h1m1 0h1m7 0h1m19 0h1m11 0h1m1 0h1m36 0h1m4 0h1m22 0h2m3 0h2m11 0h1M353 165.5h1m2 0h1m2 0h1m7 0h1m1 0h3m1 0h1m14 0h1m1 0h2m2 0h1m32 0h1m8 0h1m3 0h1m3 0h1m2 0h1m2 0h1m3 0h1m6 0h1m27 0h1m35 0h3m23 0h2m15 0h1M369 166.5h2m2 0h3m5 0h2m1 0h1m4 0h1m1 0h1m32 0h1m3 0h2m3 0h1m7 0h1m6 0h1m10 0h4m1 0h1m6 0h1m2 0h1m2 0h1m2 0h1m38 0h1m5 0h1m2 0h1m1 0h2M365 167.5h1m4 0h1m4 0h1m9 0h1m3 0h1m1 0h2m42 0h1m24 0h2m1 0h1m4 0h1m4 0h1m2 0h1m1 0h1m4 0h1m3 0h1m33 0h1m1 0h1m1 0h1m3 0h1m13 0h2M357 168.5h1m12 0h1m71 0h1m3 0h1m1 0h1m6 0h2m7 0h3m2 0h2m2 0h3m6 0h1m6 0h1m30 0h1m2 0h1m14 0h1m5 0h1M370 169.5h1m2 0h1m13 0h1m1 0h1m34 0h2m14 0h1m4 0h1m6 0h1m9 0h1m1 0h1m5 0h1m9 0h1m54 0h1m11 0h1M355 170.5h1m15 0h1m1 0h2m1 0h1m8 0h2m39 0h1m12 0h1m8 0h1m3 0h1m3 0h3m3 0h4m1 0h1m6 0h2m59 0h2m19 0h1m5 0h1M375 171.5h1m9 0h1m42 0h1m8 0h1m8 0h1m4 0h2m2 0h1m13 0h1m14 0h1m4 0h1m6 0h1M375 172.5h1m5 0h1m1 0h2m28 0h1m13 0h1m9 0h1m5 0h1m1 0h1m5 0h1m3 0h1m14 0h1m11 0h1m76 0h1m3 0h1M383 173.5h1m41 0h2m2 0h1m1 0h1m14 0h1m3 0h2m10 0h1m3 0h1m2 0h1m5 0h3m6 0h1m8 0h2m56 0h1m7 0h2m1 0h1M367 174.5h1m60 0h1m3 0h1m2 0h1m34 0h1m3 0h2m8 0h1m27 0h1m21 0h2m8 0h1m2 0h1m21 0h1M355 175.5h1m68 0h1m18 0h1m6 0h1m4 0h1m1 0h2m14 0h1m4 0h1m5 0h2m6 0h1m1 0h2m18 0h2m29 0h2m2 0h1m8 0h1m7 0h1m2 0h1M354 176.5h1m12 0h1m2 0h1m20 0h2m46 0h2m3 0h1m10 0h2m4 0h1m14 0h2m3 0h2m13 0h1m5 0h2m1 0h1m7 0h1m2 0h1m1 0h1m5 0h1m19 0h1m14 0h1m1 0h1M354 177.5h1m1 0h1m13 0h1m53 0h1m14 0h1m19 0h2m1 0h1m6 0h1m13 0h2m18 0h1m8 0h1m12 0h1m1 0h1m18 0h1m1 0h2m6 0h2m1 0h1m1 0h1m1 0h2M355 178.5h1m2 0h1m5 0h1m1 0h1m83 0h1m1 0h1m1 0h1m2 0h1m2 0h1m4 0h1m3 0h1m7 0h1m4 0h1m12 0h1m1 0h1m26 0h1m22 0h2m12 0h1m4 0h1M355 179.5h1m2 0h1m8 0h1m2 0h1m81 0h1m2 0h3m8 0h5m1 0h1m3 0h2m6 0h1m5 0h1m3 0h1m3 0h1m6 0h1m22 0h1m14 0h2m1 0h1m9 0h1m5 0h1M354 180.5h1m2 0h1m13 0h1m49 0h1m13 0h1m25 0h1m32 0h1m3 0h1m19 0h3m4 0h1m4 0h1m7 0h2m3 0h2m1 0h1m10 0h1m8 0h1m1 0h1M356 181.5h2m92 0h1m8 0h1m12 0h1m16 0h1m1 0h1m4 0h1m1 0h1m26 0h1m11 0h1m6 0h1m1 0h1m6 0h1m2 0h1m6 0h1m1 0h1m2 0h1M367 182.5h1m2 0h1m49 0h1m33 0h1m3 0h1m1 0h1m1 0h2m2 0h1m5 0h1m25 0h1m12 0h1m2 0h2m2 0h1m2 0h1m2 0h1m30 0h1m1 0h3m3 0h1m2 0h1m1 0h1m1 0h2M357 183.5h1m9 0h1m50 0h1m35 0h1m3 0h1m3 0h2m16 0h1m1 0h1m19 0h1m10 0h2m12 0h1m3 0h2m1 0h1m19 0h3m9 0h1m3 0h1M359 184.5h1m6 0h2m87 0h1m7 0h4m5 0h2m4 0h1m2 0h1m20 0h2m11 0h1m12 0h1m4 0h1m10 0h2m24 0h1M414 185.5h1m5 0h1m8 0h1m4 0h1m17 0h1m1 0h2m8 0h2m7 0h1m2 0h1m3 0h1m2 0h1m16 0h1m12 0h1m4 0h1m14 0h1m9 0h1m11 0h1m6 0h2M366 186.5h1m3 0h1m60 0h1m2 0h1m22 0h1m3 0h1m1 0h1m10 0h1m1 0h1m2 0h3m9 0h1m10 0h1m10 0h1m4 0h2m9 0h1m12 0h2m1 0h1m3 0h1M360 187.5h1m1 0h1m8 0h1m7 0h1m1 0h1m13 0h1m15 0h1m3 0h1m9 0h1m4 0h1m1 0h2m12 0h1m36 0h1m7 0h1m1 0h1m7 0h1m15 0h1m23 0h1m1 0h1m3 0h1m1 0h2m8 0h1M365 188.5h1m1 0h1m1 0h1m8 0h3m30 0h1m14 0h1m2 0h1m1 0h1m3 0h2m6 0h2m2 0h1m4 0h2m3 0h1m5 0h1m26 0h1m2 0h1m49 0h2m7 0h1m1 0h1m3 0h2m2 0h2M365 189.5h1m3 0h1m7 0h2m1 0h1m37 0h1m2 0h1m3 0h2m2 0h3m3 0h1m3 0h1m2 0h1m11 0h1m1 0h1m16 0h1m16 0h1m12 0h1m13 0h1m2 0h2m3 0h1m3 0h1m18 0h1m2 0h1m7 0h1m3 0h1M362 190.5h1m19 0h1m37 0h2m1 0h1m14 0h2m7 0h1m1 0h1m1 0h1m1 0h1m19 0h1m1 0h1m44 0h1m3 0h1m5 0h1m3 0h1m5 0h1m2 0h2m8 0h2m8 0h2M369 191.5h1m2 0h1m38 0h1m4 0h1m6 0h1m11 0h2m1 0h1m3 0h1m6 0h1m4 0h1m2 0h1m15 0h1m42 0h1m6 0h1m7 0h3m11 0h2m6 0h1m2 0h1m4 0h2M357 192.5h1m4 0h1m6 0h1m3 0h1m4 0h2m23 0h1m18 0h1m20 0h1m5 0h1m1 0h2m4 0h1m9 0h1m5 0h1m3 0h1m39 0h1m1 0h1m10 0h3m3 0h2m1 0h1m6 0h1m14 0h1M357 193.5h1m16 0h1m4 0h1m41 0h1m14 0h1m2 0h1m11 0h1m5 0h1m58 0h1m2 0h1m13 0h2m6 0h1m4 0h1m14 0h2M375 194.5h1m24 0h1m19 0h3m1 0h1m24 0h2m5 0h1m2 0h1m12 0h1m10 0h1m19 0h1m12 0h2m21 0h1m4 0h1m1 0h1m3 0h1m5 0h1M355 195.5h1m32 0h1m13 0h1m4 0h2m15 0h1m4 0h1m3 0h1m37 0h2m10 0h1m31 0h3m1 0h1m9 0h2m4 0h1m2 0h2m3 0h1m2 0h1m1 0h2m9 0h1m1 0h1M365 196.5h2m25 0h1m6 0h1m3 0h1m1 0h1m2 0h1m4 0h1m3 0h1m5 0h2m4 0h1m7 0h1m13 0h1m1 0h1m26 0h1m35 0h1m1 0h1m10 0h2m6 0h1m2 0h1m2 0h1m3 0h1m8 0h2M367 197.5h1m23 0h2m6 0h1m4 0h1m8 0h1m17 0h1m47 0h1m1 0h1m46 0h1m11 0h1m4 0h1m2 0h2M356 198.5h1m21 0h1m24 0h1m7 0h1m3 0h2m1 0h2m8 0h2m20 0h1m6 0h2m12 0h1m7 0h1m7 0h1m27 0h1m2 0h1m5 0h2m3 0h1m2 0h2m8 0h1m1 0h1m2 0h1m4 0h1m1 0h1M414 199.5h1m2 0h1m2 0h1m1 0h1m5 0h2m5 0h1m14 0h1m5 0h1m12 0h1m2 0h1m7 0h1m40 0h2m2 0h1m4 0h1m2 0h1m6 0h1m1 0h1m1 0h1m4 0h1M373 200.5h1m12 0h1m25 0h1m18 0h1m6 0h1m13 0h2m1 0h1m8 0h1m1 0h1m2 0h2m10 0h1m35 0h1m1 0h2m12 0h1m2 0h1M365 201.5h1m47 0h1m15 0h1m1 0h1m2 0h1m16 0h1m3 0h2m1 0h1m4 0h2m2 0h1m50 0h1m12 0h2m1 0h1m10 0h1M364 202.5h1m46 0h1m4 0h1m33 0h1m1 0h1m3 0h1m3 0h2m1 0h1m6 0h1m8 0h1m40 0h1m6 0h1m13 0h1M368 203.5h2m43 0h1m3 0h1m4 0h1m1 0h1m35 0h1m10 0h2m4 0h2m19 0h1m20 0h1m13 0h1m6 0h1m7 0h1M367 204.5h1m1 0h1m14 0h1m32 0h1m9 0h1m36 0h1m7 0h1m1 0h1m22 0h1m24 0h1m5 0h1m3 0h1m5 0h2M367 205.5h1m14 0h1m34 0h1m6 0h1m5 0h1m3 0h1m15 0h1m2 0h1m1 0h1m7 0h2m47 0h1m15 0h1m4 0h1m3 0h2m2 0h1m1 0h3M411 206.5h1m6 0h1m3 0h1m2 0h2m4 0h1m19 0h1m13 0h2m3 0h1m61 0h1m6 0h1M387 207.5h1m27 0h3m4 0h1m2 0h1m3 0h1m1 0h1m34 0h1m9 0h1M411 208.5h1m12 0h1m6 0h1m87 0h1m3 0h1m5 0h1m2 0h5m2 0h1M410 209.5h2m11 0h1m8 0h1m69 0h1m26 0h1m1 0h1M412 210.5h1m17 0h2m69 0h2m26 0h1M353 211.5h1m42 0h1m15 0h1m17 0h1m1 0h1m1 0h1m65 0h2m23 0h1m3 0h1m3 0h1M411 212.5h1m8 0h2m1 0h1m2 0h1m73 0h1m15 0h1m1 0h1m10 0h1M366 213.5h1m55 0h1m1 0h1m1 0h1m5 0h1m74 0h1M415 214.5h1m7 0h1m85 0h1M413 215.5h1m2 0h2m3 0h1m84 0h3M415 216.5h1m2 0h1m1 0h1m13 0h1m64 0h1M417 217.5h1m5 0h1m14 0h1m60 0h1m16 0h1M411 218.5h2m4 0h3m77 0h1m3 0h2m15 0h1m1 0h1m3 0h1M420 219.5h1m13 0h1m2 0h1m27 0h1m29 0h1m13 0h1m2 0h1m7 0h1m2 0h1M437 220.5h1m52 0h2m5 0h2m12 0h2m2 0h1m4 0h1M361 221.5h1m38 0h1m11 0h2m4 0h3m14 0h2m61 0h1m1 0h1m8 0h1m1 0h2m9 0h1M414 222.5h1m5 0h2m63 0h1m5 0h1m3 0h1m1 0h2m7 0h3m4 0h1M365 223.5h1m16 0h1m26 0h1m4 0h2m3 0h1m4 0h1m9 0h1m73 0h2m4 0h1M358 224.5h1m34 0h1m3 0h1m13 0h2m9 0h1m66 0h1m3 0h1m7 0h1m3 0h2m3 0h3m1 0h1M355 225.5h1m11 0h2m42 0h2m5 0h1m1 0h1m4 0h1m8 0h1m1 0h1m52 0h2m2 0h1m9 0h1m1 0h1m7 0h1m2 0h2M380 226.5h1m29 0h2m4 0h1m17 0h1m54 0h4m14 0h1M355 227.5h2m1 0h1m51 0h3m22 0h1m2 0h1m31 0h1m3 0h1m26 0h1M360 228.5h2m55 0h1m6 0h1m1 0h1m11 0h1m2 0h1m2 0h2m46 0h1m6 0h1m4 0h1m11 0h1M355 229.5h1m44 0h1m23 0h1m12 0h1m20 0h2m10 0h2m43 0h1m2 0h1M365 230.5h1m31 0h1m8 0h1m9 0h1m3 0h2m1 0h1m40 0h1m17 0h1m16 0h2m12 0h1M358 231.5h1m7 0h1m31 0h1m7 0h1m5 0h1m1 0h1m1 0h1m1 0h1m18 0h1m44 0h1m5 0h2m23 0h2M358 232.5h1m48 0h1m6 0h2m4 0h1m7 0h1m35 0h1m49 0h1M356 233.5h1m1 0h1m6 0h1m50 0h1m11 0h1m2 0h1m49 0h1m10 0h1m10 0h1m9 0h1M354 234.5h1m1 0h1m10 0h1m59 0h1m2 0h1m33 0h1m25 0h1m20 0h1m2 0h1M356 235.5h1m1 0h2m1 0h2m69 0h1m35 0h1m14 0h1m2 0h1m3 0h2m15 0h1M359 236.5h1m103 0h2m19 0h1m4 0h3m9 0h1m7 0h1m3 0h2m1 0h1M358 237.5h1m3 0h1m128 0h1m13 0h1m6 0h4M356 238.5h2m2 0h2m118 0h2m5 0h1m4 0h1m18 0h2M356 239.5h1m1 0h2m4 0h1m126 0h1m7 0h1m9 0h1m2 0h3M356 240.5h1m1 0h1m6 0h1m128 0h1m4 0h1m2 0h1M364 241.5h1m118 0h2m12 0h1M361 242.5h2m5 0h1m82 0h1m41 0h1m2 0h1m1 0h1M355 243.5h1m4 0h1m131 0h1M360 244.5h1M487 245.5h1m6 0h1M352 246.5h1M365 247.5h1m96 0h1M363 248.5h1M363 249.5h1m1 0h1m7 0h1m122 0h1M368 250.5h1M506 251.5h1M367 252.5h1m1 0h1M362 254.5h1m6 0h1m133 0h2M360 255.5h2m8 0h1M356 256.5h1m4 0h1m2 0h1M355 257.5h2m6 0h1m5 0h1m2 0h2m1 0h1m128 0h1M355 258.5h1m5 0h2m7 0h1m2 0h1m2 0h1m119 0h1m10 0h1M359 259.5h1m3 0h1m3 0h2m4 0h1m128 0h1M359 260.5h1m5 0h1m3 0h2M364 261.5h2m4 0h1m3 0h1M365 262.5h1m6 0h1M365 263.5h1m2 0h1m1 0h1M357 264.5h1m3 0h1m1 0h1m2 0h1m6 0h1M354 265.5h2m3 0h1m7 0h1m2 0h1M360 267.5h1m4 0h1M362 268.5h1m2 0h1M357 269.5h1M358 270.5h1m1 0h2m7 0h1M366 271.5h1M361 275.5h1"/><path stroke-opacity="1.00" d="M189 19.5h2m132 0h1m13 0h1m8 0h3m1 0h4m3 0h5m5 0h1m2 0h2M202 20.5h1m81 0h1m18 0h2m6 0h1m11 0h1m2 0h1m5 0h3m8 0h1m2 0h18m2 0h3M285 21.5h1m16 0h3m7 0h2m9 0h2m1 0h1m1 0h2m2 0h2m5 0h1m2 0h2m1 0h4m1 0h6m1 0h5m1 0h1m3 0h2m7 0h1M285 22.5h2m14 0h4m5 0h1m1 0h3m1 0h3m5 0h12m4 0h16m1 0h3m1 0h1m1 0h7m6 0h3M300 23.5h7m9 0h1m1 0h1m5 0h13m4 0h14m1 0h13m3 0h2m2 0h3M299 24.5h1m2 0h5m13 0h1m3 0h2m2 0h7m3 0h1m2 0h6m1 0h21m8 0h3M302 25.5h4m4 0h1m9 0h1m6 0h1m2 0h7m1 0h16m2 0h2m2 0h2m1 0h6m8 0h1m1 0h1M304 26.5h3m4 0h2m6 0h1m8 0h1m1 0h7m1 0h1m2 0h18m2 0h2m1 0h5m8 0h1M300 27.5h1m4 0h2m3 0h4m2 0h1m2 0h1m7 0h2m1 0h6m4 0h16m5 0h1m2 0h7M310 28.5h3m1 0h1m1 0h2m2 0h2m5 0h1m3 0h26m1 0h2m4 0h8M309 29.5h3m3 0h1m1 0h1m4 0h1m3 0h3m2 0h2m1 0h2m2 0h17m3 0h3m4 0h5m1 0h1m9 0h1M301 30.5h1m1 0h1m5 0h2m10 0h3m1 0h5m2 0h4m2 0h23m4 0h5m3 0h1M301 31.5h1m1 0h2m14 0h1m1 0h3m2 0h4m3 0h1m5 0h22m4 0h7M303 32.5h1m17 0h1m1 0h7m2 0h2m4 0h2m2 0h18m5 0h7m2 0h2m5 0h1M325 33.5h4m1 0h5m1 0h2m1 0h1m2 0h14m2 0h3m2 0h8m3 0h2m5 0h1M307 34.5h1m10 0h3m1 0h1m3 0h2m4 0h5m2 0h1m2 0h18m1 0h13m1 0h1m2 0h1m1 0h1m5 0h1M307 35.5h2m6 0h2m4 0h1m2 0h5m3 0h3m1 0h2m1 0h26m2 0h8m3 0h4m1 0h1M307 36.5h2m5 0h4m3 0h3m2 0h11m3 0h23m1 0h1m1 0h4m2 0h2m4 0h3M307 37.5h4m4 0h3m3 0h4m1 0h10m3 0h24m2 0h9m7 0h1m4 0h1M296 38.5h1m6 0h1m1 0h14m2 0h3m2 0h8m5 0h18m1 0h5m1 0h6m2 0h1m13 0h1M149 39.5h1m154 0h2m4 0h7m4 0h13m1 0h21m1 0h13m2 0h4m12 0h1M304 40.5h1m6 0h2m1 0h2m1 0h2m3 0h1m2 0h3m5 0h24m1 0h18m1 0h1m8 0h2M139 41.5h1m162 0h1m1 0h4m3 0h2m1 0h1m2 0h1m12 0h1m3 0h5m1 0h17m1 0h4m3 0h15m7 0h4M140 42.5h1m161 0h1m3 0h2m1 0h2m1 0h2m6 0h2m7 0h2m2 0h1m1 0h3m3 0h15m1 0h3m2 0h1m4 0h9m1 0h5m2 0h1m1 0h3m5 0h1M130 43.5h1m171 0h2m4 0h2m20 0h2m4 0h4m2 0h14m3 0h4m5 0h8m1 0h4m3 0h1m1 0h2m4 0h3M302 44.5h1m1 0h1m4 0h1m3 0h2m2 0h1m6 0h12m2 0h15m1 0h6m1 0h2m4 0h14m1 0h3m2 0h2M131 45.5h2m169 0h1m1 0h3m2 0h2m1 0h1m1 0h4m6 0h3m1 0h6m1 0h1m2 0h24m2 0h24m4 0h2M306 46.5h1m4 0h5m2 0h1m3 0h1m2 0h1m3 0h1m5 0h27m2 0h22m7 0h1m2 0h1M301 47.5h2m2 0h2m4 0h2m5 0h3m1 0h4m12 0h26m1 0h20m7 0h1m1 0h4M143 48.5h1m135 0h1m19 0h1m3 0h3m9 0h1m1 0h1m1 0h2m2 0h5m9 0h3m1 0h23m3 0h3m2 0h14m1 0h2m3 0h2M127 49.5h1m151 0h1m23 0h3m11 0h1m1 0h2m2 0h5m12 0h25m2 0h15m1 0h3m1 0h2m3 0h2M140 50.5h3m137 0h1m23 0h2m1 0h2m1 0h1m2 0h1m1 0h1m3 0h4m2 0h5m6 0h1m1 0h25m1 0h5m1 0h2m1 0h13m9 0h1M134 51.5h1m3 0h1m1 0h2m164 0h5m2 0h3m5 0h1m3 0h8m3 0h1m4 0h23m1 0h1m1 0h1m1 0h17m5 0h1M131 52.5h1m8 0h1m1 0h1m170 0h2m11 0h1m5 0h2m5 0h1m3 0h21m1 0h27m13 0h2M131 53.5h4m1 0h1m5 0h1m1 0h3m121 0h1m30 0h1m9 0h1m1 0h2m7 0h1m7 0h1m1 0h1m1 0h1m7 0h1m2 0h13m2 0h4m1 0h3m1 0h25m25 0h3M129 54.5h3m9 0h3m159 0h1m11 0h2m11 0h2m2 0h3m5 0h6m1 0h9m1 0h9m1 0h17m1 0h6m19 0h1m7 0h2m3 0h1m2 0h2M143 55.5h1m168 0h1m15 0h2m2 0h1m7 0h1m2 0h20m1 0h28m1 0h2m7 0h1m21 0h1m1 0h3M136 56.5h1m7 0h1m175 0h1m16 0h4m1 0h10m2 0h5m1 0h3m1 0h19m1 0h10m1 0h2m9 0h3m1 0h1m13 0h1m3 0h1M134 57.5h3m7 0h1m172 0h1m10 0h1m1 0h1m2 0h1m9 0h9m2 0h5m5 0h1m1 0h27m1 0h5m6 0h2m3 0h1m12 0h2m2 0h1m1 0h2m10 0h1M134 58.5h2m107 0h1m84 0h3m11 0h13m1 0h4m3 0h1m1 0h3m2 0h29m7 0h1m17 0h1m2 0h5m7 0h2M134 59.5h1m108 0h1m72 0h2m10 0h3m1 0h1m8 0h11m1 0h6m3 0h6m2 0h29m20 0h1m6 0h3m1 0h2m3 0h2m1 0h3m5 0h1M323 60.5h1m5 0h4m3 0h1m4 0h52m1 0h5m8 0h4m11 0h1m1 0h8m3 0h2m2 0h3M323 61.5h3m4 0h4m4 0h2m1 0h7m1 0h15m2 0h3m1 0h37m1 0h2m8 0h3m1 0h21M242 62.5h1m81 0h2m3 0h5m5 0h2m3 0h4m1 0h3m1 0h11m2 0h34m1 0h2m4 0h3m9 0h1m5 0h9m2 0h1m2 0h1m1 0h1m2 0h1M324 63.5h2m2 0h3m1 0h2m5 0h1m4 0h20m2 0h28m3 0h1m2 0h2m4 0h4m1 0h2m5 0h2m3 0h9M197 64.5h1m126 0h3m5 0h2m5 0h1m2 0h11m1 0h1m1 0h38m4 0h1m2 0h4m2 0h6m4 0h4m1 0h10m61 0h1M330 65.5h1m2 0h2m4 0h2m1 0h7m1 0h3m2 0h5m2 0h32m8 0h2m3 0h8m1 0h7m1 0h10m2 0h3m3 0h1m16 0h1m31 0h1m1 0h2M311 66.5h1m18 0h1m9 0h8m3 0h2m2 0h5m1 0h4m3 0h17m1 0h7m10 0h1m4 0h5m1 0h9m2 0h1m1 0h2m2 0h3m2 0h2m8 0h1m8 0h1m1 0h1m31 0h3m1 0h2M342 67.5h7m1 0h3m2 0h9m4 0h25m11 0h1m1 0h6m2 0h10m3 0h2m4 0h5m18 0h2m1 0h1m35 0h1M330 68.5h1m2 0h3m2 0h17m2 0h1m1 0h5m3 0h25m11 0h19m1 0h1m2 0h3m1 0h1m1 0h4m1 0h5m13 0h3m37 0h1M325 69.5h2m1 0h1m1 0h3m6 0h17m1 0h1m1 0h6m1 0h26m10 0h17m1 0h2m6 0h2m2 0h8m1 0h1m3 0h4m5 0h4m37 0h2m138 0h2M242 70.5h1m1 0h1m78 0h1m1 0h4m1 0h5m5 0h2m3 0h13m2 0h5m3 0h26m8 0h4m1 0h1m1 0h10m2 0h1m3 0h1m3 0h2m1 0h6m1 0h1m2 0h7m1 0h2m2 0h1m32 0h1m115 0h1m31 0h1M242 71.5h1m81 0h13m3 0h2m5 0h7m2 0h7m4 0h27m8 0h4m4 0h4m1 0h4m5 0h1m5 0h7m3 0h4m2 0h3m5 0h1m18 0h1m108 0h1m3 0h1m3 0h1M244 72.5h1m79 0h9m1 0h4m2 0h4m2 0h8m1 0h9m4 0h19m1 0h8m1 0h2m4 0h3m2 0h10m12 0h1m1 0h6m1 0h5m1 0h5m3 0h1m28 0h1m5 0h1m2 0h1m93 0h1m1 0h1m13 0h1M244 73.5h1m79 0h9m4 0h29m2 0h9m1 0h7m2 0h9m5 0h5m2 0h10m1 0h1m14 0h10m1 0h1m1 0h3m2 0h1m22 0h2m3 0h3m1 0h5m109 0h1m1 0h2m1 0h1M322 74.5h2m1 0h6m4 0h1m3 0h38m2 0h6m2 0h9m1 0h3m1 0h8m1 0h9m3 0h1m11 0h10m1 0h1m2 0h5m22 0h1m3 0h7m90 0h1m20 0h3M324 75.5h13m6 0h23m1 0h30m1 0h1m1 0h7m5 0h8m14 0h1m1 0h11m1 0h4m23 0h1m5 0h5m111 0h3M324 76.5h17m2 0h21m1 0h5m1 0h31m1 0h5m4 0h1m2 0h4m15 0h2m1 0h4m2 0h2m1 0h1m1 0h1m24 0h3m4 0h7M298 77.5h1m26 0h1m1 0h1m1 0h13m1 0h24m2 0h1m1 0h1m2 0h24m1 0h2m2 0h6m3 0h6m7 0h1m7 0h2m4 0h2m3 0h1m1 0h5m19 0h6m3 0h8m1 0h1m5 0h1m79 0h2m20 0h2m3 0h1M298 78.5h1m21 0h1m7 0h11m3 0h25m1 0h4m1 0h14m4 0h7m2 0h2m1 0h2m1 0h3m4 0h2m2 0h3m2 0h6m6 0h1m5 0h9m3 0h1m20 0h3m2 0h9m2 0h2m2 0h1m102 0h2m4 0h1M107 79.5h1m53 0h1m163 0h1m2 0h39m2 0h3m1 0h4m2 0h11m1 0h7m1 0h4m1 0h1m1 0h2m2 0h1m2 0h12m1 0h6m2 0h1m6 0h10m1 0h1m20 0h18m112 0h1M303 80.5h1m20 0h43m2 0h1m1 0h2m3 0h1m1 0h25m1 0h5m3 0h23m5 0h7m1 0h6m19 0h12m1 0h2m1 0h3M304 81.5h1m6 0h1m8 0h17m2 0h1m1 0h24m2 0h3m1 0h2m2 0h28m1 0h6m2 0h20m2 0h1m5 0h14m18 0h14m2 0h2m105 0h1M310 82.5h1m12 0h42m3 0h1m4 0h25m1 0h3m2 0h22m4 0h2m1 0h2m3 0h1m2 0h12m19 0h1m1 0h9m2 0h1m2 0h2m9 0h2m71 0h1m29 0h1M323 83.5h17m1 0h28m1 0h1m1 0h2m1 0h22m2 0h3m1 0h4m1 0h11m2 0h6m2 0h1m1 0h3m2 0h4m3 0h4m1 0h4m20 0h14m1 0h4m8 0h2m122 0h1M324 84.5h1m2 0h43m2 0h9m1 0h3m1 0h12m1 0h17m3 0h16m1 0h4m3 0h1m2 0h1m1 0h2m22 0h2m2 0h1m2 0h5m4 0h3m8 0h1m1 0h1m65 0h1m3 0h1m4 0h1M208 85.5h1m115 0h1m1 0h44m2 0h2m1 0h4m1 0h1m3 0h7m3 0h4m1 0h1m1 0h6m1 0h9m2 0h16m1 0h4m8 0h5m18 0h3m1 0h8m1 0h1m3 0h7m4 0h2m65 0h2m8 0h1M323 86.5h12m1 0h26m3 0h4m1 0h2m1 0h6m5 0h21m1 0h3m1 0h1m2 0h1m1 0h2m2 0h21m8 0h4m19 0h12m5 0h2m1 0h1m1 0h4m2 0h5m61 0h3m9 0h1M165 87.5h1m3 0h2m121 0h2m4 0h1m24 0h1m1 0h33m1 0h4m3 0h3m1 0h1m2 0h5m1 0h20m1 0h11m1 0h29m7 0h3m20 0h10m11 0h7m1 0h4m60 0h1m1 0h1M170 88.5h1m127 0h1m1 0h1m23 0h2m1 0h2m1 0h6m1 0h24m1 0h3m1 0h20m1 0h4m2 0h7m1 0h39m2 0h7m1 0h1m22 0h7m7 0h1m1 0h1m1 0h10m1 0h3m59 0h1m10 0h1m13 0h1M170 89.5h1m78 0h1m49 0h1m24 0h2m4 0h12m1 0h22m1 0h26m1 0h36m2 0h9m2 0h2m1 0h3m3 0h1m19 0h1m2 0h9m3 0h19m38 0h1m1 0h1m14 0h1m2 0h1m10 0h2m13 0h1M177 90.5h1m145 0h4m4 0h1m2 0h6m1 0h1m1 0h2m1 0h86m1 0h10m3 0h1m3 0h1m22 0h2m1 0h2m2 0h1m3 0h7m2 0h12m37 0h4m6 0h1m3 0h3m1 0h4m10 0h2m23 0h1M181 91.5h1m15 0h1m4 0h1m2 0h1m109 0h1m7 0h1m1 0h2m2 0h2m6 0h3m1 0h1m5 0h30m1 0h66m1 0h1m2 0h2m22 0h3m1 0h14m1 0h1m1 0h4m1 0h6m36 0h6m1 0h1m4 0h1m2 0h9m3 0h1m4 0h5M181 92.5h1m19 0h4m113 0h1m3 0h2m3 0h1m6 0h1m5 0h3m3 0h31m1 0h68m1 0h2m1 0h2m17 0h6m1 0h14m4 0h9m37 0h6m1 0h1m2 0h1m4 0h9m4 0h2m3 0h1m1 0h2m9 0h1M181 93.5h1m16 0h1m1 0h4m3 0h1m88 0h1m5 0h1m3 0h2m5 0h4m1 0h1m3 0h2m11 0h1m9 0h100m1 0h1m1 0h3m19 0h15m2 0h3m4 0h9m36 0h3m1 0h1m1 0h6m3 0h11m4 0h1m3 0h4M179 94.5h1m1 0h1m18 0h4m86 0h1m1 0h1m5 0h4m4 0h4m5 0h4m25 0h33m1 0h19m1 0h49m1 0h4m18 0h20m1 0h1m1 0h9m40 0h5m1 0h1m3 0h1m1 0h8m1 0h2m10 0h2m4 0h1m16 0h1M195 95.5h2m5 0h2m2 0h2m91 0h2m3 0h1m3 0h2m2 0h5m4 0h1m5 0h1m4 0h1m8 0h1m2 0h63m2 0h14m1 0h2m1 0h9m1 0h10m2 0h3m18 0h1m1 0h10m1 0h3m1 0h3m1 0h9m1 0h1m37 0h1m2 0h10m2 0h8m1 0h2m1 0h1m2 0h1m5 0h3M183 96.5h1m3 0h2m12 0h3m3 0h1m85 0h3m12 0h1m4 0h4m2 0h1m1 0h2m7 0h1m1 0h2m5 0h1m1 0h1m2 0h78m2 0h2m1 0h2m1 0h15m1 0h1m2 0h2m16 0h1m3 0h5m2 0h3m1 0h17m40 0h6m2 0h1m2 0h3m1 0h7m2 0h2m2 0h2m5 0h3M183 97.5h2m2 0h1m1 0h2m2 0h1m4 0h2m1 0h1m90 0h2m16 0h1m1 0h4m6 0h1m2 0h1m5 0h2m3 0h1m2 0h1m1 0h1m2 0h85m1 0h17m2 0h3m15 0h1m1 0h1m2 0h4m1 0h13m2 0h8m39 0h1m1 0h7m5 0h6m1 0h1m1 0h2m12 0h2m17 0h1M191 98.5h3m7 0h1m90 0h1m11 0h1m5 0h1m3 0h5m3 0h1m2 0h2m3 0h3m8 0h2m2 0h55m1 0h46m2 0h4m16 0h20m3 0h4m1 0h3m39 0h9m3 0h1m1 0h13m8 0h3M190 99.5h4m6 0h3m86 0h1m5 0h1m12 0h1m1 0h3m3 0h3m4 0h4m4 0h1m2 0h2m2 0h1m2 0h20m2 0h45m2 0h33m1 0h3m4 0h2m16 0h20m3 0h5m1 0h2m39 0h9m1 0h3m5 0h7m1 0h2m6 0h1m1 0h3m17 0h1M200 100.5h2m89 0h1m1 0h4m11 0h1m3 0h1m6 0h1m3 0h2m6 0h5m3 0h89m1 0h19m3 0h2m13 0h1m1 0h11m1 0h10m2 0h2m45 0h13m3 0h9m1 0h3m8 0h2M200 101.5h1m94 0h3m21 0h1m3 0h2m6 0h5m1 0h1m2 0h15m1 0h25m1 0h45m1 0h20m3 0h2m13 0h20m1 0h7m1 0h1m43 0h3m1 0h10m3 0h4m1 0h1m5 0h1m1 0h2m21 0h1M198 102.5h1m134 0h1m2 0h2m2 0h1m1 0h1m2 0h6m1 0h76m1 0h19m1 0h2m1 0h1m12 0h21m2 0h11m39 0h3m3 0h2m3 0h6m2 0h4m6 0h2m2 0h1M336 103.5h2m2 0h2m7 0h1m3 0h13m1 0h41m1 0h12m1 0h25m3 0h1m14 0h31m1 0h2m37 0h3m2 0h4m3 0h5m1 0h7m34 0h1M318 104.5h1m17 0h2m2 0h1m7 0h79m3 0h9m1 0h7m17 0h28m1 0h3m1 0h1m49 0h5m2 0h7m1 0h1M336 105.5h1m1 0h3m1 0h1m1 0h1m2 0h12m1 0h42m1 0h18m1 0h5m3 0h16m7 0h1m9 0h25m1 0h8m36 0h1m12 0h1m1 0h2m2 0h1m2 0h4m18 0h2M301 106.5h1m6 0h2m33 0h16m1 0h16m1 0h69m17 0h5m1 0h7m1 0h20m33 0h1m16 0h1m3 0h1m2 0h5m17 0h5m3 0h3M299 107.5h3m4 0h4m22 0h1m3 0h2m5 0h1m3 0h7m2 0h54m1 0h9m1 0h26m1 0h1m13 0h17m1 0h10m1 0h5m24 0h2m1 0h1m17 0h2m8 0h2m1 0h1m20 0h2m3 0h1m24 0h2M295 108.5h1m1 0h1m1 0h4m2 0h2m14 0h1m5 0h1m3 0h1m2 0h6m2 0h2m4 0h16m1 0h46m1 0h35m1 0h1m12 0h4m1 0h30m24 0h1m1 0h2m27 0h3m21 0h3m6 0h1m17 0h1m3 0h1M292 109.5h3m1 0h7m2 0h1m15 0h1m12 0h1m1 0h3m5 0h1m2 0h89m1 0h12m5 0h18m1 0h2m1 0h4m2 0h16m18 0h1m1 0h1m11 0h1m15 0h1m6 0h1m19 0h5m6 0h1m22 0h1M296 110.5h7m1 0h1m18 0h4m3 0h8m6 0h5m1 0h96m1 0h2m3 0h3m1 0h24m2 0h18m13 0h3m28 0h4m12 0h1m9 0h1m2 0h2m2 0h1m2 0h2m1 0h1m7 0h1m14 0h3M298 111.5h4m4 0h1m15 0h5m3 0h8m6 0h91m1 0h13m2 0h52m5 0h8m2 0h1m2 0h1m19 0h1m1 0h4m1 0h1m10 0h1m11 0h3m7 0h1M299 112.5h3m2 0h3m16 0h2m4 0h12m1 0h2m1 0h1m1 0h8m1 0h136m1 0h16m1 0h5m3 0h3m8 0h1m11 0h6m25 0h1m17 0h1M291 113.5h1m7 0h9m9 0h3m4 0h1m3 0h3m4 0h10m1 0h1m1 0h134m2 0h25m1 0h2m1 0h1m5 0h3m32 0h1m3 0h1m8 0h1m2 0h2m4 0h2m13 0h3m1 0h1M299 114.5h5m3 0h1m8 0h3m1 0h3m1 0h2m1 0h4m1 0h4m3 0h2m1 0h20m1 0h8m1 0h115m1 0h23m4 0h2m3 0h2m31 0h3m6 0h1m7 0h3m17 0h3M295 115.5h8m4 0h1m6 0h1m1 0h3m4 0h1m1 0h7m2 0h1m1 0h1m3 0h33m1 0h46m1 0h91m2 0h1m3 0h3m31 0h2m1 0h1m6 0h2m13 0h1m13 0h1m1 0h1M213 116.5h1m80 0h1m1 0h7m4 0h2m5 0h4m1 0h2m2 0h3m1 0h5m2 0h1m4 0h3m1 0h1m1 0h44m1 0h27m2 0h36m1 0h14m1 0h1m1 0h8m2 0h27m1 0h1m2 0h1m25 0h1m14 0h1m7 0h1m1 0h1m9 0h4m13 0h1M214 117.5h2m79 0h3m3 0h2m3 0h1m8 0h3m1 0h2m2 0h1m1 0h1m2 0h7m3 0h1m1 0h76m3 0h51m1 0h1m1 0h8m3 0h30m4 0h2m3 0h1m2 0h2m12 0h2m15 0h1m6 0h3m7 0h3M213 118.5h1m81 0h1m1 0h1m1 0h3m4 0h2m9 0h5m3 0h33m1 0h57m5 0h61m2 0h1m2 0h1m1 0h9m1 0h14m4 0h1m4 0h1m3 0h4m9 0h1m16 0h1m14 0h5m3 0h1m4 0h1M289 119.5h2m4 0h2m3 0h1m2 0h1m2 0h1m6 0h3m1 0h5m3 0h3m1 0h11m1 0h3m1 0h12m1 0h58m5 0h64m1 0h2m1 0h9m1 0h15m2 0h4m18 0h2m2 0h1m26 0h1m2 0h5m3 0h1M289 120.5h2m8 0h2m5 0h1m3 0h2m3 0h9m1 0h3m1 0h12m1 0h15m1 0h15m1 0h15m2 0h1m2 0h16m1 0h6m5 0h54m2 0h9m1 0h10m1 0h15m2 0h2m23 0h2m1 0h2m20 0h4m2 0h5m15 0h2M232 121.5h1m57 0h1m4 0h2m2 0h2m5 0h2m1 0h3m3 0h12m1 0h45m1 0h12m4 0h1m2 0h1m2 0h7m1 0h4m3 0h2m2 0h1m3 0h53m1 0h3m2 0h42m22 0h1m13 0h1m5 0h1m3 0h2m1 0h4m1 0h6m4 0h1M296 122.5h1m3 0h1m1 0h5m8 0h11m2 0h54m2 0h2m2 0h5m4 0h2m2 0h1m4 0h7m8 0h56m2 0h41m7 0h1m4 0h1m10 0h1m18 0h1m2 0h6m1 0h8m1 0h1M291 123.5h2m11 0h3m2 0h2m4 0h12m1 0h16m1 0h2m2 0h33m2 0h1m2 0h1m1 0h4m3 0h8m1 0h7m9 0h51m2 0h4m1 0h24m1 0h13m2 0h1m4 0h1m17 0h3m14 0h1m4 0h7m1 0h7m5 0h1M295 124.5h1m1 0h1m10 0h3m4 0h1m1 0h26m2 0h2m2 0h35m3 0h1m1 0h4m3 0h4m1 0h6m1 0h6m7 0h41m1 0h7m1 0h3m1 0h17m1 0h5m2 0h3m4 0h1m1 0h7m4 0h1m20 0h3m15 0h1m4 0h3m5 0h1m2 0h5m4 0h2M299 125.5h1m8 0h3m2 0h1m1 0h1m2 0h26m2 0h3m1 0h2m2 0h34m1 0h5m2 0h18m7 0h52m1 0h24m3 0h14m3 0h1m7 0h1m7 0h1m7 0h1m15 0h3m1 0h1m1 0h3m7 0h6M295 126.5h1m2 0h3m2 0h1m4 0h1m4 0h1m4 0h6m1 0h2m1 0h17m1 0h6m1 0h29m2 0h28m3 0h1m4 0h14m2 0h11m2 0h25m1 0h41m10 0h2m14 0h1m4 0h3m8 0h5m2 0h2m4 0h1m4 0h2M301 127.5h1m1 0h2m8 0h2m2 0h7m1 0h2m1 0h14m1 0h19m1 0h1m1 0h16m1 0h18m1 0h7m1 0h3m3 0h1m2 0h6m1 0h9m2 0h61m2 0h1m1 0h7m1 0h6m12 0h1m11 0h1m2 0h1m3 0h2m1 0h1m11 0h4m1 0h3m2 0h1m4 0h1m1 0h2M287 128.5h2m10 0h1m1 0h2m1 0h3m4 0h2m1 0h2m1 0h4m1 0h1m1 0h2m4 0h3m1 0h9m2 0h1m1 0h3m1 0h6m1 0h2m1 0h3m2 0h8m1 0h6m1 0h9m2 0h7m1 0h4m1 0h5m4 0h3m1 0h6m2 0h7m1 0h61m13 0h9m6 0h1m7 0h1m1 0h2m9 0h1m1 0h1m1 0h1m13 0h4m12 0h2M206 129.5h1m79 0h2m11 0h1m1 0h2m2 0h2m5 0h6m1 0h2m2 0h3m2 0h5m1 0h12m1 0h1m2 0h7m1 0h1m2 0h1m1 0h8m5 0h1m1 0h11m4 0h12m1 0h5m1 0h14m1 0h13m1 0h15m1 0h10m2 0h2m1 0h24m13 0h8m7 0h1m3 0h1m2 0h5m9 0h1m1 0h2m34 0h2M287 130.5h1m14 0h1m1 0h5m2 0h10m2 0h1m4 0h1m4 0h1m2 0h3m1 0h2m3 0h1m1 0h2m2 0h2m1 0h3m1 0h2m2 0h8m3 0h1m4 0h6m2 0h68m1 0h11m3 0h1m2 0h2m1 0h2m3 0h1m2 0h5m1 0h3m12 0h1m5 0h5m16 0h5m8 0h4m12 0h2m21 0h1m3 0h1M283 131.5h2m2 0h2m15 0h1m1 0h2m3 0h4m4 0h1m7 0h2m1 0h1m4 0h1m1 0h4m3 0h5m2 0h10m1 0h3m1 0h1m6 0h1m4 0h6m2 0h6m1 0h67m1 0h4m4 0h1m2 0h4m3 0h1m2 0h10m1 0h3m13 0h9m9 0h2m1 0h4m10 0h2m14 0h2m1 0h1m7 0h1m8 0h1m2 0h4M289 132.5h1m15 0h4m2 0h5m10 0h5m1 0h1m1 0h1m1 0h1m1 0h6m4 0h3m1 0h14m14 0h20m1 0h20m1 0h13m1 0h33m3 0h5m3 0h1m5 0h11m2 0h3m3 0h1m2 0h1m1 0h1m2 0h1m1 0h1m12 0h1m2 0h3m9 0h3m2 0h2m2 0h1m6 0h1m1 0h5m1 0h2m2 0h1m4 0h3m5 0h1M284 133.5h2m4 0h1m5 0h1m1 0h1m4 0h1m1 0h2m1 0h8m3 0h1m3 0h1m1 0h11m1 0h2m9 0h8m1 0h2m1 0h7m9 0h2m1 0h21m1 0h9m1 0h3m3 0h30m2 0h6m1 0h1m1 0h7m2 0h1m1 0h1m6 0h1m4 0h1m4 0h7m1 0h6m1 0h3m2 0h3m4 0h1m1 0h2m6 0h1m6 0h1m14 0h2m2 0h1m8 0h1m2 0h1m2 0h2m1 0h1m3 0h1m4 0h3M107 134.5h1m9 0h1m95 0h1m77 0h1m5 0h1m5 0h5m1 0h2m1 0h4m2 0h1m1 0h1m2 0h17m7 0h6m1 0h13m9 0h37m3 0h40m1 0h4m2 0h1m3 0h2m5 0h3m5 0h3m1 0h14m1 0h1m3 0h4m1 0h2m3 0h1m12 0h1m2 0h1m16 0h2m13 0h5m2 0h8M116 135.5h1m92 0h1m86 0h3m4 0h3m1 0h3m2 0h1m1 0h1m2 0h1m3 0h23m1 0h6m1 0h7m2 0h5m11 0h24m2 0h7m1 0h30m1 0h14m1 0h4m13 0h3m5 0h2m1 0h4m1 0h12m1 0h1m3 0h1m1 0h3m3 0h1m26 0h1m6 0h1m14 0h1m1 0h2m2 0h1m2 0h5M108 136.5h1m187 0h3m3 0h1m3 0h3m3 0h6m3 0h15m1 0h9m1 0h2m2 0h8m1 0h6m5 0h1m8 0h11m1 0h10m1 0h5m1 0h2m2 0h5m1 0h32m1 0h2m6 0h1m3 0h3m3 0h3m1 0h1m12 0h1m1 0h13m6 0h2m1 0h2m37 0h1m16 0h2m4 0h4M207 137.5h1m91 0h1m2 0h3m6 0h7m4 0h6m1 0h7m2 0h8m2 0h8m1 0h9m5 0h1m8 0h41m1 0h2m1 0h23m1 0h1m3 0h1m5 0h2m2 0h1m1 0h2m7 0h1m4 0h1m4 0h4m4 0h4m1 0h3m2 0h3m2 0h1m2 0h2m36 0h1m18 0h2m2 0h6M207 138.5h1m83 0h1m10 0h3m2 0h3m4 0h5m3 0h3m4 0h1m1 0h5m2 0h8m1 0h8m2 0h4m1 0h4m16 0h39m5 0h24m18 0h1m4 0h1m5 0h3m3 0h2m6 0h5m3 0h1m1 0h2m3 0h1m1 0h2m43 0h1m10 0h12M206 139.5h1m84 0h3m8 0h3m2 0h1m2 0h1m3 0h6m2 0h4m1 0h2m5 0h1m2 0h1m2 0h6m1 0h19m10 0h4m2 0h17m2 0h18m3 0h1m2 0h16m1 0h8m5 0h1m6 0h1m4 0h1m12 0h2m4 0h1m1 0h2m1 0h1m2 0h4m5 0h2m4 0h1m45 0h1m10 0h12M291 140.5h6m3 0h1m2 0h4m2 0h2m4 0h1m3 0h1m5 0h2m1 0h2m5 0h2m3 0h5m1 0h10m1 0h3m3 0h3m11 0h6m1 0h6m2 0h19m1 0h1m3 0h3m3 0h27m12 0h3m2 0h2m4 0h1m2 0h1m10 0h2m3 0h1m3 0h3m2 0h1m1 0h3m4 0h3m38 0h1m16 0h8M292 141.5h6m1 0h2m3 0h4m3 0h1m3 0h1m3 0h2m7 0h1m5 0h7m2 0h2m1 0h14m3 0h3m2 0h1m8 0h3m4 0h7m2 0h4m1 0h2m1 0h3m3 0h2m6 0h3m7 0h25m16 0h2m3 0h4m1 0h2m19 0h2m1 0h5m5 0h1m39 0h1m17 0h7M292 142.5h9m3 0h1m4 0h7m4 0h3m4 0h1m1 0h2m2 0h4m1 0h4m2 0h3m1 0h10m4 0h4m11 0h4m3 0h5m4 0h5m4 0h1m4 0h3m3 0h1m1 0h2m7 0h26m6 0h1m2 0h3m3 0h2m9 0h2m6 0h2m3 0h1m11 0h1m7 0h3m28 0h2m8 0h1m15 0h1m1 0h8M287 143.5h1m3 0h6m3 0h2m7 0h7m5 0h2m1 0h5m3 0h5m2 0h2m7 0h8m6 0h1m2 0h1m8 0h2m1 0h1m15 0h3m6 0h1m3 0h4m5 0h1m9 0h2m2 0h21m5 0h2m3 0h2m2 0h3m17 0h1m17 0h1m6 0h1m31 0h1m3 0h2m16 0h1m4 0h8M291 144.5h5m3 0h1m9 0h7m1 0h1m3 0h1m3 0h3m4 0h3m1 0h6m1 0h2m1 0h9m1 0h1m1 0h1m1 0h4m1 0h3m1 0h1m4 0h2m1 0h1m11 0h1m1 0h8m3 0h2m2 0h4m2 0h1m10 0h2m1 0h25m1 0h5m7 0h2m5 0h3m9 0h2m4 0h2m18 0h1m27 0h1m4 0h1m1 0h4m8 0h1m6 0h1m5 0h8M212 145.5h1m78 0h4m3 0h2m9 0h1m1 0h1m1 0h1m2 0h1m4 0h1m5 0h1m10 0h1m1 0h1m1 0h3m2 0h8m3 0h2m2 0h3m1 0h4m17 0h1m3 0h1m1 0h7m7 0h1m3 0h1m6 0h3m3 0h1m2 0h30m6 0h3m3 0h2m7 0h1m4 0h2m17 0h1m3 0h2m29 0h2m3 0h8m19 0h8M292 146.5h3m2 0h2m3 0h4m1 0h1m2 0h1m1 0h1m1 0h1m1 0h2m2 0h1m3 0h2m4 0h1m9 0h1m2 0h1m4 0h1m4 0h1m8 0h4m1 0h1m2 0h2m2 0h1m14 0h2m1 0h6m6 0h2m12 0h1m10 0h29m5 0h4m1 0h1m1 0h1m39 0h1m29 0h1m1 0h4m1 0h2m20 0h8M294 147.5h1m9 0h3m18 0h1m3 0h1m27 0h2m1 0h5m2 0h1m5 0h2m4 0h1m3 0h1m11 0h3m18 0h2m8 0h1m3 0h27m4 0h10m1 0h2m5 0h2m1 0h1m2 0h2m4 0h2m17 0h1m25 0h1m8 0h5m18 0h8M294 148.5h1m9 0h1m20 0h1m1 0h1m1 0h1m27 0h3m2 0h4m4 0h1m2 0h2m7 0h1m12 0h3m28 0h1m2 0h28m3 0h13m15 0h2m6 0h1m41 0h3m5 0h4m17 0h10M359 149.5h7m4 0h1m1 0h3m7 0h1m12 0h2m32 0h20m1 0h8m2 0h1m6 0h6m5 0h1m9 0h1m2 0h1m3 0h1m43 0h2m7 0h1m1 0h1m1 0h1m1 0h1m13 0h2m1 0h3m1 0h3M360 150.5h7m4 0h1m1 0h2m9 0h1m44 0h29m2 0h1m1 0h3m2 0h3m3 0h1m1 0h3m8 0h2m4 0h1m3 0h1m39 0h4m11 0h2m1 0h1m12 0h11M360 151.5h1m5 0h2m6 0h1m55 0h28m6 0h1m4 0h3m3 0h3m8 0h2m4 0h1m2 0h1m4 0h1m25 0h1m4 0h5m16 0h1m14 0h9M361 152.5h1m4 0h2m37 0h1m25 0h6m1 0h14m2 0h3m1 0h1m3 0h3m1 0h1m2 0h5m11 0h4m3 0h1m1 0h1m31 0h2m2 0h4m14 0h2m3 0h2m13 0h9M356 153.5h2m3 0h1m5 0h2m12 0h2m48 0h25m1 0h1m1 0h1m1 0h1m1 0h3m7 0h1m9 0h1m3 0h1m3 0h3m37 0h1m18 0h4m14 0h9M355 154.5h2m9 0h3m12 0h2m50 0h12m2 0h9m3 0h2m13 0h1m4 0h1m3 0h1m6 0h1m2 0h1m44 0h1m3 0h1m6 0h2m5 0h1m12 0h7M355 155.5h3m9 0h3m10 0h1m1 0h1m48 0h1m1 0h10m1 0h2m2 0h9m2 0h4m3 0h1m13 0h2m6 0h9m53 0h2m4 0h1m11 0h8M353 156.5h1m2 0h3m8 0h2m1 0h1m59 0h1m1 0h11m2 0h5m2 0h5m1 0h1m3 0h1m7 0h1m5 0h2m2 0h2m1 0h12m67 0h2m5 0h6M356 157.5h4m4 0h2m4 0h1m6 0h1m1 0h1m4 0h2m44 0h6m1 0h3m1 0h2m3 0h5m2 0h4m3 0h2m1 0h4m4 0h2m7 0h2m1 0h3m2 0h4m2 0h1m66 0h2m6 0h5M355 158.5h1m2 0h7m4 0h2m3 0h4m1 0h1m1 0h4m1 0h2m21 0h1m14 0h1m7 0h7m7 0h1m1 0h8m1 0h1m2 0h2m3 0h1m5 0h1m7 0h7m5 0h2m2 0h1m28 0h2m1 0h2m10 0h1m11 0h1m3 0h1m4 0h1m8 0h5M359 159.5h4m11 0h4m4 0h2m3 0h1m21 0h1m14 0h1m7 0h3m2 0h1m3 0h1m8 0h5m1 0h7m1 0h2m14 0h5m1 0h1m1 0h1m1 0h2m3 0h1m28 0h5m10 0h2m6 0h1m5 0h1m1 0h1m3 0h2m8 0h4M358 160.5h2m1 0h2m6 0h1m1 0h2m2 0h3m3 0h3m25 0h1m22 0h2m1 0h1m8 0h3m2 0h2m2 0h1m1 0h1m2 0h9m10 0h1m2 0h6m3 0h1m1 0h1m32 0h3m4 0h1m9 0h1m3 0h1m2 0h1m6 0h1m13 0h4M361 161.5h1m7 0h1m2 0h2m3 0h1m12 0h1m1 0h1m37 0h1m2 0h1m1 0h1m3 0h1m2 0h1m1 0h2m3 0h1m4 0h3m2 0h3m1 0h1m1 0h1m9 0h7m1 0h3m37 0h1m1 0h4m3 0h1m2 0h2m3 0h3m9 0h3m13 0h4M353 162.5h1m2 0h1m3 0h2m3 0h2m3 0h1m1 0h3m2 0h1m52 0h1m1 0h1m15 0h1m4 0h2m4 0h3m3 0h1m9 0h7m1 0h3m5 0h1m41 0h1m3 0h1m2 0h3m7 0h1m1 0h1m15 0h3M353 163.5h8m3 0h3m3 0h5m5 0h6m3 0h1m36 0h2m2 0h1m1 0h1m10 0h1m4 0h1m4 0h2m3 0h3m2 0h1m12 0h7m1 0h2m36 0h3m36 0h1m7 0h2M354 164.5h4m2 0h1m6 0h1m5 0h3m8 0h1m1 0h1m2 0h1m2 0h1m34 0h1m2 0h1m2 0h2m2 0h1m4 0h1m1 0h1m1 0h5m4 0h6m12 0h10m3 0h1m37 0h1m1 0h1m27 0h1m14 0h1M354 165.5h2m5 0h1m6 0h1m3 0h1m2 0h1m1 0h3m4 0h1m2 0h1m1 0h1m2 0h1m37 0h6m1 0h3m9 0h1m1 0h1m3 0h6m2 0h2m3 0h1m3 0h7m1 0h1m1 0h2m72 0h1m2 0h1m9 0h1M359 166.5h3m6 0h1m23 0h2m36 0h3m1 0h6m3 0h4m2 0h9m7 0h2m3 0h1m1 0h1m2 0h2m2 0h1m2 0h2m36 0h1m5 0h2m28 0h1m2 0h1M355 167.5h1m18 0h1m1 0h1m7 0h1m3 0h1m1 0h1m34 0h10m1 0h5m1 0h18m4 0h4m11 0h4m37 0h1m5 0h1m3 0h2M374 168.5h2m7 0h1m4 0h4m33 0h17m1 0h2m4 0h3m2 0h1m2 0h4m2 0h1m4 0h1m2 0h1m11 0h1m37 0h1m8 0h1M371 169.5h2m1 0h2m3 0h1m3 0h2m5 0h2m34 0h14m3 0h2m1 0h5m4 0h1m1 0h4m2 0h1m4 0h2m64 0h1m13 0h1m7 0h1M356 170.5h1m15 0h1m9 0h3m42 0h12m1 0h8m2 0h2m3 0h1m3 0h3m7 0h1m3 0h1m70 0h2m15 0h1M381 171.5h4m44 0h8m1 0h8m4 0h1m22 0h1m16 0h1m40 0h1m3 0h1m9 0h1m14 0h3M382 172.5h1m45 0h4m1 0h4m1 0h5m1 0h1m1 0h1m1 0h1m23 0h1m4 0h1m6 0h1m11 0h2m62 0h1m1 0h1M370 173.5h1m56 0h2m1 0h1m1 0h12m17 0h1m8 0h2m11 0h1M369 174.5h3m54 0h2m1 0h1m6 0h11m7 0h1m13 0h2m2 0h2m2 0h2m1 0h1m2 0h1m9 0h3M367 175.5h2m57 0h4m1 0h3m1 0h8m2 0h2m1 0h2m4 0h1m13 0h3m1 0h1m2 0h3m1 0h3m14 0h1m15 0h2m50 0h2m1 0h2M355 176.5h1m69 0h14m2 0h3m1 0h1m2 0h2m4 0h1m2 0h1m9 0h7m1 0h1m2 0h3m2 0h1m1 0h2m25 0h1m1 0h2m13 0h1m15 0h2m1 0h1m15 0h2m1 0h3M369 177.5h1m55 0h14m1 0h7m1 0h2m4 0h1m3 0h1m2 0h1m4 0h3m1 0h8m2 0h2m3 0h1m28 0h5m9 0h1m29 0h1m1 0h1m5 0h2M423 178.5h27m8 0h2m1 0h1m4 0h3m1 0h7m4 0h1m1 0h2m9 0h1m1 0h1m19 0h3m6 0h4m28 0h3m3 0h2m2 0h2M356 179.5h2m1 0h2m5 0h1m53 0h31m3 0h1m3 0h4m11 0h3m7 0h1m3 0h1m7 0h3m18 0h4m5 0h3m17 0h1m1 0h3m7 0h5m1 0h1M355 180.5h2m10 0h1m2 0h1m51 0h1m1 0h11m1 0h20m2 0h2m5 0h1m2 0h1m5 0h2m6 0h3m1 0h2m8 0h2m14 0h1m2 0h3m3 0h1m4 0h2m17 0h1m1 0h2m1 0h1m4 0h1m2 0h7m4 0h2M370 181.5h2m49 0h29m1 0h4m2 0h2m6 0h1m15 0h2m4 0h2m8 0h1m1 0h2m10 0h2m3 0h1m1 0h2m6 0h2m13 0h3m1 0h1m4 0h1m1 0h1m2 0h1m1 0h6m7 0h2M421 182.5h28m2 0h3m1 0h3m6 0h2m15 0h1m13 0h2m2 0h4m14 0h1m7 0h1m5 0h1m6 0h1m3 0h3m5 0h1m3 0h1m1 0h1m5 0h1M419 183.5h24m1 0h5m3 0h2m1 0h3m2 0h1m3 0h3m14 0h1m13 0h2m1 0h4m13 0h1m9 0h2m18 0h1M415 184.5h1m1 0h38m1 0h3m1 0h1m1 0h1m4 0h1m9 0h1m5 0h1m11 0h1m3 0h3m4 0h1m14 0h2m2 0h3m2 0h1m1 0h1m5 0h1m17 0h1M367 185.5h1m47 0h1m1 0h2m2 0h8m1 0h4m1 0h17m4 0h2m3 0h1m13 0h1m1 0h2m2 0h1m2 0h1m16 0h2m11 0h1m6 0h2m5 0h3m7 0h2m2 0h1m18 0h1m4 0h1M365 186.5h1m49 0h14m1 0h1m1 0h2m1 0h16m2 0h2m7 0h1m1 0h2m11 0h2m4 0h3m4 0h1m1 0h1m8 0h1m19 0h1m25 0h1m7 0h1m8 0h5M363 187.5h3m4 0h1m25 0h1m15 0h1m3 0h9m1 0h4m6 0h10m1 0h6m1 0h4m4 0h4m11 0h2m1 0h1m11 0h1m9 0h1m11 0h3m4 0h1m20 0h1m8 0h7m2 0h3m3 0h2M364 188.5h1m47 0h1m2 0h11m1 0h2m3 0h1m5 0h5m5 0h4m2 0h3m17 0h1m16 0h2m21 0h4m23 0h1m11 0h1m1 0h3m2 0h2M371 189.5h1m40 0h6m1 0h2m2 0h2m9 0h1m2 0h2m1 0h2m1 0h1m5 0h2m4 0h1m1 0h1m16 0h1m9 0h1m6 0h2m22 0h2m2 0h1m15 0h1m4 0h2m2 0h1m7 0h7m1 0h3M368 190.5h4m9 0h1m30 0h7m5 0h3m9 0h2m5 0h1m6 0h1m1 0h1m2 0h3m5 0h1m10 0h1m40 0h1m1 0h3m13 0h1m7 0h2m4 0h2m2 0h2m2 0h4m1 0h3M371 191.5h1m1 0h2m6 0h1m30 0h4m8 0h5m14 0h1m6 0h4m1 0h2m17 0h1m23 0h1m15 0h1m3 0h2m20 0h5m2 0h3m4 0h2m1 0h4M374 192.5h1m37 0h6m1 0h1m3 0h6m6 0h2m13 0h1m10 0h1m14 0h1m56 0h1m4 0h1m1 0h6m1 0h2m3 0h9M413 193.5h8m1 0h9m4 0h1m1 0h2m10 0h2m79 0h1m1 0h1m2 0h3m1 0h1m2 0h4m1 0h1m4 0h9m2 0h2M399 194.5h1m4 0h1m9 0h4m5 0h1m1 0h8m1 0h4m68 0h1m11 0h1m10 0h1m1 0h7m5 0h1m8 0h1m7 0h2M399 195.5h1m4 0h1m4 0h1m3 0h4m8 0h4m1 0h3m3 0h1m91 0h1m2 0h4m1 0h2m6 0h2m10 0h1m3 0h1M357 196.5h1m6 0h1m39 0h1m2 0h1m6 0h3m8 0h4m1 0h3m3 0h1m11 0h1m1 0h1m16 0h6m8 0h1m33 0h1m1 0h1m13 0h4m1 0h1m7 0h2m2 0h2M355 197.5h3m7 0h2m38 0h1m8 0h4m5 0h4m1 0h3m1 0h1m17 0h6m12 0h1m1 0h2m8 0h1m23 0h1m9 0h5m10 0h6m11 0h1M377 198.5h1m36 0h1m5 0h1m2 0h5m3 0h2m16 0h1m1 0h5m14 0h1m9 0h1m33 0h1m2 0h1m10 0h1m2 0h1m2 0h2m5 0h1m3 0h2m4 0h1M415 199.5h1m2 0h2m1 0h1m1 0h5m3 0h1m17 0h1m1 0h2m1 0h2m6 0h1m7 0h2m9 0h1m36 0h3m2 0h1m10 0h2m5 0h1m9 0h2M413 200.5h4m1 0h2m2 0h9m20 0h1m2 0h1m1 0h1m5 0h2m1 0h1m5 0h1m34 0h1m11 0h1m7 0h1m3 0h3m1 0h2M412 201.5h1m1 0h3m5 0h7m21 0h1m2 0h2m2 0h1m3 0h2m8 0h3m45 0h2m21 0h1m1 0h1m2 0h1M367 202.5h1m34 0h1m9 0h4m5 0h8m22 0h1m19 0h3m44 0h2m22 0h6M367 203.5h1m46 0h3m6 0h1m1 0h5m20 0h4m25 0h1m48 0h1m2 0h1m6 0h1m3 0h6M368 204.5h1m42 0h1m3 0h2m5 0h2m1 0h2m1 0h2m5 0h1m14 0h4m7 0h2m60 0h2m6 0h1m1 0h1m3 0h1m3 0h7M381 205.5h1m29 0h1m2 0h3m6 0h1m2 0h1m1 0h2m21 0h2m3 0h1m5 0h1m68 0h1M367 206.5h1m42 0h1m1 0h5m6 0h2m2 0h2m3 0h1m19 0h1m63 0h1m14 0h1m6 0h1M412 207.5h3m11 0h3m3 0h1m24 0h1m59 0h1m13 0h3m5 0h1M412 208.5h5m8 0h6m1 0h1m97 0h2M412 209.5h5m7 0h4m5 0h3m96 0h2m5 0h1M413 210.5h4m6 0h5m6 0h1m62 0h2m33 0h2M413 211.5h4m10 0h1m104 0h1M414 212.5h2m11 0h1m78 0h1M413 213.5h3m5 0h1m1 0h1m1 0h1M413 214.5h2m6 0h2m1 0h3m80 0h2m16 0h2M414 215.5h2m4 0h1m1 0h3m95 0h1m5 0h1M416 216.5h1m4 0h3m81 0h1m14 0h1M414 217.5h1m1 0h1m2 0h4m1 0h2m94 0h4M358 218.5h2m53 0h1m2 0h1m3 0h6m11 0h2m59 0h1m12 0h1m7 0h1m2 0h2m1 0h1M411 219.5h9m1 0h4m8 0h1m66 0h2m8 0h2m7 0h1m4 0h2M411 220.5h15m10 0h1m1 0h1m53 0h2m1 0h1m10 0h1m2 0h1m12 0h4M411 221.5h1m2 0h4m4 0h4m65 0h1m1 0h1m7 0h1m19 0h1m1 0h1M413 222.5h1m1 0h5m2 0h3m10 0h1m57 0h1m6 0h3m6 0h4m9 0h2M381 223.5h1m1 0h1m32 0h3m1 0h4m50 0h1m13 0h1m2 0h1m7 0h5m2 0h2m2 0h4M359 224.5h1m8 0h1m12 0h2m13 0h1m16 0h2m1 0h3m2 0h1m1 0h1m1 0h1m62 0h1m2 0h2m7 0h1m1 0h3m2 0h2m4 0h1M364 225.5h1m45 0h1m3 0h3m4 0h3m11 0h1m55 0h2m9 0h1m1 0h1m2 0h1m1 0h2m1 0h1m1 0h2m2 0h1M412 226.5h4m1 0h1m1 0h6m10 0h2m49 0h2m13 0h1m2 0h1m4 0h2m2 0h3m2 0h2M413 227.5h12m11 0h1m34 0h2m16 0h2m4 0h2m2 0h2m2 0h2m4 0h1m3 0h3m1 0h3M410 228.5h7m1 0h6m13 0h1m33 0h1m28 0h1m13 0h2m1 0h2M359 229.5h1m39 0h1m10 0h14m64 0h1m11 0h1m3 0h1m9 0h1m2 0h1M364 230.5h1m33 0h2m4 0h1m5 0h6m49 0h1m45 0h1m2 0h1M410 231.5h2m1 0h1m1 0h1m3 0h2m43 0h1m36 0h1m3 0h1M416 232.5h1m64 0h2m18 0h1m11 0h1M357 233.5h1m69 0h1m1 0h2m47 0h1m21 0h3m9 0h1M357 234.5h3m53 0h1m49 0h1m15 0h1m9 0h1m12 0h1m12 0h1M354 235.5h1m134 0h1m18 0h1m5 0h2M358 236.5h1m1 0h1m71 0h1m53 0h3m18 0h2m6 0h1M359 237.5h3m121 0h8m5 0h2m9 0h2M359 238.5h1m2 0h1m121 0h3m9 0h1m8 0h1m1 0h1m6 0h2M418 239.5h2m64 0h1m7 0h1m2 0h4m9 0h1M357 240.5h1m127 0h2m4 0h3m1 0h4m10 0h2m1 0h2M362 241.5h1m2 0h2m118 0h2m4 0h3m1 0h2m2 0h1M365 242.5h3m123 0h2m1 0h2m3 0h1M354 243.5h1m7 0h1m130 0h3m3 0h1M370 247.5h1M364 249.5h1M362 250.5h1m6 0h1M368 251.5h2M368 252.5h1m132 0h2M361 254.5h1M503 255.5h1M362 256.5h2M361 257.5h1m2 0h1m140 0h2M369 258.5h1m1 0h2M370 259.5h3M363 260.5h2m6 0h1m1 0h1M371 261.5h1m1 0h1M363 262.5h2M357 263.5h1m6 0h1m1 0h2M359 264.5h1m2 0h1m1 0h2m1 0h2M360 265.5h7M359 266.5h8M358 267.5h2m1 0h1M358 268.5h2m1 0h1M358 269.5h5m3 0h1M359 270.5h1M360 274.5h2M360 275.5h1"/></g>
<path d="M90.5 27.0 L93.9 28.4 L97.4 29.4 L102.0 29.9 L104.7 29.5 L106.7 30.2 L108.7 29.2 L109.6 25.5 L109.2 19.5 L380.5 19.5 L380.5 14.6 L382.0 14.9 L383.5 15.6 L384.4 21.2 L385.4 22.8 L392.8 23.9 L397.2 24.2 L401.7 24.0 L405.1 25.5 L408.0 27.3 L411.5 28.8 L415.9 30.8 L420.8 29.2 L422.8 29.2 L423.3 30.5 L429.7 30.5 L431.6 31.5 L435.6 31.5 L431.6 33.5 L427.4 34.7 L421.8 37.8 L417.9 40.9 L414.2 43.7 L410.0 47.0 L413.0 47.6 L418.9 45.8 L422.3 44.6 L423.3 45.4 L421.3 48.9 L423.8 48.3 L426.5 49.2 L430.7 47.6 L434.6 46.0 L438.5 45.8 L441.5 43.9 L445.4 41.5 L448.4 38.8 L452.8 38.2 L450.3 40.5 L447.4 43.3 L445.9 45.2 L445.9 46.7 L447.9 45.5 L451.3 45.5 L454.3 46.4 L456.2 49.5 L460.2 50.1 L463.6 51.1 L468.0 48.3 L471.0 47.9 L476.9 47.3 L480.3 46.8 L479.8 50.1 L483.8 50.5 L486.2 50.1 L488.2 51.3 L488.7 53.8 L490.6 55.6 L493.6 55.0 L495.1 56.3 L490.6 56.9 L486.2 56.5 L482.6 57.9 L479.8 56.0 L474.9 55.3 L471.0 56.5 L467.5 56.5 L464.6 58.1 L464.1 61.2 L462.6 59.3 L459.7 59.3 L458.2 61.8 L454.3 67.3 L452.8 69.2 L450.3 74.1 L452.3 72.9 L456.2 68.0 L459.7 65.1 L458.7 68.6 L456.2 71.7 L454.7 77.2 L453.3 82.1 L451.3 89.5 L451.5 92.7 L452.3 99.4 L452.3 103.1 L454.3 107.4 L455.2 109.2 L458.2 110.2 L461.1 109.0 L464.1 105.5 L466.5 100.6 L468.0 95.9 L466.7 90.4 L464.9 85.2 L465.6 81.5 L467.2 77.2 L467.7 72.3 L469.5 69.6 L473.9 66.1 L474.4 71.3 L475.9 68.0 L476.9 64.6 L479.8 64.0 L478.8 60.9 L480.3 59.3 L482.5 59.0 L485.0 60.6 L488.7 62.4 L492.1 63.7 L495.3 66.1 L496.5 68.6 L496.5 72.3 L496.5 77.2 L494.1 80.3 L490.6 82.1 L490.6 85.2 L493.6 85.8 L496.5 81.5 L500.0 80.0 L502.9 82.7 L504.4 89.5 L505.2 93.5 L504.4 97.5 L502.4 98.8 L500.8 100.0 L498.5 102.1 L498.0 104.9 L495.1 108.9 L498.5 110.5 L501.9 111.7 L502.2 111.2 L504.4 112.9 L509.3 111.7 L512.3 111.7 L516.2 108.9 L521.1 106.8 L523.9 105.8 L528.2 103.7 L531.3 102.2 L535.6 99.5 L538.3 96.9 L540.0 94.7 L538.3 90.1 L543.7 88.7 L549.6 88.9 L552.6 90.0 L558.5 89.9 L562.4 88.0 L566.5 86.4 L566.5 82.1 L565.1 79.3 L570.3 75.4 L575.2 70.4 L579.1 68.8 L581.1 68.5 L594.4 68.5 L612.6 68.5 L613.5 65.9 L616.7 64.9 L618.9 65.5 L619.4 63.7 L623.4 59.3 L624.8 54.4 L626.8 51.3 L627.3 47.6 L635.0 38.3 L636.6 40.3 L638.1 41.7 L641.1 40.9 L643.7 39.6 L647.5 41.7 L649.0 43.1 L649.1 57.0 L649.4 58.7 L652.4 61.2 L652.6 64.9 L654.0 66.2 L655.8 67.3 L656.8 69.8 L657.1 70.8 L652.9 73.5 L648.9 74.7 L646.5 76.2 L644.0 77.8 L641.6 76.0 L639.1 74.7 L637.6 77.2 L636.1 80.3 L632.2 82.7 L628.8 84.0 L624.8 85.2 L623.4 88.3 L621.4 91.4 L620.2 92.3 L619.2 95.1 L621.4 97.4 L618.5 99.4 L617.5 101.5 L619.9 102.8 L620.9 106.1 L622.4 108.4 L627.3 108.2 L626.3 105.2 L625.3 104.7 L627.6 106.8 L627.8 109.6 L624.4 110.1 L620.9 111.3 L620.2 108.6 L617.5 111.4 L616.3 111.7 L614.5 112.1 L614.0 108.6 L613.3 111.7 L612.6 113.4 L609.0 114.0 L606.7 114.0 L602.7 114.5 L598.8 114.6 L595.8 115.9 L591.4 117.8 L589.9 119.7 L588.5 120.3 L588.0 121.5 L585.5 124.2 L588.0 124.6 L587.5 130.2 L587.0 133.2 L583.8 138.0 L581.1 141.2 L578.6 143.3 L578.1 140.0 L575.2 138.8 L572.7 135.1 L573.2 133.6 L572.7 136.9 L574.2 139.4 L575.2 143.1 L577.2 144.9 L577.6 149.2 L576.7 152.3 L574.7 156.0 L571.7 160.9 L568.8 165.6 L568.5 162.8 L569.3 159.1 L568.8 154.8 L567.3 149.9 L566.8 144.9 L567.1 140.0 L565.9 138.2 L563.9 140.6 L564.4 144.9 L564.6 149.9 L565.6 153.6 L560.9 152.1 L565.2 155.4 L566.1 158.2 L561.9 157.5 L565.7 160.3 L565.2 162.7 L561.9 161.9 L565.2 164.6 L562.2 165.9 L565.4 167.7 L568.3 168.0 L568.6 169.0 L569.6 172.7 L570.3 177.9 L563.9 178.6 L561.4 180.0 L567.8 179.8 L571.1 180.7 L570.8 184.4 L567.3 187.4 L562.4 185.3 L559.0 186.2 L563.4 188.0 L564.4 190.5 L560.4 191.7 L558.3 191.1 L562.4 193.0 L564.4 193.6 L563.1 196.7 L561.4 195.4 L557.5 196.1 L554.5 197.9 L551.1 201.6 L549.1 205.5 L543.2 205.5 L540.0 207.9 L537.3 212.7 L534.9 216.4 L529.7 219.5 L524.6 224.4 L522.1 226.8 L520.4 228.3 L517.7 232.4 L516.2 236.7 L515.2 239.8 L514.7 244.5 L515.2 249.6 L516.2 254.6 L519.1 263.2 L521.6 268.7 L523.6 272.4 L523.1 276.7 L525.3 282.3 L527.5 287.8 L528.7 294.0 L528.0 301.4 L527.5 305.7 L525.5 311.2 L523.1 312.7 L520.1 313.2 L518.2 313.3 L517.7 310.6 L516.2 306.3 L512.3 303.8 L511.3 300.9 L509.8 297.0 L507.3 294.6 L508.3 290.9 L505.4 289.7 L503.9 286.2 L502.4 283.5 L504.9 281.0 L503.9 278.6 L502.2 281.6 L501.0 279.8 L501.5 275.5 L502.9 270.6 L502.4 266.3 L499.0 264.0 L495.6 258.9 L493.6 255.2 L489.7 252.1 L486.2 253.3 L485.7 254.6 L479.8 257.0 L476.1 257.4 L476.4 255.2 L472.9 251.7 L468.0 249.3 L465.1 248.6 L458.2 249.3 L455.2 249.9 L452.8 250.2 L450.3 250.5 L451.8 247.8 L450.3 244.9 L449.3 248.4 L446.4 248.8 L444.9 249.0 L441.5 248.4 L437.1 249.6 L435.4 251.1 L433.6 251.5 L432.1 252.7 L434.1 253.3 L436.6 253.9 L437.1 255.8 L435.1 257.0 L434.6 260.1 L437.5 261.9 L440.0 263.8 L439.5 265.6 L436.6 266.3 L436.6 263.8 L433.6 261.9 L431.2 261.9 L430.2 263.2 L428.7 264.4 L424.3 265.0 L420.8 263.8 L417.9 261.3 L417.4 259.5 L412.5 259.5 L412.5 256.5 L409.5 256.5 L408.0 259.1 L401.2 256.8 L397.7 256.2 L392.8 257.0 L387.4 259.5 L383.5 261.3 L383.5 257.0 L381.5 257.0 L382.0 261.9 L378.6 266.5 L371.7 270.6 L367.7 273.0 L363.8 276.7 L361.3 279.8 L358.4 281.0 L357.9 286.6 L358.4 292.7 L359.9 300.1 L360.4 303.1 L356.9 304.2 L353.5 302.0 L350.0 301.7 L345.1 299.5 L341.2 297.4 L340.2 294.0 L337.7 289.7 L337.3 284.1 L333.8 280.7 L331.4 276.1 L328.9 273.0 L325.9 264.4 L323.0 261.2 L318.6 256.2 L313.2 255.8 L309.7 254.8 L306.3 256.5 L304.3 261.3 L301.4 265.9 L297.9 264.2 L295.3 262.4 L291.0 260.1 L287.6 256.4 L286.1 250.9 L283.7 245.9 L279.2 242.5 L273.8 236.7 L268.4 231.8 L268.1 231.5 L251.5 231.5 L251.5 236.5 L223.5 236.5 L186.7 222.7 L187.6 219.8 L164.0 222.2 L162.7 220.1 L162.4 218.2 L161.3 213.9 L158.3 210.7 L154.4 207.5 L151.4 207.3 L150.4 204.1 L147.5 204.1 L143.1 202.2 L138.6 199.1 L131.1 198.5 L129.3 196.9 L129.5 191.7 L127.1 187.2 L122.9 183.5 L120.0 179.4 L117.0 175.7 L116.5 172.0 L118.0 169.6 L115.7 167.6 L112.1 164.6 L111.1 160.9 L110.9 157.5 L112.6 157.3 L115.1 160.9 L113.1 156.0 L111.1 156.6 L106.7 154.8 L105.7 151.1 L99.3 143.1 L98.3 136.9 L97.8 132.0 L92.9 126.5 L92.4 124.7 L94.4 120.3 L95.4 117.1 L94.4 108.6 L94.4 105.5 L92.4 100.6 L91.9 95.2 L92.9 90.7 L94.9 84.6 L95.4 80.9 L95.8 73.1 L96.5 66.1 L96.5 60.0 L96.4 53.2 L96.5 50.1 L96.5 43.9 L95.1 39.8 L91.5 33.4 L90.3 29.8Z M587.7 122.5 L590.4 120.3 L593.9 118.8 L598.8 118.2 L601.7 118.5 L604.7 116.0 L603.7 118.5 L606.7 117.6 L609.0 117.0 L603.7 119.7 L598.8 121.3 L593.9 122.5 L588.5 123.3Z M619.1 113.5 L621.4 112.1 L622.9 112.9 L622.4 113.5Z M624.8 114.1 L626.8 113.2 L627.6 114.8 L625.8 114.9Z M96.4 53.5 L101.3 53.5 L104.2 54.4 L107.2 55.0 L108.2 58.1 L109.4 60.9 L113.1 61.8 L117.0 60.2 L121.0 59.7 L123.9 60.9 L129.8 59.6 L133.7 59.7 L139.6 57.2 L142.6 57.1 L145.7 56.5 L166.0 56.5 M164.5 19.3 L164.5 51.1 L166.0 54.2 L166.0 56.3 M166.0 56.3 L167.7 58.7 L170.1 62.4 L168.1 66.1 L166.7 69.2 L163.2 75.4 L164.7 77.8 L166.2 79.0 L164.5 83.4 L164.5 105.5 M94.4 105.5 L223.7 105.5 M135.5 105.5 L135.5 142.5 L188.5 191.7 M188.5 191.7 L189.1 194.2 L190.8 198.5 L193.3 200.4 L190.5 203.1 L189.6 208.4 L187.8 211.4 L189.8 216.4 L188.8 219.7 L187.6 219.8 M188.5 191.7 L188.3 185.6 L187.4 178.8 L190.8 177.6 L194.2 177.0 L194.3 167.1 M194.5 167.1 L194.5 105.5 M223.5 105.5 L223.5 75.1 L220.3 72.0 L215.8 74.4 L210.9 74.7 L206.0 76.3 L204.0 73.5 L200.1 70.2 L199.6 67.3 L195.2 60.1 L191.3 62.8 L189.3 61.6 L191.3 57.5 L190.3 52.6 L191.3 48.3 L188.8 48.3 L185.4 44.8 L181.4 40.7 L178.0 38.4 L177.5 35.3 L174.5 31.9 L174.5 19.3 M223.7 68.5 L292.5 68.5 M292.5 19.3 L292.5 117.8 M223.5 105.5 L223.5 117.5 L312.2 117.5 M243.5 117.8 L243.5 236.9 M194.3 167.5 L385.2 167.5 M312.5 117.8 L312.5 167.1 M312.2 130.5 L378.6 130.5 M302.5 167.1 L302.5 173.3 L302.5 173.3 L302.5 228.5 L267.3 228.5 L268.1 231.4 M302.8 173.5 L332.5 173.5 L332.5 197.2 L335.3 199.1 L340.2 200.4 L343.2 202.2 L347.1 202.8 L351.0 202.6 L353.0 205.5 L359.9 207.1 L362.8 205.0 L365.8 205.9 L369.7 207.1 L376.6 205.5 L381.5 205.3 L386.6 208.5 L390.9 209.6 M292.5 57.5 L366.2 57.5 M359.6 19.3 L360.9 25.5 L360.4 31.6 L363.3 37.8 L364.0 45.5 L365.8 52.9 L366.2 57.0 M366.2 57.0 L363.3 61.2 L367.5 64.9 L367.5 87.1 L365.8 87.7 L367.2 92.0 L366.3 95.7 L367.2 99.5 M367.2 87.5 L418.7 87.5 M367.2 99.5 L364.8 98.1 L359.9 95.1 L356.9 94.9 L353.0 95.7 L347.1 93.5 L292.5 93.5 M367.2 99.5 L369.2 104.3 L370.7 108.6 L372.4 114.6 L373.1 120.3 L373.9 123.0 L376.6 126.5 L378.6 130.2 L382.5 133.2 L382.0 137.5 L385.5 141.1 L385.5 173.3 M373.9 123.0 L413.7 122.6 L416.7 125.5 M385.3 173.3 L387.1 186.8 L386.6 208.5 M390.5 209.6 L390.5 228.7 L393.3 233.6 L395.6 238.8 L394.3 245.9 L394.1 252.1 L392.8 257.0 M390.9 216.1 L419.2 216.4 M385.3 173.5 L429.2 173.5 L427.0 179.5 L433.6 179.5 M410.0 47.0 L408.5 48.1 L408.5 55.3 L403.6 58.1 L402.3 61.2 L404.6 63.7 L403.6 68.6 L403.1 71.7 L406.1 74.0 L410.0 76.0 L414.4 80.3 L418.4 83.4 L418.7 87.1 M418.7 87.1 L418.9 92.0 L419.8 96.3 L424.3 99.4 L426.7 103.1 L428.9 107.6 L425.3 111.7 L420.3 112.7 L419.8 120.3 L416.7 125.5 L416.9 131.0 L417.4 133.9 L423.3 139.4 L425.3 143.7 L428.7 144.3 L428.9 147.0 L427.2 152.3 L432.1 156.0 L435.6 163.4 L439.0 167.1 M439.0 167.1 L437.5 172.0 L435.6 173.3 L435.1 175.7 L433.6 179.4 L431.2 185.6 L430.0 190.1 L427.7 191.7 L425.0 197.9 L421.8 204.1 L419.8 209.0 L420.1 211.4 L419.2 216.4 L421.8 224.4 L419.4 229.3 L416.9 234.1 L414.9 241.5 L433.3 241.5 L432.1 245.3 L434.1 248.4 L435.4 251.1 M424.3 99.5 L452.3 99.5 M454.3 67.3 L451.8 64.3 L452.3 60.6 L449.3 58.7 L443.9 56.3 L439.5 54.7 L429.7 52.0 L426.5 49.2 M454.5 108.5 L454.5 138.2 L453.8 141.2 L454.9 146.4 L452.8 148.6 L450.8 152.3 L449.8 157.3 M481.5 109.2 L481.5 141.2 M458.2 108.5 L481.6 108.5 L481.6 109.2 L495.1 108.9 M439.0 167.1 L444.4 165.9 L445.9 162.2 L449.3 160.9 L449.8 157.3 L454.6 155.4 L459.2 157.5 L464.1 156.0 L467.0 152.9 L471.0 154.8 L472.4 151.5 L475.9 145.8 L481.6 141.5 L484.7 141.5 L487.4 144.9 L492.1 146.8 L499.5 145.8 L503.4 149.6 L507.3 147.4 L507.9 144.3 L511.8 142.5 L513.6 139.2 L517.2 137.5 L520.4 134.5 L521.9 129.3 L522.9 125.2 L523.9 122.3 M503.4 149.6 L503.4 152.7 L506.4 158.5 L509.6 160.5 L502.4 166.5 L498.5 169.0 L492.8 172.0 M523.5 105.8 L523.5 133.6 M523.9 133.5 L570.4 133.5 M574.0 132.6 L572.2 132.3 L570.5 133.6 L570.5 149.5 L577.6 149.5 M534.5 133.6 L534.5 140.0 L537.8 136.9 L541.2 134.5 L544.7 134.8 L546.9 133.9 L550.3 135.1 L551.3 138.5 L553.6 141.0 L556.5 142.8 L558.1 144.9 L555.5 148.6 L558.5 151.1 L565.2 154.3 M551.3 138.5 L550.3 140.8 L545.2 137.5 L540.1 145.3 L535.9 149.6 L532.4 147.6 L529.0 154.8 L526.0 160.3 L520.6 162.8 L516.9 164.2 L512.5 164.6 L509.6 160.5 M492.8 172.0 L512.5 172.2 L569.6 172.7 M492.8 172.0 L449.6 171.4 L449.8 173.5 L435.6 173.5 M512.5 172.2 L508.8 177.9 L503.4 179.4 L498.5 182.3 L494.6 184.7 L489.7 186.8 L486.5 191.7 M498.5 191.5 L427.7 191.5 M498.5 191.7 L505.4 189.3 L518.8 189.9 L518.8 191.1 L519.8 190.5 L521.3 194.0 L532.2 194.2 L543.2 205.9 M498.5 191.7 L496.0 195.4 L500.5 198.5 L503.9 204.1 L509.6 210.6 L514.2 216.4 L515.2 221.3 L517.7 226.2 L520.4 228.3 M473.9 191.7 L478.1 218.0 L479.8 223.1 L479.3 234.2 L479.8 241.0 M479.8 241.0 L481.2 244.7 L507.3 246.3 L508.8 248.9 L509.3 244.1 L514.7 244.5 M479.8 241.5 L454.3 241.5 L456.2 245.3 L455.2 249.9 M448.4 191.7 L445.7 229.9 L446.4 248.8 M531.3 102.2 L531.3 105.5 L574.7 105.5 M574.7 105.5 L577.6 110.5 L581.1 113.4 L576.9 118.1 L576.2 121.8 L580.4 127.7 L576.9 131.4 L574.0 132.6 L572.7 135.1 M581.1 113.4 L589.0 117.8 M591.4 117.8 L590.6 116.6 L593.1 115.1 L592.9 104.9 L595.1 96.3 L595.3 85.8 L593.9 85.8 L593.4 78.4 L594.4 68.6 M612.6 68.5 L612.1 73.5 L607.5 77.8 L607.5 82.1 L603.7 88.3 L603.2 93.2 L602.2 96.5 M595.1 96.3 L614.5 96.9 L616.0 95.7 L619.2 94.8 M592.9 104.9 L609.6 105.5 L613.7 105.5 L613.7 106.8 L615.5 109.2 L616.3 111.7 M609.5 105.3 L609.5 112.9 L609.0 114.0 M620.2 92.3 L617.8 88.9 L617.2 80.9 L616.7 64.9 M426.7 252.1 L429.7 253.0 L432.6 251.5 L431.2 249.5 L427.7 249.5 L426.7 252.1 M105.8 24.3 L107.9 22.7 L111.1 23.2 L111.7 25.3 L109.0 26.4 L106.3 25.9 L105.8 24.3 M109.3 19.7 L110.1 20.5 L111.7 22.1 L112.9 24.8 L112.2 27.5 L114.0 29.6 L114.9 32.3 L113.3 34.4 L114.3 37.1 L113.3 39.9 L111.1 41.9 L108.5 43.1 L106.6 41.9 L106.1 39.2 L107.6 37.4 L109.3 34.9 L108.7 32.8 L110.1 30.7 L109.7 28.0 L111.1 26.4 M111.7 30.1 L112.9 32.3 L111.7 34.9 L112.5 37.6 L110.6 39.9 L108.7 40.6 L107.9 38.7 L110.1 36.7 L111.1 33.9 L110.6 31.7" fill="none" stroke="#000" stroke-width="1.15" stroke-linejoin="round"/>
<circle cx="376.4" cy="94.2" r="2.6" fill="#ffd700" stroke="#000" stroke-width="0.95"/>
<circle cx="393.7" cy="94.2" r="2.6" fill="#ffd700" stroke="#000" stroke-width="0.95"/>
<circle cx="405.4" cy="93.7" r="2.6" fill="#ffd700" stroke="#000" stroke-width="0.95"/>
<circle cx="393.7" cy="105.6" r="2.6" fill="#ffd700" stroke="#000" stroke-width="0.95"/>
<circle cx="379.8" cy="114.1" r="2.6" fill="#ffd700" stroke="#000" stroke-width="0.95"/>
<circle cx="397.2" cy="118.3" r="2.6" fill="#ffd700" stroke="#000" stroke-width="0.95"/>
<circle cx="416.1" cy="115.3" r="2.6" fill="#ffd700" stroke="#000" stroke-width="0.95"/>
<circle cx="423.5" cy="118.8" r="2.6" fill="#ffd700" stroke="#000" stroke-width="0.95"/>
<circle cx="441.9" cy="107.6" r="2.6" fill="#ffd700" stroke="#000" stroke-width="0.95"/>
<circle cx="422.5" cy="132.7" r="2.6" fill="#ffd700" stroke="#000" stroke-width="0.95"/>
<circle cx="448.1" cy="129.0" r="2.6" fill="#ffd700" stroke="#000" stroke-width="0.95"/>
<circle cx="441.1" cy="143.1" r="2.6" fill="#ffd700" stroke="#000" stroke-width="0.95"/>
<circle cx="443.8" cy="162.0" r="2.6" fill="#ffd700" stroke="#000" stroke-width="0.95"/>
<rect x="93.0" y="146.4" width="261.7" height="159.7" fill="#fff"/>
<path d="M93.0 306.1 L94.0 304.4 L95.0 302.6 L96.0 300.9 L97.0 299.2 L98.0 297.5 L99.0 295.9 L100.0 294.2 L101.1 292.5 L102.1 290.9 L103.1 289.2 L104.1 287.6 L105.1 286.0 L106.1 284.4 L107.1 282.8 L108.1 281.2 L109.1 279.6 L110.1 278.1 L111.1 276.5 L112.1 275.0 L113.1 273.4 L114.1 271.9 L115.1 270.4 L116.2 268.9 L117.2 267.4 L118.2 265.9 L119.2 264.4 L120.2 263.0 L121.2 261.5 L122.2 260.1 L123.2 258.7 L124.2 257.2 L125.2 255.8 L126.2 254.4 L127.2 253.1 L128.2 251.7 L129.2 250.3 L130.2 249.0 L131.2 247.6 L132.3 246.3 L133.3 245.0 L134.3 243.6 L135.3 242.3 L136.3 241.0 L137.3 239.8 L138.3 238.5 L139.3 237.2 L140.3 236.0 L141.3 234.7 L142.3 233.5 L143.3 232.3 L144.3 231.1 L145.3 229.9 L146.3 228.7 L147.4 227.5 L148.4 226.3 L149.4 225.2 L150.4 224.0 L151.4 222.9 L152.4 221.8 L153.4 220.7 L154.4 219.6 L155.4 218.5 L156.4 217.4 L157.4 216.3 L158.4 215.2 L159.4 214.2 L160.4 213.2 L161.4 212.1 L162.5 211.1 L163.5 210.1 L164.5 209.1 L165.5 208.1 L166.5 207.1 L167.5 206.2 L168.5 205.2 L169.5 204.3 L170.5 203.3 L171.5 202.4 L172.5 201.5 L173.5 200.6 L174.5 199.7 L175.5 198.8 L176.5 197.9 L177.5 197.0 L178.6 196.2 L179.6 195.4 L180.6 194.5 L181.6 193.7 L182.6 192.9 L183.6 192.1 L184.6 191.3 L185.6 190.5 L186.6 189.8 L187.6 189.0 L188.6 188.2 L189.6 187.5 L190.6 186.8 L191.6 186.1 L192.6 185.4 L193.7 184.7 L194.7 184.0 L195.7 183.3 L196.7 182.6 L197.7 182.0 L198.7 181.3 L199.7 180.7 L200.7 180.1 L201.7 179.5 L202.7 178.9 L203.7 178.3 L204.7 177.7 L205.7 177.1 L206.7 176.6 L207.7 176.0 L208.8 175.5 L209.8 175.0 L210.8 174.4 L211.8 173.9 L212.8 173.4 L213.8 172.9 L214.8 172.5 L215.8 172.0 L216.8 171.5 L217.8 171.1 L218.8 170.7 L219.8 170.2 L220.8 169.8 L221.8 169.4 L222.8 169.0 L223.8 168.7 L224.9 168.3 L225.9 167.9 L226.9 167.6 L227.9 167.2 L228.9 166.9 L229.9 166.6 L230.9 166.3 L231.9 166.0 L232.9 165.7 L233.9 165.4 L234.9 165.2 L235.9 164.9 L236.9 164.7 L237.9 164.4 L238.9 164.2 L240.0 164.0 L241.0 163.8 L242.0 163.6 L243.0 163.4 L244.0 163.2 L245.0 163.1 L246.0 162.9 L247.0 162.8 L248.0 162.6 L249.0 162.5 L250.0 162.4 L251.0 162.3 L252.0 162.2 L253.0 162.2 L254.0 162.1 L255.1 162.0 L256.1 162.0 L257.1 161.9 L258.1 161.9 L259.1 161.9 L260.1 161.9 L261.1 161.9 L262.1 161.9 L263.1 161.9 L264.1 161.9 L265.1 161.9 L266.1 161.9 L267.1 161.9 L268.1 161.9 L269.1 161.9 L270.2 161.9 L271.2 161.9 L272.2 161.9 L273.2 161.9 L274.2 161.9 L275.2 161.9 L276.2 161.9 L277.2 161.9 L278.2 161.9 L279.2 161.9 L280.2 161.9 L281.2 161.9 L282.2 161.9 L283.2 161.9 L284.2 161.9 L285.2 161.9 L286.3 161.9 L287.3 161.9 L288.3 161.9 L289.3 161.9 L290.3 161.9 L291.3 161.9 L292.3 161.9 L293.3 161.9 L294.3 161.9 L295.3 161.9 L296.3 161.9 L297.3 161.9 L298.3 161.9 L299.3 161.9 L300.3 161.9 L301.4 161.9 L302.4 161.9 L303.4 161.9 L304.4 161.9 L305.4 161.9 L306.4 161.9 L307.4 161.9 L308.4 161.9 L309.4 161.9 L310.4 161.9 L311.4 161.9 L312.4 161.9 L313.4 161.9 L314.4 161.9 L315.4 161.9 L316.5 161.9 L317.5 161.9 L318.5 161.9 L319.5 161.9 L320.5 161.9 L321.5 161.9 L322.5 161.9 L323.5 161.9 L324.5 161.9 L325.5 161.9 L326.5 161.9 L327.5 161.9 L328.5 161.9 L329.5 161.9 L330.5 161.9 L331.5 161.9 L332.6 161.9 L333.6 161.9 L334.6 161.9 L335.6 161.9 L336.6 161.9 L337.6 161.9 L338.6 161.9 L339.6 161.9 L340.6 161.9 L341.6 161.9 L342.6 161.9 L343.6 161.9 L344.6 161.9 L345.6 161.9 L346.6 161.9 L347.7 161.9 L348.7 161.9 L349.7 161.9 L350.7 161.9 L351.7 161.9 L352.7 161.9 L353.7 161.9 L354.7 161.9 L354.7 190.9 L353.7 190.8 L352.7 190.7 L351.7 190.6 L350.7 190.5 L349.7 190.4 L348.7 190.3 L347.7 190.2 L346.6 190.1 L345.6 189.9 L344.6 189.8 L343.6 189.7 L342.6 189.6 L341.6 189.5 L340.6 189.4 L339.6 189.3 L338.6 189.2 L337.6 189.0 L336.6 188.9 L335.6 188.8 L334.6 188.7 L333.6 188.6 L332.6 188.5 L331.5 188.4 L330.5 188.3 L329.5 188.2 L328.5 188.0 L327.5 187.9 L326.5 187.8 L325.5 187.7 L324.5 187.6 L323.5 187.5 L322.5 187.4 L321.5 187.3 L320.5 187.2 L319.5 187.0 L318.5 186.9 L317.5 186.8 L316.5 186.7 L315.4 186.6 L314.4 186.5 L313.4 186.4 L312.4 186.3 L311.4 186.1 L310.4 186.0 L309.4 185.9 L308.4 185.8 L307.4 185.7 L306.4 185.6 L305.4 185.5 L304.4 185.4 L303.4 185.3 L302.4 185.1 L301.4 185.0 L300.3 184.9 L299.3 184.8 L298.3 184.7 L297.3 184.6 L296.3 184.5 L295.3 184.4 L294.3 184.2 L293.3 184.1 L292.3 184.0 L291.3 183.9 L290.3 183.8 L289.3 183.7 L288.3 183.6 L287.3 183.5 L286.3 183.4 L285.2 183.2 L284.2 183.1 L283.2 183.0 L282.2 182.9 L281.2 182.8 L280.2 182.7 L279.2 182.6 L278.2 182.5 L277.2 182.3 L276.2 182.2 L275.2 182.1 L274.2 182.0 L273.2 181.9 L272.2 181.8 L271.2 181.7 L270.2 181.6 L269.1 181.5 L268.1 181.3 L267.1 181.2 L266.1 181.1 L265.1 181.0 L264.1 180.9 L263.1 180.8 L262.1 180.7 L261.1 180.6 L260.1 180.4 L259.1 180.3 L258.1 180.2 L257.1 180.2 L256.1 180.1 L255.1 180.0 L254.0 180.0 L253.0 179.9 L252.0 179.9 L251.0 179.9 L250.0 179.8 L249.0 179.8 L248.0 179.8 L247.0 179.9 L246.0 179.9 L245.0 179.9 L244.0 180.0 L243.0 180.0 L242.0 180.1 L241.0 180.2 L240.0 180.3 L238.9 180.4 L237.9 180.5 L236.9 180.6 L235.9 180.8 L234.9 180.9 L233.9 181.1 L232.9 181.2 L231.9 181.4 L230.9 181.6 L229.9 181.8 L228.9 182.0 L227.9 182.2 L226.9 182.4 L225.9 182.7 L224.9 182.9 L223.8 183.2 L222.8 183.5 L221.8 183.7 L220.8 184.0 L219.8 184.3 L218.8 184.6 L217.8 185.0 L216.8 185.3 L215.8 185.6 L214.8 186.0 L213.8 186.4 L212.8 186.7 L211.8 187.1 L210.8 187.5 L209.8 187.9 L208.8 188.3 L207.7 188.8 L206.7 189.2 L205.7 189.6 L204.7 190.1 L203.7 190.6 L202.7 191.0 L201.7 191.5 L200.7 192.0 L199.7 192.5 L198.7 193.1 L197.7 193.6 L196.7 194.1 L195.7 194.7 L194.7 195.3 L193.7 195.8 L192.6 196.4 L191.6 197.0 L190.6 197.6 L189.6 198.2 L188.6 198.9 L187.6 199.5 L186.6 200.1 L185.6 200.8 L184.6 201.5 L183.6 202.1 L182.6 202.8 L181.6 203.5 L180.6 204.2 L179.6 205.0 L178.6 205.7 L177.5 206.4 L176.5 207.2 L175.5 207.9 L174.5 208.7 L173.5 209.5 L172.5 210.3 L171.5 211.1 L170.5 211.9 L169.5 212.7 L168.5 213.6 L167.5 214.4 L166.5 215.3 L165.5 216.1 L164.5 217.0 L163.5 217.9 L162.5 218.8 L161.4 219.7 L160.4 220.6 L159.4 221.6 L158.4 222.5 L157.4 223.5 L156.4 224.4 L155.4 225.4 L154.4 226.4 L153.4 227.4 L152.4 228.4 L151.4 229.4 L150.4 230.4 L149.4 231.4 L148.4 232.5 L147.4 233.5 L146.3 234.6 L145.3 235.7 L144.3 236.8 L143.3 237.9 L142.3 239.0 L141.3 240.1 L140.3 241.2 L139.3 242.4 L138.3 243.5 L137.3 244.7 L136.3 245.8 L135.3 247.0 L134.3 248.2 L133.3 249.4 L132.3 250.6 L131.2 251.9 L130.2 253.1 L129.2 254.3 L128.2 255.6 L127.2 256.9 L126.2 258.1 L125.2 259.4 L124.2 260.7 L123.2 262.0 L122.2 263.3 L121.2 264.7 L120.2 266.0 L119.2 267.4 L118.2 268.7 L117.2 270.1 L116.2 271.5 L115.1 272.9 L114.1 274.3 L113.1 275.7 L112.1 277.1 L111.1 278.5 L110.1 280.0 L109.1 281.4 L108.1 282.9 L107.1 284.4 L106.1 285.8 L105.1 287.3 L104.1 288.8 L103.1 290.4 L102.1 291.9 L101.1 293.4 L100.0 295.0 L99.0 296.5 L98.0 298.1 L97.0 299.7 L96.0 301.3 L95.0 302.9 L94.0 304.5 L93.0 306.1Z" fill="#d9d9d9"/>
<path d="M93.0 306.1 L94.0 304.5 L95.0 302.9 L96.0 301.3 L97.0 299.7 L98.0 298.1 L99.0 296.5 L100.0 295.0 L101.1 293.4 L102.1 291.9 L103.1 290.4 L104.1 288.8 L105.1 287.3 L106.1 285.8 L107.1 284.4 L108.1 282.9 L109.1 281.4 L110.1 280.0 L111.1 278.5 L112.1 277.1 L113.1 275.7 L114.1 274.3 L115.1 272.9 L116.2 271.5 L117.2 270.1 L118.2 268.7 L119.2 267.4 L120.2 266.0 L121.2 264.7 L122.2 263.3 L123.2 262.0 L124.2 260.7 L125.2 259.4 L126.2 258.1 L127.2 256.9 L128.2 255.6 L129.2 254.3 L130.2 253.1 L131.2 251.9 L132.3 250.6 L133.3 249.4 L134.3 248.2 L135.3 247.0 L136.3 245.8 L137.3 244.7 L138.3 243.5 L139.3 242.4 L140.3 241.2 L141.3 240.1 L142.3 239.0 L143.3 237.9 L144.3 236.8 L145.3 235.7 L146.3 234.6 L147.4 233.5 L148.4 232.5 L149.4 231.4 L150.4 230.4 L151.4 229.4 L152.4 228.4 L153.4 227.4 L154.4 226.4 L155.4 225.4 L156.4 224.4 L157.4 223.5 L158.4 222.5 L159.4 221.6 L160.4 220.6 L161.4 219.7 L162.5 218.8 L163.5 217.9 L164.5 217.0 L165.5 216.1 L166.5 215.3 L167.5 214.4 L168.5 213.6 L169.5 212.7 L170.5 211.9 L171.5 211.1 L172.5 210.3 L173.5 209.5 L174.5 208.7 L175.5 207.9 L176.5 207.2 L177.5 206.4 L178.6 205.7 L179.6 205.0 L180.6 204.2 L181.6 203.5 L182.6 202.8 L183.6 202.1 L184.6 201.5 L185.6 200.8 L186.6 200.1 L187.6 199.5 L188.6 198.9 L189.6 198.2 L190.6 197.6 L191.6 197.0 L192.6 196.4 L193.7 195.8 L194.7 195.3 L195.7 194.7 L196.7 194.1 L197.7 193.6 L198.7 193.1 L199.7 192.5 L200.7 192.0 L201.7 191.5 L202.7 191.0 L203.7 190.6 L204.7 190.1 L205.7 189.6 L206.7 189.2 L207.7 188.8 L208.8 188.3 L209.8 187.9 L210.8 187.5 L211.8 187.1 L212.8 186.7 L213.8 186.4 L214.8 186.0 L215.8 185.6 L216.8 185.3 L217.8 185.0 L218.8 184.6 L219.8 184.3 L220.8 184.0 L221.8 183.7 L222.8 183.5 L223.8 183.2 L224.9 182.9 L225.9 182.7 L226.9 182.4 L227.9 182.2 L228.9 182.0 L229.9 181.8 L230.9 181.6 L231.9 181.4 L232.9 181.2 L233.9 181.1 L234.9 180.9 L235.9 180.8 L236.9 180.6 L237.9 180.5 L238.9 180.4 L240.0 180.3 L241.0 180.2 L242.0 180.1 L243.0 180.0 L244.0 180.0 L245.0 179.9 L246.0 179.9 L247.0 179.9 L248.0 179.8 L249.0 179.8 L250.0 179.8 L251.0 179.9 L252.0 179.9 L253.0 179.9 L254.0 180.0 L255.1 180.0 L256.1 180.1 L257.1 180.2 L258.1 180.2 L259.1 180.3 L260.1 180.4 L261.1 180.6 L262.1 180.7 L263.1 180.8 L264.1 180.9 L265.1 181.0 L266.1 181.1 L267.1 181.2 L268.1 181.3 L269.1 181.5 L270.2 181.6 L271.2 181.7 L272.2 181.8 L273.2 181.9 L274.2 182.0 L275.2 182.1 L276.2 182.2 L277.2 182.3 L278.2 182.5 L279.2 182.6 L280.2 182.7 L281.2 182.8 L282.2 182.9 L283.2 183.0 L284.2 183.1 L285.2 183.2 L286.3 183.4 L287.3 183.5 L288.3 183.6 L289.3 183.7 L290.3 183.8 L291.3 183.9 L292.3 184.0 L293.3 184.1 L294.3 184.2 L295.3 184.4 L296.3 184.5 L297.3 184.6 L298.3 184.7 L299.3 184.8 L300.3 184.9 L301.4 185.0 L302.4 185.1 L303.4 185.3 L304.4 185.4 L305.4 185.5 L306.4 185.6 L307.4 185.7 L308.4 185.8 L309.4 185.9 L310.4 186.0 L311.4 186.1 L312.4 186.3 L313.4 186.4 L314.4 186.5 L315.4 186.6 L316.5 186.7 L317.5 186.8 L318.5 186.9 L319.5 187.0 L320.5 187.2 L321.5 187.3 L322.5 187.4 L323.5 187.5 L324.5 187.6 L325.5 187.7 L326.5 187.8 L327.5 187.9 L328.5 188.0 L329.5 188.2 L330.5 188.3 L331.5 188.4 L332.6 188.5 L333.6 188.6 L334.6 188.7 L335.6 188.8 L336.6 188.9 L337.6 189.0 L338.6 189.2 L339.6 189.3 L340.6 189.4 L341.6 189.5 L342.6 189.6 L343.6 189.7 L344.6 189.8 L345.6 189.9 L346.6 190.1 L347.7 190.2 L348.7 190.3 L349.7 190.4 L350.7 190.5 L351.7 190.6 L352.7 190.7 L353.7 190.8 L354.7 190.9 L354.7 303.3 L353.7 301.7 L352.7 300.2 L351.7 298.6 L350.7 297.1 L349.7 295.6 L348.7 294.1 L347.7 292.6 L346.6 291.1 L345.6 289.7 L344.6 288.2 L343.6 286.8 L342.6 285.4 L341.6 284.0 L340.6 282.7 L339.6 281.3 L338.6 280.0 L337.6 278.7 L336.6 277.4 L335.6 276.1 L334.6 274.8 L333.6 273.5 L332.6 272.3 L331.5 271.1 L330.5 269.9 L329.5 268.7 L328.5 267.5 L327.5 266.3 L326.5 265.1 L325.5 264.0 L324.5 262.9 L323.5 261.7 L322.5 260.6 L321.5 259.5 L320.5 258.4 L319.5 257.4 L318.5 256.3 L317.5 255.3 L316.5 254.2 L315.4 253.2 L314.4 252.2 L313.4 251.2 L312.4 250.2 L311.4 249.2 L310.4 248.3 L309.4 247.3 L308.4 246.4 L307.4 245.4 L306.4 244.5 L305.4 243.6 L304.4 242.7 L303.4 241.8 L302.4 240.9 L301.4 240.0 L300.3 239.2 L299.3 238.3 L298.3 237.5 L297.3 236.6 L296.3 235.8 L295.3 235.0 L294.3 234.2 L293.3 233.4 L292.3 232.6 L291.3 231.8 L290.3 231.0 L289.3 230.3 L288.3 229.5 L287.3 228.8 L286.3 228.0 L285.2 227.3 L284.2 226.6 L283.2 225.9 L282.2 225.2 L281.2 224.4 L280.2 223.8 L279.2 223.1 L278.2 222.4 L277.2 221.7 L276.2 221.1 L275.2 220.4 L274.2 219.7 L273.2 219.1 L272.2 218.5 L271.2 217.8 L270.2 217.2 L269.1 216.6 L268.1 216.0 L267.1 215.4 L266.1 214.8 L265.1 214.2 L264.1 213.6 L263.1 213.0 L262.1 212.4 L261.1 211.9 L260.1 211.3 L259.1 210.8 L258.1 210.2 L257.1 209.7 L256.1 209.2 L255.1 208.7 L254.0 208.2 L253.0 207.8 L252.0 207.3 L251.0 206.9 L250.0 206.5 L249.0 206.1 L248.0 205.7 L247.0 205.4 L246.0 205.0 L245.0 204.7 L244.0 204.4 L243.0 204.1 L242.0 203.8 L241.0 203.5 L240.0 203.2 L238.9 203.0 L237.9 202.8 L236.9 202.6 L235.9 202.4 L234.9 202.2 L233.9 202.0 L232.9 201.9 L231.9 201.7 L230.9 201.6 L229.9 201.5 L228.9 201.4 L227.9 201.3 L226.9 201.2 L225.9 201.2 L224.9 201.1 L223.8 201.1 L222.8 201.1 L221.8 201.1 L220.8 201.1 L219.8 201.1 L218.8 201.2 L217.8 201.3 L216.8 201.3 L215.8 201.4 L214.8 201.5 L213.8 201.6 L212.8 201.8 L211.8 201.9 L210.8 202.0 L209.8 202.2 L208.8 202.4 L207.7 202.6 L206.7 202.8 L205.7 203.0 L204.7 203.3 L203.7 203.5 L202.7 203.8 L201.7 204.0 L200.7 204.3 L199.7 204.6 L198.7 204.9 L197.7 205.3 L196.7 205.6 L195.7 206.0 L194.7 206.3 L193.7 206.7 L192.6 207.1 L191.6 207.5 L190.6 207.9 L189.6 208.4 L188.6 208.8 L187.6 209.3 L186.6 209.7 L185.6 210.2 L184.6 210.7 L183.6 211.2 L182.6 211.7 L181.6 212.3 L180.6 212.8 L179.6 213.4 L178.6 213.9 L177.5 214.5 L176.5 215.1 L175.5 215.7 L174.5 216.3 L173.5 217.0 L172.5 217.6 L171.5 218.3 L170.5 219.0 L169.5 219.6 L168.5 220.3 L167.5 221.0 L166.5 221.8 L165.5 222.5 L164.5 223.2 L163.5 224.0 L162.5 224.8 L161.4 225.5 L160.4 226.3 L159.4 227.1 L158.4 227.9 L157.4 228.8 L156.4 229.6 L155.4 230.5 L154.4 231.3 L153.4 232.2 L152.4 233.1 L151.4 234.0 L150.4 234.9 L149.4 235.8 L148.4 236.8 L147.4 237.7 L146.3 238.7 L145.3 239.7 L144.3 240.6 L143.3 241.6 L142.3 242.6 L141.3 243.7 L140.3 244.7 L139.3 245.7 L138.3 246.8 L137.3 247.8 L136.3 248.9 L135.3 250.0 L134.3 251.1 L133.3 252.2 L132.3 253.3 L131.2 254.5 L130.2 255.6 L129.2 256.8 L128.2 258.0 L127.2 259.1 L126.2 260.3 L125.2 261.5 L124.2 262.8 L123.2 264.0 L122.2 265.2 L121.2 266.5 L120.2 267.7 L119.2 269.0 L118.2 270.3 L117.2 271.6 L116.2 272.9 L115.1 274.2 L114.1 275.5 L113.1 276.9 L112.1 278.2 L111.1 279.6 L110.1 281.0 L109.1 282.4 L108.1 283.8 L107.1 285.2 L106.1 286.6 L105.1 288.0 L104.1 289.5 L103.1 290.9 L102.1 292.4 L101.1 293.9 L100.0 295.4 L99.0 296.9 L98.0 298.4 L97.0 299.9 L96.0 301.4 L95.0 303.0 L94.0 304.5 L93.0 306.1Z" fill="#a6a6a6"/>
<path d="M260.0 161.9 H94.2 M101.0 158.3 L94.2 161.9 L101.0 165.5" fill="none" stroke="#8c8c8c" stroke-width="1.4"/>
<path d="M260.0 161.9 V304.9 M256.4 298.1 L260.0 304.9 L263.6 298.1" fill="none" stroke="#8c8c8c" stroke-width="1.4"/>
<path d="M249.4 180.0 H94.2 M101.0 176.4 L94.2 180.0 L101.0 183.6" fill="none" stroke="#3182bd" stroke-width="1.4"/>
<path d="M249.4 180.0 V304.9 M245.8 298.1 L249.4 304.9 L253.0 298.1" fill="none" stroke="#3182bd" stroke-width="1.4"/>
<path d="M223.4 200.8 H94.2 M101.0 197.2 L94.2 200.8 L101.0 204.4" fill="none" stroke="#31a354" stroke-width="1.4"/>
<path d="M223.4 200.8 V304.9 M219.8 298.1 L223.4 304.9 L227.0 298.1" fill="none" stroke="#31a354" stroke-width="1.4"/>
<path d="M93.0 306.1 L94.0 306.0 L95.0 305.9 L96.0 305.7 L97.0 305.6 L98.0 305.5 L99.0 305.4 L100.0 305.3 L101.1 305.2 L102.1 305.0 L103.1 304.9 L104.1 304.8 L105.1 304.7 L106.1 304.6 L107.1 304.5 L108.1 304.3 L109.1 304.2 L110.1 304.1 L111.1 304.0 L112.1 303.9 L113.1 303.7 L114.1 303.6 L115.1 303.5 L116.2 303.4 L117.2 303.3 L118.2 303.2 L119.2 303.0 L120.2 302.9 L121.2 302.8 L122.2 302.7 L123.2 302.6 L124.2 302.4 L125.2 302.3 L126.2 302.2 L127.2 302.1 L128.2 302.0 L129.2 301.9 L130.2 301.7 L131.2 301.6 L132.3 301.5 L133.3 301.4 L134.3 301.3 L135.3 301.2 L136.3 301.0 L137.3 300.9 L138.3 300.8 L139.3 300.7 L140.3 300.6 L141.3 300.4 L142.3 300.3 L143.3 300.2 L144.3 300.1 L145.3 300.0 L146.3 299.9 L147.4 299.7 L148.4 299.6 L149.4 299.5 L150.4 299.4 L151.4 299.3 L152.4 299.2 L153.4 299.0 L154.4 298.9 L155.4 298.8 L156.4 298.7 L157.4 298.6 L158.4 298.4 L159.4 298.3 L160.4 298.2 L161.4 298.1 L162.5 298.0 L163.5 297.9 L164.5 297.7 L165.5 297.6 L166.5 297.5 L167.5 297.4 L168.5 297.3 L169.5 297.1 L170.5 297.0 L171.5 296.9 L172.5 296.8 L173.5 296.7 L174.5 296.6 L175.5 296.4 L176.5 296.3 L177.5 296.2 L178.6 296.1 L179.6 296.0 L180.6 295.9 L181.6 295.7 L182.6 295.6 L183.6 295.5 L184.6 295.4 L185.6 295.3 L186.6 295.1 L187.6 295.0 L188.6 294.9 L189.6 294.8 L190.6 294.7 L191.6 294.6 L192.6 294.4 L193.7 294.3 L194.7 294.2 L195.7 294.1 L196.7 294.0 L197.7 293.9 L198.7 293.7 L199.7 293.6 L200.7 293.5 L201.7 293.4 L202.7 293.3 L203.7 293.1 L204.7 293.0 L205.7 292.9 L206.7 292.8 L207.7 292.7 L208.8 292.6 L209.8 292.4 L210.8 292.3 L211.8 292.2 L212.8 292.1 L213.8 292.0 L214.8 291.9 L215.8 291.7 L216.8 291.6 L217.8 291.5 L218.8 291.4 L219.8 291.3 L220.8 291.1 L221.8 291.0 L222.8 290.9 L223.8 290.8 L224.9 290.7 L225.9 290.6 L226.9 290.4 L227.9 290.3 L228.9 290.2 L229.9 290.1 L230.9 290.0 L231.9 289.8 L232.9 289.7 L233.9 289.6 L234.9 289.5 L235.9 289.4 L236.9 289.3 L237.9 289.1 L238.9 289.0 L240.0 288.9 L241.0 288.8 L242.0 288.7 L243.0 288.6 L244.0 288.4 L245.0 288.3 L246.0 288.2 L247.0 288.1 L248.0 288.0 L249.0 287.8 L250.0 287.7 L251.0 287.6 L252.0 287.5 L253.0 287.4 L254.0 287.3 L255.1 287.1 L256.1 287.0 L257.1 286.9 L258.1 286.8 L259.1 286.7 L260.1 286.6 L261.1 286.4 L262.1 286.3 L263.1 286.2 L264.1 286.1 L265.1 286.0 L266.1 285.8 L267.1 285.7 L268.1 285.6 L269.1 285.5 L270.2 285.4 L271.2 285.3 L272.2 285.1 L273.2 285.0 L274.2 284.9 L275.2 284.8 L276.2 284.7 L277.2 284.5 L278.2 284.4 L279.2 284.3 L280.2 284.2 L281.2 284.1 L282.2 284.0 L283.2 283.8 L284.2 283.7 L285.2 283.6 L286.3 283.5 L287.3 283.4 L288.3 283.3 L289.3 283.1 L290.3 283.0 L291.3 282.9 L292.3 282.8 L293.3 282.7 L294.3 282.5 L295.3 282.4 L296.3 282.3 L297.3 282.2 L298.3 282.1 L299.3 282.0 L300.3 281.8 L301.4 281.7 L302.4 281.6 L303.4 281.5 L304.4 281.4 L305.4 281.3 L306.4 281.1 L307.4 281.0 L308.4 280.9 L309.4 280.8 L310.4 280.7 L311.4 280.5 L312.4 280.4 L313.4 280.3 L314.4 280.2 L315.4 280.1 L316.5 280.0 L317.5 279.8 L318.5 279.7 L319.5 279.6 L320.5 279.5 L321.5 279.4 L322.5 279.2 L323.5 279.1 L324.5 279.0 L325.5 278.9 L326.5 278.8 L327.5 278.7 L328.5 278.5 L329.5 278.4 L330.5 278.3 L331.5 278.2 L332.6 278.1 L333.6 278.0 L334.6 277.8 L335.6 277.7 L336.6 277.6 L337.6 277.5 L338.6 277.4 L339.6 277.2 L340.6 277.1 L341.6 277.0 L342.6 276.9 L343.6 276.8 L344.6 276.7 L345.6 276.5 L346.6 276.4 L347.7 276.3 L348.7 276.2 L349.7 276.1 L350.7 276.0 L351.7 275.8 L352.7 275.7 L353.7 275.6 L354.7 275.5" fill="none" stroke="#de2d26" stroke-width="1.6" stroke-dasharray="6.2 5.6"/>
<path d="M93.0 301.6 L94.0 301.5 L95.0 301.5 L96.0 301.4 L97.0 301.4 L98.0 301.3 L99.0 301.3 L100.0 301.2 L101.1 301.1 L102.1 301.1 L103.1 301.0 L104.1 301.0 L105.1 300.9 L106.1 300.8 L107.1 300.8 L108.1 300.7 L109.1 300.6 L110.1 300.6 L111.1 300.5 L112.1 300.4 L113.1 300.4 L114.1 300.3 L115.1 300.2 L116.2 300.2 L117.2 300.1 L118.2 300.0 L119.2 299.9 L120.2 299.9 L121.2 299.8 L122.2 299.7 L123.2 299.6 L124.2 299.6 L125.2 299.5 L126.2 299.4 L127.2 299.3 L128.2 299.2 L129.2 299.1 L130.2 299.1 L131.2 299.0 L132.3 298.9 L133.3 298.8 L134.3 298.7 L135.3 298.6 L136.3 298.5 L137.3 298.4 L138.3 298.3 L139.3 298.2 L140.3 298.1 L141.3 298.0 L142.3 297.9 L143.3 297.8 L144.3 297.7 L145.3 297.6 L146.3 297.5 L147.4 297.4 L148.4 297.3 L149.4 297.2 L150.4 297.1 L151.4 297.0 L152.4 296.9 L153.4 296.8 L154.4 296.6 L155.4 296.5 L156.4 296.4 L157.4 296.3 L158.4 296.2 L159.4 296.0 L160.4 295.9 L161.4 295.8 L162.5 295.7 L163.5 295.5 L164.5 295.4 L165.5 295.3 L166.5 295.1 L167.5 295.0 L168.5 294.8 L169.5 294.7 L170.5 294.6 L171.5 294.4 L172.5 294.3 L173.5 294.1 L174.5 294.0 L175.5 293.8 L176.5 293.7 L177.5 293.5 L178.6 293.4 L179.6 293.2 L180.6 293.0 L181.6 292.9 L182.6 292.7 L183.6 292.5 L184.6 292.4 L185.6 292.2 L186.6 292.0 L187.6 291.8 L188.6 291.7 L189.6 291.5 L190.6 291.3 L191.6 291.1 L192.6 290.9 L193.7 290.7 L194.7 290.5 L195.7 290.3 L196.7 290.1 L197.7 289.9 L198.7 289.7 L199.7 289.5 L200.7 289.3 L201.7 289.1 L202.7 288.9 L203.7 288.7 L204.7 288.4 L205.7 288.2 L206.7 288.0 L207.7 287.8 L208.8 287.5 L209.8 287.3 L210.8 287.1 L211.8 286.8 L212.8 286.6 L213.8 286.3 L214.8 286.1 L215.8 285.8 L216.8 285.6 L217.8 285.3 L218.8 285.0 L219.8 284.8 L220.8 284.5 L221.8 284.2 L222.8 284.0 L223.8 283.7 L224.9 283.4 L225.9 283.1 L226.9 282.8 L227.9 282.5 L228.9 282.2 L229.9 281.9 L230.9 281.6 L231.9 281.3 L232.9 281.0 L233.9 280.7 L234.9 280.3 L235.9 280.0 L236.9 279.7 L237.9 279.3 L238.9 279.0 L240.0 278.6 L241.0 278.3 L242.0 277.9 L243.0 277.6 L244.0 277.2 L245.0 276.9 L246.0 276.5 L247.0 276.1 L248.0 275.7 L249.0 275.3 L250.0 274.9 L251.0 274.5 L252.0 274.1 L253.0 273.7 L254.0 273.3 L255.1 272.9 L256.1 272.5 L257.1 272.1 L258.1 271.6 L259.1 271.2 L260.1 270.7 L261.1 270.3 L262.1 269.8 L263.1 269.4 L264.1 268.9 L265.1 268.4 L266.1 267.9 L267.1 267.5 L268.1 267.0 L269.1 266.5 L270.2 266.0 L271.2 265.4 L272.2 264.9 L273.2 264.4 L274.2 263.9 L275.2 263.3 L276.2 262.8 L277.2 262.2 L278.2 261.7 L279.2 261.1 L280.2 260.5 L281.2 259.9 L282.2 259.4 L283.2 258.8 L284.2 258.2 L285.2 257.5 L286.3 256.9 L287.3 256.3 L288.3 255.7 L289.3 255.0 L290.3 254.4 L291.3 253.7 L292.3 253.0 L293.3 252.3 L294.3 251.7 L295.3 251.0 L296.3 250.3 L297.3 249.5 L298.3 248.8 L299.3 248.1 L300.3 247.3 L301.4 246.6 L302.4 245.8 L303.4 245.1 L304.4 244.3 L305.4 243.5 L306.4 242.7 L307.4 241.9 L308.4 241.0 L309.4 240.2 L310.4 239.4 L311.4 238.5 L312.4 237.6 L313.4 236.8 L314.4 235.9 L315.4 235.0 L316.5 234.1 L317.5 233.1 L318.5 232.2 L319.5 231.3 L320.5 230.3 L321.5 229.3 L322.5 228.4 L323.5 227.4 L324.5 226.3 L325.5 225.3 L326.5 224.3 L327.5 223.2 L328.5 222.2 L329.5 221.1 L330.5 220.0 L331.5 218.9 L332.6 217.8 L333.6 216.7 L334.6 215.5 L335.6 214.3 L336.6 213.2 L337.6 212.0 L338.6 210.8 L339.6 209.6 L340.6 208.3 L341.6 207.1 L342.6 205.8 L343.6 204.5 L344.6 203.2 L345.6 201.9 L346.6 200.5 L347.7 199.2 L348.7 197.8 L349.7 196.4 L350.7 195.0 L351.7 193.6 L352.7 192.2 L353.7 190.7 L354.7 189.2" fill="none" stroke="#a50f15" stroke-width="1.6" stroke-dasharray="1.5 4.6 6.2 4.6"/>
<path d="M93.0 306.1 L94.0 304.5 L95.0 302.9 L96.0 301.3 L97.0 299.7 L98.0 298.1 L99.0 296.5 L100.0 295.0 L101.1 293.4 L102.1 291.9 L103.1 290.4 L104.1 288.8 L105.1 287.3 L106.1 285.8 L107.1 284.4 L108.1 282.9 L109.1 281.4 L110.1 280.0 L111.1 278.5 L112.1 277.1 L113.1 275.7 L114.1 274.3 L115.1 272.9 L116.2 271.5 L117.2 270.1 L118.2 268.7 L119.2 267.4 L120.2 266.0 L121.2 264.7 L122.2 263.3 L123.2 262.0 L124.2 260.7 L125.2 259.4 L126.2 258.1 L127.2 256.9 L128.2 255.6 L129.2 254.3 L130.2 253.1 L131.2 251.9 L132.3 250.6 L133.3 249.4 L134.3 248.2 L135.3 247.0 L136.3 245.8 L137.3 244.7 L138.3 243.5 L139.3 242.4 L140.3 241.2 L141.3 240.1 L142.3 239.0 L143.3 237.9 L144.3 236.8 L145.3 235.7 L146.3 234.6 L147.4 233.5 L148.4 232.5 L149.4 231.4 L150.4 230.4 L151.4 229.4 L152.4 228.4 L153.4 227.4 L154.4 226.4 L155.4 225.4 L156.4 224.4 L157.4 223.5 L158.4 222.5 L159.4 221.6 L160.4 220.6 L161.4 219.7 L162.5 218.8 L163.5 217.9 L164.5 217.0 L165.5 216.1 L166.5 215.3 L167.5 214.4 L168.5 213.6 L169.5 212.7 L170.5 211.9 L171.5 211.1 L172.5 210.3 L173.5 209.5 L174.5 208.7 L175.5 207.9 L176.5 207.2 L177.5 206.4 L178.6 205.7 L179.6 205.0 L180.6 204.2 L181.6 203.5 L182.6 202.8 L183.6 202.1 L184.6 201.5 L185.6 200.8 L186.6 200.1 L187.6 199.5 L188.6 198.9 L189.6 198.2 L190.6 197.6 L191.6 197.0 L192.6 196.4 L193.7 195.8 L194.7 195.3 L195.7 194.7 L196.7 194.1 L197.7 193.6 L198.7 193.1 L199.7 192.5 L200.7 192.0 L201.7 191.5 L202.7 191.0 L203.7 190.6 L204.7 190.1 L205.7 189.6 L206.7 189.2 L207.7 188.8 L208.8 188.3 L209.8 187.9 L210.8 187.5 L211.8 187.1 L212.8 186.7 L213.8 186.4 L214.8 186.0 L215.8 185.6 L216.8 185.3 L217.8 185.0 L218.8 184.6 L219.8 184.3 L220.8 184.0 L221.8 183.7 L222.8 183.5 L223.8 183.2 L224.9 182.9 L225.9 182.7 L226.9 182.4 L227.9 182.2 L228.9 182.0 L229.9 181.8 L230.9 181.6 L231.9 181.4 L232.9 181.2 L233.9 181.1 L234.9 180.9 L235.9 180.8 L236.9 180.6 L237.9 180.5 L238.9 180.4 L240.0 180.3 L241.0 180.2 L242.0 180.1 L243.0 180.0 L244.0 180.0 L245.0 179.9 L246.0 179.9 L247.0 179.9 L248.0 179.8 L249.0 179.8 L250.0 179.8 L251.0 179.9 L252.0 179.9 L253.0 179.9 L254.0 180.0 L255.1 180.0 L256.1 180.1 L257.1 180.2 L258.1 180.2 L259.1 180.3 L260.1 180.4 L261.1 180.6 L262.1 180.7 L263.1 180.8 L264.1 180.9 L265.1 181.0 L266.1 181.1 L267.1 181.2 L268.1 181.3 L269.1 181.5 L270.2 181.6 L271.2 181.7 L272.2 181.8 L273.2 181.9 L274.2 182.0 L275.2 182.1 L276.2 182.2 L277.2 182.3 L278.2 182.5 L279.2 182.6 L280.2 182.7 L281.2 182.8 L282.2 182.9 L283.2 183.0 L284.2 183.1 L285.2 183.2 L286.3 183.4 L287.3 183.5 L288.3 183.6 L289.3 183.7 L290.3 183.8 L291.3 183.9 L292.3 184.0 L293.3 184.1 L294.3 184.2 L295.3 184.4 L296.3 184.5 L297.3 184.6 L298.3 184.7 L299.3 184.8 L300.3 184.9 L301.4 185.0 L302.4 185.1 L303.4 185.3 L304.4 185.4 L305.4 185.5 L306.4 185.6 L307.4 185.7 L308.4 185.8 L309.4 185.9 L310.4 186.0 L311.4 186.1 L312.4 186.3 L313.4 186.4 L314.4 186.5 L315.4 186.6 L316.5 186.7 L317.5 186.8 L318.5 186.9 L319.5 187.0 L320.5 187.2 L321.5 187.3 L322.5 187.4 L323.5 187.5 L324.5 187.6 L325.5 187.7 L326.5 187.8 L327.5 187.9 L328.5 188.0 L329.5 188.2 L330.5 188.3 L331.5 188.4 L332.6 188.5 L333.6 188.6 L334.6 188.7 L335.6 188.8 L336.6 188.9 L337.6 189.0 L338.6 189.2 L339.6 189.3 L340.6 189.4 L341.6 189.5 L342.6 189.6 L343.6 189.7 L344.6 189.8 L345.6 189.9 L346.6 190.1 L347.7 190.2 L348.7 190.3 L349.7 190.4 L350.7 190.5 L351.7 190.6 L352.7 190.7 L353.7 190.8 L354.7 190.9" fill="none" stroke="#3182bd" stroke-width="1.5" stroke-dasharray="5.8 5.8"/>
<path d="M93.0 306.1 L94.0 304.5 L95.0 303.0 L96.0 301.4 L97.0 299.9 L98.0 298.4 L99.0 296.9 L100.0 295.4 L101.1 293.9 L102.1 292.4 L103.1 290.9 L104.1 289.5 L105.1 288.0 L106.1 286.6 L107.1 285.2 L108.1 283.8 L109.1 282.4 L110.1 281.0 L111.1 279.6 L112.1 278.2 L113.1 276.9 L114.1 275.5 L115.1 274.2 L116.2 272.9 L117.2 271.6 L118.2 270.3 L119.2 269.0 L120.2 267.7 L121.2 266.5 L122.2 265.2 L123.2 264.0 L124.2 262.8 L125.2 261.5 L126.2 260.3 L127.2 259.1 L128.2 258.0 L129.2 256.8 L130.2 255.6 L131.2 254.5 L132.3 253.3 L133.3 252.2 L134.3 251.1 L135.3 250.0 L136.3 248.9 L137.3 247.8 L138.3 246.8 L139.3 245.7 L140.3 244.7 L141.3 243.7 L142.3 242.6 L143.3 241.6 L144.3 240.6 L145.3 239.7 L146.3 238.7 L147.4 237.7 L148.4 236.8 L149.4 235.8 L150.4 234.9 L151.4 234.0 L152.4 233.1 L153.4 232.2 L154.4 231.3 L155.4 230.5 L156.4 229.6 L157.4 228.8 L158.4 227.9 L159.4 227.1 L160.4 226.3 L161.4 225.5 L162.5 224.8 L163.5 224.0 L164.5 223.2 L165.5 222.5 L166.5 221.8 L167.5 221.0 L168.5 220.3 L169.5 219.6 L170.5 219.0 L171.5 218.3 L172.5 217.6 L173.5 217.0 L174.5 216.3 L175.5 215.7 L176.5 215.1 L177.5 214.5 L178.6 213.9 L179.6 213.4 L180.6 212.8 L181.6 212.3 L182.6 211.7 L183.6 211.2 L184.6 210.7 L185.6 210.2 L186.6 209.7 L187.6 209.3 L188.6 208.8 L189.6 208.4 L190.6 207.9 L191.6 207.5 L192.6 207.1 L193.7 206.7 L194.7 206.3 L195.7 206.0 L196.7 205.6 L197.7 205.3 L198.7 204.9 L199.7 204.6 L200.7 204.3 L201.7 204.0 L202.7 203.8 L203.7 203.5 L204.7 203.3 L205.7 203.0 L206.7 202.8 L207.7 202.6 L208.8 202.4 L209.8 202.2 L210.8 202.0 L211.8 201.9 L212.8 201.8 L213.8 201.6 L214.8 201.5 L215.8 201.4 L216.8 201.3 L217.8 201.3 L218.8 201.2 L219.8 201.1 L220.8 201.1 L221.8 201.1 L222.8 201.1 L223.8 201.1 L224.9 201.1 L225.9 201.2 L226.9 201.2 L227.9 201.3 L228.9 201.4 L229.9 201.5 L230.9 201.6 L231.9 201.7 L232.9 201.9 L233.9 202.0 L234.9 202.2 L235.9 202.4 L236.9 202.6 L237.9 202.8 L238.9 203.0 L240.0 203.2 L241.0 203.5 L242.0 203.8 L243.0 204.1 L244.0 204.4 L245.0 204.7 L246.0 205.0 L247.0 205.4 L248.0 205.7 L249.0 206.1 L250.0 206.5 L251.0 206.9 L252.0 207.3 L253.0 207.8 L254.0 208.2 L255.1 208.7 L256.1 209.2 L257.1 209.7 L258.1 210.2 L259.1 210.8 L260.1 211.3 L261.1 211.9 L262.1 212.4 L263.1 213.0 L264.1 213.6 L265.1 214.2 L266.1 214.8 L267.1 215.4 L268.1 216.0 L269.1 216.6 L270.2 217.2 L271.2 217.8 L272.2 218.5 L273.2 219.1 L274.2 219.7 L275.2 220.4 L276.2 221.1 L277.2 221.7 L278.2 222.4 L279.2 223.1 L280.2 223.8 L281.2 224.4 L282.2 225.2 L283.2 225.9 L284.2 226.6 L285.2 227.3 L286.3 228.0 L287.3 228.8 L288.3 229.5 L289.3 230.3 L290.3 231.0 L291.3 231.8 L292.3 232.6 L293.3 233.4 L294.3 234.2 L295.3 235.0 L296.3 235.8 L297.3 236.6 L298.3 237.5 L299.3 238.3 L300.3 239.2 L301.4 240.0 L302.4 240.9 L303.4 241.8 L304.4 242.7 L305.4 243.6 L306.4 244.5 L307.4 245.4 L308.4 246.4 L309.4 247.3 L310.4 248.3 L311.4 249.2 L312.4 250.2 L313.4 251.2 L314.4 252.2 L315.4 253.2 L316.5 254.2 L317.5 255.3 L318.5 256.3 L319.5 257.4 L320.5 258.4 L321.5 259.5 L322.5 260.6 L323.5 261.7 L324.5 262.9 L325.5 264.0 L326.5 265.1 L327.5 266.3 L328.5 267.5 L329.5 268.7 L330.5 269.9 L331.5 271.1 L332.6 272.3 L333.6 273.5 L334.6 274.8 L335.6 276.1 L336.6 277.4 L337.6 278.7 L338.6 280.0 L339.6 281.3 L340.6 282.7 L341.6 284.0 L342.6 285.4 L343.6 286.8 L344.6 288.2 L345.6 289.7 L346.6 291.1 L347.7 292.6 L348.7 294.1 L349.7 295.6 L350.7 297.1 L351.7 298.6 L352.7 300.2 L353.7 301.7 L354.7 303.3" fill="none" stroke="#31a354" stroke-width="1.5" stroke-dasharray="1.5 4.6 6.2 4.6"/>
<path d="M93.0 306.1 L94.0 304.4 L95.0 302.6 L96.0 300.9 L97.0 299.2 L98.0 297.5 L99.0 295.9 L100.0 294.2 L101.1 292.5 L102.1 290.9 L103.1 289.2 L104.1 287.6 L105.1 286.0 L106.1 284.4 L107.1 282.8 L108.1 281.2 L109.1 279.6 L110.1 278.1 L111.1 276.5 L112.1 275.0 L113.1 273.4 L114.1 271.9 L115.1 270.4 L116.2 268.9 L117.2 267.4 L118.2 265.9 L119.2 264.4 L120.2 263.0 L121.2 261.5 L122.2 260.1 L123.2 258.7 L124.2 257.2 L125.2 255.8 L126.2 254.4 L127.2 253.1 L128.2 251.7 L129.2 250.3 L130.2 249.0 L131.2 247.6 L132.3 246.3 L133.3 245.0 L134.3 243.6 L135.3 242.3 L136.3 241.0 L137.3 239.8 L138.3 238.5 L139.3 237.2 L140.3 236.0 L141.3 234.7 L142.3 233.5 L143.3 232.3 L144.3 231.1 L145.3 229.9 L146.3 228.7 L147.4 227.5 L148.4 226.3 L149.4 225.2 L150.4 224.0 L151.4 222.9 L152.4 221.8 L153.4 220.7 L154.4 219.6 L155.4 218.5 L156.4 217.4 L157.4 216.3 L158.4 215.2 L159.4 214.2 L160.4 213.2 L161.4 212.1 L162.5 211.1 L163.5 210.1 L164.5 209.1 L165.5 208.1 L166.5 207.1 L167.5 206.2 L168.5 205.2 L169.5 204.3 L170.5 203.3 L171.5 202.4 L172.5 201.5 L173.5 200.6 L174.5 199.7 L175.5 198.8 L176.5 197.9 L177.5 197.0 L178.6 196.2 L179.6 195.4 L180.6 194.5 L181.6 193.7 L182.6 192.9 L183.6 192.1 L184.6 191.3 L185.6 190.5 L186.6 189.8 L187.6 189.0 L188.6 188.2 L189.6 187.5 L190.6 186.8 L191.6 186.1 L192.6 185.4 L193.7 184.7 L194.7 184.0 L195.7 183.3 L196.7 182.6 L197.7 182.0 L198.7 181.3 L199.7 180.7 L200.7 180.1 L201.7 179.5 L202.7 178.9 L203.7 178.3 L204.7 177.7 L205.7 177.1 L206.7 176.6 L207.7 176.0 L208.8 175.5 L209.8 175.0 L210.8 174.4 L211.8 173.9 L212.8 173.4 L213.8 172.9 L214.8 172.5 L215.8 172.0 L216.8 171.5 L217.8 171.1 L218.8 170.7 L219.8 170.2 L220.8 169.8 L221.8 169.4 L222.8 169.0 L223.8 168.7 L224.9 168.3 L225.9 167.9 L226.9 167.6 L227.9 167.2 L228.9 166.9 L229.9 166.6 L230.9 166.3 L231.9 166.0 L232.9 165.7 L233.9 165.4 L234.9 165.2 L235.9 164.9 L236.9 164.7 L237.9 164.4 L238.9 164.2 L240.0 164.0 L241.0 163.8 L242.0 163.6 L243.0 163.4 L244.0 163.2 L245.0 163.1 L246.0 162.9 L247.0 162.8 L248.0 162.6 L249.0 162.5 L250.0 162.4 L251.0 162.3 L252.0 162.2 L253.0 162.2 L254.0 162.1 L255.1 162.0 L256.1 162.0 L257.1 161.9 L258.1 161.9 L259.1 161.9 L260.1 161.9 L261.1 161.9 L262.1 161.9 L263.1 161.9 L264.1 161.9 L265.1 161.9 L266.1 161.9 L267.1 161.9 L268.1 161.9 L269.1 161.9 L270.2 161.9 L271.2 161.9 L272.2 161.9 L273.2 161.9 L274.2 161.9 L275.2 161.9 L276.2 161.9 L277.2 161.9 L278.2 161.9 L279.2 161.9 L280.2 161.9 L281.2 161.9 L282.2 161.9 L283.2 161.9 L284.2 161.9 L285.2 161.9 L286.3 161.9 L287.3 161.9 L288.3 161.9 L289.3 161.9 L290.3 161.9 L291.3 161.9 L292.3 161.9 L293.3 161.9 L294.3 161.9 L295.3 161.9 L296.3 161.9 L297.3 161.9 L298.3 161.9 L299.3 161.9 L300.3 161.9 L301.4 161.9 L302.4 161.9 L303.4 161.9 L304.4 161.9 L305.4 161.9 L306.4 161.9 L307.4 161.9 L308.4 161.9 L309.4 161.9 L310.4 161.9 L311.4 161.9 L312.4 161.9 L313.4 161.9 L314.4 161.9 L315.4 161.9 L316.5 161.9 L317.5 161.9 L318.5 161.9 L319.5 161.9 L320.5 161.9 L321.5 161.9 L322.5 161.9 L323.5 161.9 L324.5 161.9 L325.5 161.9 L326.5 161.9 L327.5 161.9 L328.5 161.9 L329.5 161.9 L330.5 161.9 L331.5 161.9 L332.6 161.9 L333.6 161.9 L334.6 161.9 L335.6 161.9 L336.6 161.9 L337.6 161.9 L338.6 161.9 L339.6 161.9 L340.6 161.9 L341.6 161.9 L342.6 161.9 L343.6 161.9 L344.6 161.9 L345.6 161.9 L346.6 161.9 L347.7 161.9 L348.7 161.9 L349.7 161.9 L350.7 161.9 L351.7 161.9 L352.7 161.9 L353.7 161.9 L354.7 161.9" fill="none" stroke="#000" stroke-width="1.7"/>
<circle cx="260.0" cy="161.9" r="3.1" fill="#000"/>
<rect x="246.9" y="177.5" width="5" height="5" fill="#3182bd" stroke="#000" stroke-width="0.8"/>
<path d="M223.4 196.3 L227.3 202.9 L219.5 202.9 Z" fill="#31a354" stroke="#000" stroke-width="0.8"/>
<rect x="93.0" y="146.4" width="261.7" height="159.7" fill="none" stroke="#000" stroke-width="1.4"/>
<text x="103.8" y="157.3" font-size="8.2" fill="#000">Agronomic</text>
<text x="103.8" y="175.3" font-size="8.2" fill="#3182bd">Economic</text>
<text x="103.8" y="195.6" font-size="8.2" fill="#31a354">Environmental</text>
<text transform="translate(114.8 292.8) rotate(-8.3)" font-size="8.3" fill="#a50f15">Environmental Cost ($)</text>
<text transform="translate(270.0 294.8) rotate(-5)" font-size="8.2" fill="#de2d26">Fertilizer Cost ($)</text>
<text x="140.4" y="322.8" font-size="15">Nitrogen rate <tspan font-size="19">(</tspan>kg N ha<tspan dy="-6.2" font-size="10.5">−1</tspan><tspan dy="6.2" font-size="19">)</tspan></text>
<text transform="translate(85.2 296) rotate(-90)" font-size="15">Partial Profit <tspan font-size="19">(</tspan>$ ha<tspan dy="-6.2" font-size="10.5">−1</tspan><tspan dy="6.2" font-size="19">)</tspan></text>
<rect x="62.9" y="0.5" width="621.5" height="327.6" fill="none" stroke="#000" stroke-width="1.2"/>
<line x1="51.5" x2="62.9" y1="7.0" y2="7.0" stroke="#000" stroke-width="1.2"/>
<text x="48.1" y="11.3" font-size="12" text-anchor="end">50°N</text>
<line x1="51.5" x2="62.9" y1="68.6" y2="68.6" stroke="#000" stroke-width="1.2"/>
<text x="48.1" y="72.9" font-size="12" text-anchor="end">45°N</text>
<line x1="51.5" x2="62.9" y1="130.2" y2="130.2" stroke="#000" stroke-width="1.2"/>
<text x="48.1" y="134.5" font-size="12" text-anchor="end">40°N</text>
<line x1="51.5" x2="62.9" y1="191.7" y2="191.7" stroke="#000" stroke-width="1.2"/>
<text x="48.1" y="196.0" font-size="12" text-anchor="end">35°N</text>
<line x1="51.5" x2="62.9" y1="253.3" y2="253.3" stroke="#000" stroke-width="1.2"/>
<text x="48.1" y="257.6" font-size="12" text-anchor="end">30°N</text>
<line x1="51.5" x2="62.9" y1="314.9" y2="314.9" stroke="#000" stroke-width="1.2"/>
<text x="48.1" y="319.2" font-size="12" text-anchor="end">25°N</text>
<line x1="135.7" x2="135.7" y1="328.1" y2="338.5" stroke="#000" stroke-width="1.2"/>
<text x="136.2" y="351.5" font-size="12" text-anchor="middle">120°W</text>
<line x1="234.0" x2="234.0" y1="328.1" y2="338.5" stroke="#000" stroke-width="1.2"/>
<text x="234.5" y="351.5" font-size="12" text-anchor="middle">110°W</text>
<line x1="332.3" x2="332.3" y1="328.1" y2="338.5" stroke="#000" stroke-width="1.2"/>
<text x="332.8" y="351.5" font-size="12" text-anchor="middle">100°W</text>
<line x1="430.7" x2="430.7" y1="328.1" y2="338.5" stroke="#000" stroke-width="1.2"/>
<text x="431.2" y="351.5" font-size="12" text-anchor="middle">90°W</text>
<line x1="529.0" x2="529.0" y1="328.1" y2="338.5" stroke="#000" stroke-width="1.2"/>
<text x="529.5" y="351.5" font-size="12" text-anchor="middle">80°W</text>
<line x1="627.3" x2="627.3" y1="328.1" y2="338.5" stroke="#000" stroke-width="1.2"/>
<text x="627.8" y="351.5" font-size="12" text-anchor="middle">70°W</text>
<text x="329.1" y="371" font-size="14.8">Longitude<tspan dy="-6.3" font-size="10.5">o</tspan><tspan dy="6.3"> W</tspan></text>
<text transform="translate(13.6 201.2) rotate(-90)" font-size="14.8">Latitude<tspan dy="-6.3" font-size="10.5">o</tspan><tspan dy="6.3"> N</tspan></text>
</svg></body></html>
